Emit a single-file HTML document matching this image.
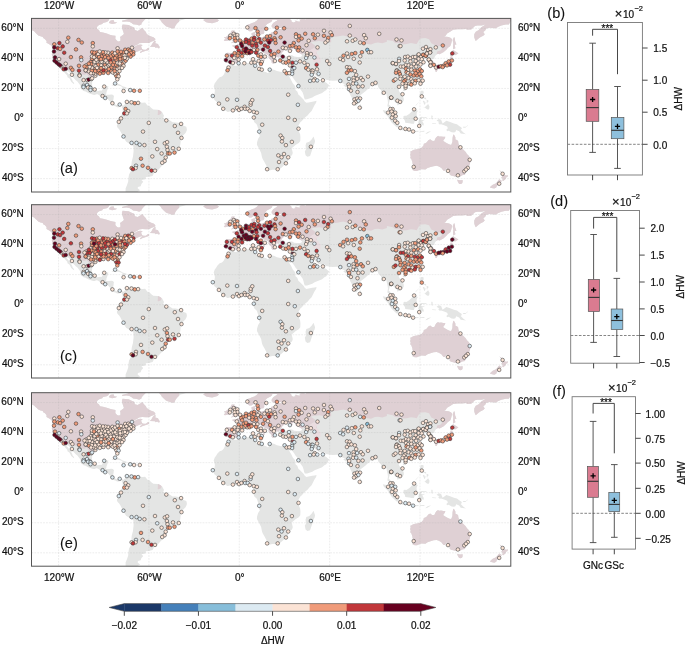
<!DOCTYPE html>
<html><head><meta charset="utf-8"><style>
html,body{margin:0;padding:0;background:#fff;}
svg{display:block;}
text{font-family:'Liberation Sans',Arial,sans-serif;font-size:10px;fill:#111;stroke:#111;stroke-width:0.22px;}
</style></head><body>
<svg width="685" height="645" viewBox="0 0 685 645">
<rect width="685" height="645" fill="#fff"/>
<clipPath id="clipa"><rect x="31.50" y="18.40" width="479.30" height="173.60"/></clipPath><g clip-path="url(#clipa)"><g transform="translate(239.300 118.500) scale(1.5060 1.5030)"><path d="M47.00,25.00L45.20,25.50L44.00,24.50L43.50,22.00L44.30,20.50L44.00,18.00L44.50,16.20L46.50,15.50L48.00,14.00L49.30,12.00L50.30,15.00L50.00,16.50L49.50,17.50L48.50,20.50L47.50,23.50L47.00,25.00ZM3.00,-36.80L5.00,-36.70L6.50,-37.00L8.50,-36.90L9.50,-37.30L10.30,-36.80L10.80,-35.50L10.50,-34.00L11.50,-33.20L13.20,-32.90L15.20,-32.30L15.50,-31.50L17.50,-31.00L19.00,-30.30L20.00,-31.00L20.00,-32.00L21.00,-32.80L23.00,-32.50L25.00,-31.60L28.00,-30.90L30.00,-31.30L31.00,-31.60L32.30,-31.30L34.20,-31.30L34.80,-32.50L35.10,-33.20L35.50,-34.50L35.90,-35.50L36.00,-36.50L35.50,-36.60L34.50,-36.80L33.00,-36.20L32.00,-36.50L30.50,-36.60L29.00,-36.60L27.50,-37.00L26.50,-38.30L26.50,-39.50L26.20,-40.20L27.50,-40.50L29.00,-41.00L29.50,-41.20L31.50,-41.30L33.50,-42.00L35.00,-42.00L36.50,-41.30L38.50,-41.00L40.50,-41.00L41.50,-41.50L41.60,-42.50L40.00,-43.40L38.50,-44.50L37.00,-45.00L38.00,-46.50L39.20,-47.20L37.00,-46.80L35.00,-46.20L35.50,-45.30L34.00,-44.40L33.00,-45.30L32.50,-45.50L33.50,-46.00L31.50,-46.60L30.70,-46.50L30.00,-45.50L29.50,-45.00L28.70,-44.30L28.00,-43.30L27.90,-42.50L28.00,-41.80L29.00,-41.20L27.50,-40.80L26.20,-40.60L25.00,-40.90L23.80,-40.70L22.90,-40.60L23.50,-39.80L22.80,-39.00L24.00,-38.20L23.00,-37.90L23.00,-36.50L22.50,-36.40L21.70,-36.90L21.30,-37.60L21.50,-38.30L20.80,-39.00L20.00,-39.70L19.40,-40.50L19.50,-41.80L18.80,-42.30L17.50,-43.00L16.00,-43.50L15.00,-44.50L14.50,-45.20L13.70,-45.10L13.80,-45.60L12.30,-45.40L12.50,-44.50L13.50,-43.60L14.50,-42.20L16.00,-41.50L17.50,-40.80L18.50,-40.10L17.20,-40.40L16.50,-39.50L17.10,-39.00L16.10,-38.00L15.60,-38.20L16.00,-39.50L15.50,-40.10L14.50,-40.60L13.50,-41.20L12.00,-42.00L10.50,-43.00L10.00,-44.00L8.90,-44.40L7.50,-43.80L6.50,-43.10L5.00,-43.40L4.00,-43.50L3.00,-43.00L3.20,-41.90L2.20,-41.40L0.80,-41.00L0.00,-39.80L-0.30,-39.50L0.20,-38.70L-0.70,-37.60L-2.00,-36.70L-4.40,-36.70L-5.60,-36.00L-6.30,-36.50L-7.40,-37.20L-8.90,-37.00L-8.80,-38.50L-9.50,-38.80L-9.00,-39.80L-8.70,-41.00L-8.90,-42.00L-9.30,-43.00L-8.00,-43.70L-5.80,-43.60L-3.80,-43.50L-1.80,-43.40L-1.40,-44.50L-1.20,-46.00L-2.20,-47.10L-4.40,-47.90L-4.70,-48.50L-3.00,-48.80L-1.60,-48.60L-1.40,-49.70L-0.20,-49.30L1.30,-50.00L1.60,-50.90L2.50,-51.10L3.40,-51.40L4.20,-52.00L4.80,-53.00L6.00,-53.50L7.20,-53.50L8.60,-53.90L8.90,-54.80L8.20,-55.50L8.10,-56.80L10.50,-57.70L10.30,-56.50L10.90,-56.30L10.00,-55.00L10.90,-54.40L12.00,-54.20L13.80,-54.10L14.50,-53.90L16.50,-54.50L18.50,-54.80L19.50,-54.40L21.20,-55.20L21.10,-56.00L21.00,-57.00L22.50,-57.60L24.30,-57.00L23.50,-58.50L24.00,-59.30L25.50,-59.60L28.00,-59.50L30.20,-59.90L29.00,-60.20L26.50,-60.40L23.00,-59.90L21.50,-60.80L21.50,-62.00L22.50,-63.50L24.50,-64.80L25.40,-65.10L24.60,-65.70L22.00,-65.70L21.50,-64.50L20.50,-63.80L18.50,-62.80L17.40,-61.60L17.20,-60.80L18.80,-60.00L18.50,-59.30L16.50,-58.40L16.60,-57.00L16.00,-56.20L14.50,-56.00L12.90,-55.40L12.60,-56.20L11.90,-57.70L11.20,-59.00L10.50,-59.50L9.50,-59.00L8.00,-58.10L6.60,-58.10L5.60,-58.80L5.20,-60.00L5.00,-61.50L5.50,-62.30L7.00,-62.90L8.50,-63.50L10.00,-64.00L11.50,-65.00L12.50,-66.20L13.50,-67.50L15.00,-69.00L18.33,-70.00L32.50,-70.00L35.00,-69.50L41.00,-67.80L41.20,-66.80L40.20,-66.40L38.50,-66.10L36.00,-66.50L34.50,-66.60L33.50,-66.30L34.80,-65.00L34.60,-64.50L36.00,-63.90L37.50,-64.30L37.00,-64.80L36.50,-65.00L37.80,-65.10L39.00,-64.60L40.50,-64.60L40.20,-65.30L39.80,-65.70L41.00,-66.10L42.00,-66.50L44.20,-65.90L44.50,-66.80L45.00,-68.00L55.00,-69.00L60.00,-70.00L180.50,-70.00L180.50,-65.30L179.00,-62.50L177.00,-62.50L174.00,-61.80L172.00,-61.00L170.30,-60.00L166.00,-60.30L164.00,-59.80L163.30,-58.50L162.00,-57.50L163.00,-56.00L162.00,-55.00L160.00,-54.00L158.70,-53.00L157.00,-51.50L156.50,-52.50L156.00,-54.00L156.00,-56.00L157.00,-57.80L159.00,-58.80L160.50,-60.50L162.00,-61.50L163.50,-62.50L161.00,-61.80L158.00,-61.80L156.50,-61.50L154.00,-59.20L151.00,-59.00L150.80,-59.60L148.00,-59.30L145.00,-59.40L142.00,-59.00L140.50,-58.00L138.00,-56.50L137.00,-55.00L136.00,-54.50L139.00,-54.20L140.50,-53.50L141.40,-52.50L141.00,-51.00L140.50,-49.00L140.00,-48.00L138.50,-47.00L137.50,-45.80L135.50,-44.00L133.00,-42.70L131.90,-43.10L130.70,-42.40L129.70,-41.00L129.50,-40.00L128.50,-39.50L127.50,-39.50L128.00,-39.00L128.50,-38.30L129.40,-37.00L129.50,-35.50L129.00,-35.10L127.80,-34.80L126.50,-34.40L126.50,-35.50L126.80,-36.50L126.60,-37.40L126.20,-37.80L125.00,-38.00L125.30,-39.20L124.50,-39.80L122.50,-39.50L121.20,-38.80L121.70,-39.50L122.20,-40.50L121.50,-40.90L120.50,-40.20L119.50,-39.80L118.50,-39.10L117.70,-38.70L118.50,-38.00L119.00,-37.20L120.00,-37.50L121.50,-37.50L122.50,-37.00L121.00,-36.50L120.20,-36.00L119.30,-35.00L120.00,-34.00L120.80,-32.50L121.80,-31.70L121.90,-30.90L121.00,-30.30L122.00,-29.80L121.50,-28.50L120.50,-27.50L119.50,-26.00L118.50,-24.60L117.00,-23.50L115.50,-22.80L114.20,-22.30L113.50,-22.20L112.00,-21.80L110.50,-21.20L110.20,-20.30L109.80,-21.40L108.50,-21.70L107.50,-21.00L106.70,-20.50L105.80,-19.00L106.50,-17.50L107.50,-16.30L108.30,-15.50L109.20,-13.50L109.20,-12.00L108.50,-11.00L107.00,-10.40L106.50,-9.50L105.00,-8.60L104.80,-9.60L104.50,-10.40L103.50,-10.60L102.80,-12.00L101.50,-12.70L100.90,-13.40L100.00,-13.00L99.90,-12.00L99.50,-10.50L99.20,-9.30L100.30,-8.40L100.50,-7.30L101.50,-6.80L102.20,-6.20L103.40,-4.90L103.50,-3.00L104.20,-1.40L103.50,-1.30L102.50,-2.00L101.30,-2.90L100.60,-4.00L100.30,-5.50L100.20,-6.50L99.50,-7.50L98.30,-8.20L98.50,-9.50L98.70,-10.50L98.50,-12.50L98.00,-14.50L97.60,-16.50L96.50,-16.80L95.30,-15.80L94.30,-16.00L94.50,-17.50L94.00,-19.00L93.00,-20.00L92.30,-20.80L91.80,-22.30L90.50,-22.00L89.00,-21.80L87.00,-21.50L86.50,-20.20L85.00,-19.30L84.00,-18.30L82.30,-17.00L80.30,-15.50L80.20,-13.10L79.80,-11.50L79.80,-10.30L78.20,-8.90L77.50,-8.10L76.50,-8.90L76.00,-10.50L75.30,-12.20L74.60,-14.00L73.80,-15.50L73.00,-17.50L72.80,-19.00L72.70,-21.00L72.50,-21.80L72.20,-21.30L70.80,-20.70L69.00,-22.30L70.20,-22.70L68.60,-23.50L67.50,-23.80L66.80,-25.00L65.00,-25.30L62.00,-25.10L60.50,-25.30L58.50,-25.60L57.30,-25.80L56.50,-27.10L55.00,-26.70L53.50,-26.90L51.50,-27.90L50.50,-29.00L49.50,-30.00L48.50,-30.20L48.00,-29.50L48.50,-28.30L49.50,-27.00L50.20,-26.20L51.00,-24.70L51.60,-25.90L51.50,-24.50L53.00,-24.20L54.50,-24.30L56.00,-26.00L56.30,-26.40L56.50,-24.50L57.80,-23.80L59.00,-22.60L59.80,-22.30L58.70,-20.50L57.80,-19.00L56.50,-18.20L55.00,-17.00L52.50,-16.00L50.00,-15.00L48.50,-14.00L45.00,-12.80L43.50,-12.70L43.00,-14.00L42.70,-15.50L42.00,-17.50L40.50,-19.50L39.20,-21.50L38.50,-23.50L37.50,-24.50L36.50,-26.00L35.00,-28.00L35.00,-29.50L34.90,-29.50L34.30,-27.80L33.50,-28.20L32.50,-29.90L33.50,-27.30L34.50,-25.50L35.50,-23.50L36.80,-22.00L37.20,-21.00L37.30,-19.00L38.50,-18.00L39.30,-15.80L40.00,-15.30L41.50,-13.80L42.80,-12.50L43.30,-11.50L44.50,-10.40L46.00,-10.70L48.50,-11.20L50.00,-11.50L51.30,-11.80L51.00,-10.50L50.00,-9.00L49.00,-7.00L48.00,-5.00L46.50,-3.50L45.30,-2.00L44.00,-1.00L42.50,0.50L41.50,1.70L40.50,2.50L39.70,4.00L39.30,4.70L38.80,5.80L39.30,6.80L39.50,8.50L40.40,10.50L40.60,12.50L40.50,15.00L39.50,16.30L37.50,17.50L36.00,18.80L34.70,19.80L35.20,21.50L35.50,23.00L35.00,24.50L33.50,25.30L32.60,25.90L32.90,26.50L32.30,28.50L31.00,29.80L29.50,31.30L28.00,32.70L27.00,33.50L25.60,34.00L24.00,34.10L22.00,34.10L20.50,34.50L19.70,34.80L18.50,34.30L18.40,33.90L18.00,31.50L17.20,30.00L16.50,28.60L15.50,27.00L15.00,25.50L14.50,22.90L13.50,20.80L12.50,19.00L11.70,17.50L11.80,15.80L12.50,13.50L13.70,11.70L13.00,10.50L13.40,8.80L13.00,7.50L12.30,6.10L12.00,5.00L11.50,3.80L10.00,2.50L9.30,0.50L9.30,-0.80L9.60,-2.00L9.80,-3.00L9.50,-4.00L8.50,-4.60L7.50,-4.50L6.20,-4.30L5.50,-5.20L4.50,-6.20L3.40,-6.40L2.50,-6.40L1.20,-6.10L0.00,-5.60L-2.00,-4.80L-3.00,-5.10L-5.00,-5.10L-7.50,-4.40L-8.00,-4.50L-10.00,-6.00L-11.50,-6.90L-13.00,-8.30L-13.50,-9.50L-14.50,-10.50L-15.50,-11.50L-16.70,-12.40L-16.80,-13.50L-17.50,-14.70L-16.50,-16.50L-16.20,-18.50L-16.50,-20.00L-17.00,-21.50L-16.30,-23.50L-15.50,-24.50L-14.50,-26.00L-13.00,-27.50L-11.50,-28.00L-10.50,-29.00L-9.70,-30.50L-9.30,-32.50L-7.60,-33.60L-6.80,-34.00L-6.50,-34.50L-5.90,-35.80L-5.30,-35.90L-3.50,-35.20L-2.00,-35.10L-0.60,-35.80L1.00,-36.50L3.00,-36.80ZM80.50,-5.90L79.90,-6.80L79.80,-8.50L80.20,-9.80L81.00,-8.50L81.80,-7.20L81.30,-6.20L80.50,-5.90ZM-86.30,-66.00L-87.00,-64.90L-88.00,-64.20L-90.50,-63.60L-91.00,-62.80L-93.00,-62.20L-94.00,-61.50L-94.60,-60.50L-94.30,-59.50L-93.20,-58.80L-92.50,-57.50L-90.50,-57.20L-88.00,-56.50L-86.00,-55.80L-84.00,-55.30L-82.20,-55.10L-82.30,-53.00L-81.50,-52.00L-80.50,-51.30L-79.00,-51.50L-78.90,-53.00L-79.20,-54.30L-77.80,-55.30L-76.60,-56.30L-77.00,-57.50L-77.50,-59.00L-78.00,-61.00L-77.50,-62.50L-75.50,-62.30L-73.50,-62.20L-71.50,-61.20L-69.80,-60.50L-69.30,-58.80L-67.50,-58.30L-65.50,-59.50L-64.50,-60.30L-63.00,-58.50L-62.00,-57.50L-61.50,-56.30L-60.00,-55.30L-58.50,-54.50L-57.00,-54.00L-55.80,-53.00L-55.80,-52.00L-57.20,-51.50L-58.50,-51.00L-60.00,-50.20L-62.00,-50.20L-64.50,-50.30L-66.50,-50.10L-67.50,-49.30L-69.00,-48.50L-70.00,-47.80L-71.20,-46.90L-70.50,-47.10L-69.70,-47.60L-68.50,-48.40L-67.00,-49.00L-65.50,-49.20L-64.20,-48.90L-64.50,-48.50L-65.30,-47.80L-64.80,-47.00L-64.50,-46.20L-63.50,-45.80L-62.00,-45.80L-61.50,-46.30L-60.50,-47.00L-59.80,-46.30L-60.00,-45.80L-61.00,-45.30L-62.00,-45.00L-63.50,-44.60L-64.50,-44.20L-65.60,-43.50L-66.10,-44.00L-65.50,-44.60L-64.40,-45.30L-65.00,-45.50L-66.20,-45.20L-67.00,-44.80L-68.00,-44.40L-69.00,-44.10L-70.20,-43.70L-70.60,-43.10L-70.80,-42.60L-70.60,-42.00L-70.00,-42.00L-70.00,-41.60L-70.60,-41.50L-71.00,-41.50L-71.80,-41.30L-72.00,-41.00L-73.00,-40.70L-74.00,-40.60L-74.00,-40.20L-74.30,-39.50L-74.90,-38.90L-75.00,-38.80L-75.10,-38.30L-75.60,-37.50L-76.00,-36.90L-75.80,-36.20L-75.60,-35.20L-76.70,-34.70L-77.80,-34.20L-78.80,-33.80L-79.60,-33.00L-80.50,-32.30L-81.20,-31.50L-81.40,-30.50L-81.00,-29.40L-80.60,-28.30L-80.10,-27.00L-80.10,-26.20L-80.40,-25.30L-81.10,-25.20L-81.70,-25.90L-82.20,-26.70L-82.70,-27.80L-83.00,-29.00L-83.80,-29.80L-84.50,-29.90L-85.30,-29.70L-86.00,-30.30L-87.00,-30.40L-88.00,-30.50L-88.80,-30.40L-89.60,-30.10L-89.40,-29.00L-90.90,-29.10L-92.30,-29.60L-93.80,-29.70L-94.80,-29.30L-95.50,-28.80L-96.80,-28.30L-97.40,-27.50L-97.30,-26.50L-97.40,-25.50L-97.70,-24.00L-97.80,-22.50L-97.50,-21.30L-97.10,-20.40L-96.50,-19.50L-95.90,-18.80L-94.80,-18.50L-94.00,-18.20L-92.50,-18.60L-91.50,-18.50L-90.80,-19.30L-90.50,-20.00L-90.30,-21.10L-88.50,-21.50L-87.50,-21.50L-86.80,-21.30L-87.40,-20.30L-87.50,-19.30L-87.90,-18.30L-88.20,-17.50L-88.30,-16.50L-88.60,-15.70L-88.00,-15.80L-86.50,-15.80L-85.00,-15.90L-84.00,-15.80L-83.20,-15.00L-83.40,-14.20L-83.50,-12.90L-83.80,-11.90L-83.70,-11.00L-83.40,-10.40L-82.60,-9.60L-82.20,-9.20L-81.70,-9.00L-80.90,-8.90L-79.90,-9.40L-79.00,-9.60L-78.00,-9.20L-77.40,-8.70L-76.80,-8.60L-76.00,-9.40L-75.50,-10.40L-74.20,-11.10L-73.30,-11.30L-72.20,-12.30L-71.90,-11.60L-71.60,-10.80L-70.20,-11.90L-69.80,-11.50L-68.30,-10.90L-67.50,-10.50L-66.00,-10.60L-64.20,-10.50L-62.50,-10.60L-62.00,-10.00L-61.00,-8.60L-59.80,-8.30L-58.20,-6.80L-57.10,-6.00L-54.00,-5.80L-52.50,-5.20L-51.20,-4.20L-50.00,-1.80L-50.50,-0.50L-49.50,0.10L-48.50,1.40L-46.50,1.00L-44.30,2.50L-42.50,2.60L-40.50,2.80L-38.50,3.70L-37.00,4.90L-35.20,5.50L-34.80,7.10L-34.90,8.00L-35.70,9.70L-37.50,11.50L-38.50,13.00L-39.00,13.50L-38.90,15.00L-39.20,17.70L-39.70,19.00L-40.30,20.30L-41.00,22.00L-42.00,22.90L-43.20,22.90L-44.50,23.20L-46.30,24.00L-48.00,25.40L-48.50,26.30L-48.60,28.00L-49.60,29.20L-50.70,30.80L-52.10,32.20L-53.40,33.70L-54.90,34.90L-56.00,34.90L-57.00,34.50L-58.50,34.50L-57.30,35.50L-56.70,36.50L-57.60,38.20L-60.00,38.80L-62.00,39.00L-62.30,40.50L-65.00,41.00L-63.80,42.10L-64.30,42.80L-65.00,43.50L-65.50,45.00L-67.30,45.50L-67.50,46.40L-65.90,47.80L-67.80,49.00L-68.30,50.10L-68.46,52.00L-75.00,52.00L-75.50,49.00L-75.50,46.50L-74.50,44.00L-73.80,42.00L-73.60,39.50L-73.20,37.20L-72.00,35.00L-71.60,33.00L-71.60,30.50L-71.40,28.50L-70.60,25.50L-70.40,23.60L-70.20,22.00L-70.20,20.00L-70.40,18.40L-71.40,17.70L-73.50,16.40L-75.20,15.30L-76.20,13.60L-77.10,12.10L-78.20,10.00L-79.00,8.40L-79.80,7.20L-80.90,6.00L-81.30,5.00L-81.20,4.20L-80.30,3.40L-80.10,2.60L-80.90,2.20L-80.90,1.00L-80.40,0.30L-80.00,-0.80L-79.00,-1.50L-78.60,-2.20L-77.50,-3.20L-77.30,-4.00L-77.40,-5.50L-77.50,-6.60L-77.90,-7.20L-78.20,-8.30L-78.80,-8.90L-79.60,-8.90L-80.30,-8.30L-80.00,-7.50L-80.40,-7.30L-81.50,-7.70L-82.30,-8.20L-83.00,-8.30L-83.70,-8.60L-84.70,-9.60L-85.00,-9.80L-85.60,-9.80L-85.80,-10.40L-85.70,-11.10L-86.70,-12.20L-87.30,-12.90L-87.60,-13.00L-88.00,-13.20L-89.00,-13.40L-90.00,-13.80L-91.00,-13.90L-92.20,-14.60L-93.00,-15.50L-94.00,-16.10L-95.00,-16.20L-96.00,-15.70L-97.00,-15.80L-98.50,-16.30L-99.90,-16.80L-101.00,-17.30L-102.00,-17.90L-103.50,-18.30L-104.30,-19.10L-105.00,-19.40L-105.60,-20.40L-105.30,-21.00L-105.60,-22.20L-106.40,-23.20L-107.50,-24.70L-108.60,-25.50L-109.50,-26.50L-111.00,-27.90L-112.20,-29.20L-112.80,-30.80L-113.50,-31.30L-114.80,-31.80L-114.50,-30.80L-113.50,-29.80L-112.80,-28.60L-112.00,-27.50L-111.00,-25.90L-110.60,-24.60L-109.90,-24.00L-109.60,-23.00L-110.20,-23.20L-111.60,-24.50L-112.20,-25.60L-112.80,-26.70L-114.10,-27.50L-114.20,-28.50L-115.20,-29.60L-116.00,-30.50L-116.60,-31.60L-117.10,-32.50L-117.30,-33.10L-118.40,-33.90L-119.50,-34.40L-120.60,-34.60L-121.30,-35.70L-121.90,-36.60L-122.50,-37.50L-123.00,-38.00L-123.80,-39.70L-124.20,-41.00L-124.50,-42.80L-124.00,-44.60L-124.00,-46.20L-124.40,-47.50L-124.70,-48.40L-125.50,-48.90L-126.50,-49.60L-128.30,-50.60L-127.80,-50.90L-128.20,-51.80L-129.00,-52.80L-130.20,-53.60L-130.50,-54.30L-132.00,-54.70L-133.50,-55.30L-134.50,-56.30L-135.50,-57.20L-136.20,-58.00L-137.00,-58.40L-138.50,-59.10L-140.00,-59.70L-140.00,-70.00L-84.33,-70.00L-81.50,-69.00L-82.00,-67.00L-85.50,-67.50L-86.00,-66.60L-86.30,-66.00ZM-78.30,-18.20L-78.30,-18.40L-76.30,-18.20L-76.80,-17.90L-78.30,-18.20ZM-65.70,-18.00L-67.20,-18.00L-67.20,-18.50L-65.60,-18.40L-65.70,-18.00ZM-72.50,-18.20L-74.40,-18.30L-74.40,-18.50L-72.70,-19.90L-71.00,-19.90L-69.50,-19.30L-68.40,-18.60L-69.00,-18.30L-71.00,-18.00L-72.50,-18.20ZM-74.20,-20.20L-75.50,-19.90L-77.70,-19.90L-77.50,-20.70L-78.50,-21.50L-80.50,-22.00L-82.00,-22.30L-83.50,-22.00L-84.90,-21.90L-84.00,-22.60L-82.50,-23.10L-80.50,-23.10L-79.00,-22.50L-77.50,-21.50L-75.70,-21.00L-74.20,-20.20ZM-53.50,-48.50L-52.80,-47.50L-53.10,-46.70L-54.00,-46.80L-54.50,-47.40L-55.50,-46.90L-56.00,-47.60L-59.40,-47.70L-58.50,-48.50L-57.50,-50.30L-56.50,-51.60L-55.50,-51.50L-55.80,-50.00L-54.00,-49.50L-53.50,-48.50ZM-9.90,-53.50L-10.00,-54.20L-8.60,-54.30L-8.40,-54.80L-7.50,-55.30L-6.20,-55.20L-5.50,-54.60L-6.20,-54.00L-6.10,-53.30L-6.00,-52.20L-6.50,-52.10L-8.00,-51.80L-9.50,-51.50L-10.30,-51.90L-9.80,-52.50L-9.00,-53.20L-9.90,-53.50ZM-3.00,-53.40L-3.00,-54.00L-3.50,-54.90L-5.00,-54.80L-5.00,-55.70L-5.60,-56.30L-5.70,-57.50L-5.00,-58.60L-3.00,-58.60L-3.50,-57.70L-1.80,-57.60L-2.00,-57.00L-2.60,-56.00L-1.60,-55.60L-1.00,-54.50L0.00,-53.60L0.30,-53.00L1.70,-52.50L1.40,-51.20L-1.00,-50.80L-3.00,-50.70L-4.20,-50.40L-5.70,-50.10L-4.50,-51.00L-3.20,-51.40L-5.20,-51.70L-4.10,-52.50L-4.50,-53.30L-3.00,-53.40ZM-86.50,-63.50L-86.50,-64.00L-85.50,-65.20L-83.50,-65.50L-83.00,-64.20L-81.00,-63.80L-82.50,-63.20L-84.50,-62.80L-86.50,-63.50ZM-18.00,-63.40L-20.50,-63.70L-22.00,-64.00L-24.00,-65.50L-22.50,-66.40L-18.00,-66.20L-15.00,-66.30L-13.50,-65.30L-14.50,-64.40L-18.00,-63.40ZM-66.50,-61.90L-68.00,-62.30L-70.50,-62.70L-71.50,-63.50L-73.00,-64.30L-75.00,-64.60L-77.50,-64.30L-78.00,-65.00L-74.00,-66.00L-73.00,-66.80L-74.00,-70.00L-62.00,-70.00L-61.90,-66.60L-62.50,-66.00L-63.50,-65.00L-64.80,-63.50L-65.00,-62.60L-66.50,-61.90ZM-39.00,-65.30L-40.50,-64.00L-41.50,-63.00L-42.50,-61.50L-43.00,-60.20L-43.90,-59.80L-45.00,-60.00L-46.50,-60.50L-48.50,-61.20L-50.00,-62.50L-51.50,-64.00L-52.00,-65.00L-53.00,-66.00L-53.50,-66.80L-55.00,-70.00L-27.14,-70.00L-30.00,-68.00L-35.00,-66.50L-37.50,-65.70L-39.00,-65.30ZM116.50,9.00L116.10,8.30L119.00,8.20L119.00,8.80L116.50,9.00ZM115.50,8.80L114.60,8.50L115.00,8.20L115.70,8.40L115.50,8.80ZM119.90,8.80L119.80,8.40L123.00,8.20L122.80,8.80L119.90,8.80ZM112.00,8.30L110.00,8.00L108.00,7.80L106.50,7.40L105.30,6.80L106.50,6.00L108.50,6.50L110.50,6.90L112.50,6.90L114.50,7.80L114.50,8.60L112.00,8.30ZM123.00,-0.90L124.50,-1.00L125.20,-1.50L124.00,-0.40L121.50,-0.50L120.50,0.50L121.50,1.00L123.30,0.90L121.50,1.90L122.50,3.50L122.30,4.80L121.00,4.00L120.50,5.50L119.50,5.50L119.40,3.50L118.80,2.80L119.40,0.50L120.00,-0.50L121.00,-1.10L123.00,-0.90ZM106.00,3.00L105.80,5.80L104.50,5.90L102.50,4.00L101.00,2.50L100.00,1.00L99.00,-1.00L97.50,-2.50L96.00,-4.00L95.30,-5.60L97.50,-5.20L98.50,-4.00L100.00,-2.50L101.50,-1.70L103.50,-0.00L104.50,1.50L106.00,3.00ZM117.50,-6.00L118.50,-5.00L118.00,-4.20L117.70,-3.00L118.00,-1.00L117.00,-0.00L116.50,1.50L116.00,3.50L114.60,3.50L113.00,3.20L111.50,3.00L110.20,2.90L110.00,1.50L109.00,-0.00L109.00,-1.50L109.70,-1.90L111.00,-1.80L113.00,-3.20L114.50,-4.60L115.50,-5.30L116.50,-6.80L117.50,-6.00ZM125.40,-5.80L124.10,-6.50L123.20,-7.40L122.00,-7.00L123.50,-7.80L124.20,-8.40L125.40,-9.60L126.30,-8.00L126.10,-6.50L125.40,-5.80ZM119.30,-11.00L119.70,-11.30L117.20,-8.40L117.00,-8.80L119.30,-11.00ZM122.40,-10.60L122.00,-10.80L121.90,-11.80L122.90,-11.60L123.10,-11.00L122.83,-10.85L123.20,-10.90L123.40,-9.30L123.00,-9.10L122.50,-9.80L122.50,-10.66L122.40,-10.60ZM123.40,-9.80L123.80,-11.20L124.05,-11.00L123.60,-9.70L123.40,-9.80ZM124.50,-11.40L124.30,-12.50L125.50,-12.20L125.60,-11.20L125.00,-11.00L124.90,-10.10L124.40,-10.30L124.50,-11.40ZM124.10,-12.60L123.30,-13.00L122.00,-13.60L120.90,-13.70L120.60,-14.50L120.00,-15.00L119.80,-16.30L120.40,-17.50L120.60,-18.50L122.20,-18.50L122.50,-17.00L121.80,-16.00L121.60,-14.50L122.50,-14.00L124.00,-13.80L124.10,-12.60ZM110.00,-20.10L111.00,-19.60L110.50,-18.60L109.50,-18.20L108.60,-18.60L108.60,-19.20L110.00,-20.10ZM120.10,-23.00L120.70,-24.60L121.50,-25.30L122.00,-25.00L121.40,-22.70L120.70,-22.00L120.10,-23.00ZM169.30,46.60L166.50,46.00L166.80,45.30L168.30,44.00L170.50,43.00L171.50,41.80L172.10,40.90L172.70,40.50L174.30,41.40L174.00,42.00L173.00,43.00L172.70,43.80L171.20,44.50L170.60,45.90L169.30,46.60ZM145.20,42.20L144.60,40.70L146.50,41.10L148.30,40.90L148.30,42.20L147.90,43.20L146.90,43.60L146.00,43.50L145.20,42.20ZM178.50,37.70L178.00,39.00L177.00,39.30L176.80,40.30L175.30,41.60L174.60,41.30L175.00,40.00L173.80,39.30L174.60,38.80L174.70,37.50L174.30,36.50L172.70,34.40L174.00,35.20L174.80,36.80L175.50,37.00L176.00,37.60L177.50,37.90L178.50,37.70ZM122.50,16.80L123.50,16.50L124.50,15.80L125.50,14.50L126.80,13.80L128.00,14.80L129.50,14.90L130.20,13.30L130.80,12.40L132.00,11.50L132.60,12.00L134.00,11.90L135.50,12.20L136.80,12.20L136.50,13.30L135.50,14.50L135.50,15.00L137.00,16.00L138.50,16.80L140.00,17.50L140.80,17.40L141.50,15.50L141.60,13.00L142.00,11.00L142.50,10.70L143.50,12.50L143.50,14.00L144.50,14.30L145.30,15.00L145.50,16.50L146.20,18.50L147.50,19.50L149.00,21.00L150.50,22.50L151.00,23.50L152.50,25.00L153.10,26.50L153.60,28.50L153.00,30.50L152.50,32.00L151.30,33.80L150.80,34.80L150.00,36.50L149.90,37.50L148.00,37.80L146.50,38.80L145.00,38.30L144.50,38.20L143.50,38.80L142.00,38.30L140.50,38.00L139.50,37.00L139.80,36.00L138.50,35.50L138.50,34.90L137.80,35.70L138.00,34.00L137.80,33.00L136.50,34.80L135.60,34.80L135.20,34.30L134.20,32.90L132.50,32.00L131.00,31.50L129.00,31.70L127.00,32.30L125.00,32.90L123.60,33.90L121.00,33.80L119.50,34.30L118.00,35.00L116.50,35.00L115.00,34.30L115.00,33.50L115.70,33.20L115.70,31.90L115.00,30.00L114.90,29.00L114.20,27.00L113.50,26.30L113.80,25.00L113.40,24.30L113.80,23.00L113.50,22.00L114.10,21.80L115.50,21.00L116.80,20.60L118.80,20.30L121.00,19.50L122.30,18.00L122.50,16.80ZM127.30,8.30L126.50,9.00L124.50,10.20L123.50,10.30L125.00,9.00L127.30,8.30ZM142.50,3.30L144.50,3.80L146.00,5.00L147.50,6.00L147.80,6.80L147.00,7.50L148.00,8.50L149.00,9.50L150.50,10.50L149.50,10.30L147.00,10.00L146.00,8.50L144.00,7.70L143.50,9.00L142.50,9.30L141.00,9.10L139.00,8.10L138.00,8.40L137.50,7.50L138.50,6.50L138.00,5.30L136.00,4.50L134.00,3.90L133.00,4.00L132.00,2.80L133.00,2.30L132.00,2.00L131.00,1.30L132.50,0.40L134.00,0.90L135.00,3.30L137.50,1.50L140.00,2.40L142.50,3.30ZM150.50,5.50L152.00,4.20L151.50,5.00L150.00,6.20L148.50,6.00L148.50,5.50L150.50,5.50ZM128.20,3.50L128.00,3.00L130.80,3.30L130.50,3.70L128.20,3.50ZM127.50,-1.80L128.00,-2.20L128.60,-1.00L128.00,-0.50L128.70,0.60L127.60,0.30L127.50,-1.80ZM129.70,-32.80L129.80,-33.50L130.80,-33.90L131.70,-33.30L131.50,-32.00L131.00,-31.00L130.20,-31.20L130.10,-32.20L129.70,-32.80ZM132.50,-33.00L132.90,-33.90L134.00,-34.30L134.70,-34.00L134.20,-33.40L133.30,-33.30L132.80,-32.80L132.50,-33.00ZM136.80,-37.00L137.30,-37.50L137.00,-36.80L138.50,-37.50L139.50,-38.30L140.00,-39.50L140.00,-40.50L140.50,-41.20L141.40,-41.40L141.50,-40.50L142.00,-39.50L141.50,-38.30L141.00,-37.50L140.90,-36.50L140.80,-35.70L140.00,-35.00L139.70,-35.30L139.20,-35.20L138.80,-34.70L138.20,-34.60L137.00,-34.60L136.80,-34.30L136.00,-33.50L135.20,-33.80L135.30,-34.60L134.00,-34.60L132.50,-34.30L131.50,-34.00L130.90,-34.00L131.50,-34.60L132.50,-35.30L133.50,-35.50L135.00,-35.70L136.00,-35.90L136.80,-37.00ZM145.50,-43.30L143.30,-42.00L142.00,-42.50L141.20,-41.80L140.00,-41.50L140.00,-42.30L140.40,-43.20L141.50,-43.50L141.60,-45.30L142.00,-45.50L144.50,-44.00L145.50,-43.30ZM143.30,-51.50L144.20,-49.20L143.00,-49.00L143.50,-46.80L142.00,-46.00L141.90,-48.00L142.10,-50.00L141.70,-51.90L142.20,-53.60L142.70,-54.30L143.20,-53.00L143.30,-51.50Z" fill="#e4e5e4"/><path d="M-54.10,-3.80L-54.00,-5.75L-52.47,-5.18L-51.85,-4.70L-51.60,-4.20L-52.00,-3.00L-53.50,-2.30L-54.20,-2.30L-54.10,-3.80ZM34.80,-32.50L35.10,-33.20L35.60,-33.00L35.50,-31.50L34.90,-29.50L34.20,-31.30L34.80,-32.50ZM51.30,-44.50L51.53,-44.60L51.67,-42.73L51.00,-43.20L51.30,-44.50ZM-55.50,-46.90L-56.00,-47.60L-59.40,-47.70L-58.50,-48.50L-57.50,-50.30L-56.50,-51.60L-55.50,-51.50L-55.80,-50.00L-54.00,-49.50L-53.50,-48.50L-52.80,-47.50L-53.10,-46.70L-54.00,-46.80L-54.50,-47.40L-55.50,-46.90ZM-94.00,-61.50L-94.60,-60.50L-94.30,-59.50L-93.20,-58.80L-92.50,-57.50L-90.50,-57.20L-88.00,-56.50L-86.00,-55.80L-84.00,-55.30L-82.20,-55.10L-82.30,-53.00L-81.50,-52.00L-80.50,-51.30L-79.00,-51.50L-78.90,-53.00L-79.20,-54.30L-77.80,-55.30L-76.60,-56.30L-77.00,-57.50L-77.50,-59.00L-78.00,-61.00L-77.50,-62.50L-75.50,-62.30L-73.50,-62.20L-71.50,-61.20L-69.80,-60.50L-69.30,-58.80L-67.50,-58.30L-65.50,-59.50L-64.50,-60.30L-63.00,-58.50L-62.00,-57.50L-61.50,-56.30L-60.00,-55.30L-58.50,-54.50L-57.00,-54.00L-55.80,-53.00L-55.80,-52.00L-57.20,-51.50L-58.50,-51.00L-60.00,-50.20L-62.00,-50.20L-64.50,-50.30L-66.50,-50.10L-67.50,-49.30L-69.00,-48.50L-70.00,-47.80L-71.20,-46.90L-70.50,-47.10L-69.70,-47.60L-68.50,-48.40L-67.00,-49.00L-65.50,-49.20L-64.20,-48.90L-64.50,-48.50L-65.30,-47.80L-64.80,-47.00L-64.50,-46.20L-63.50,-45.80L-62.00,-45.80L-61.50,-46.30L-60.50,-47.00L-59.80,-46.30L-60.00,-45.80L-61.00,-45.30L-62.00,-45.00L-63.50,-44.60L-64.50,-44.20L-65.60,-43.50L-66.10,-44.00L-65.50,-44.60L-64.40,-45.30L-65.00,-45.50L-66.20,-45.20L-67.00,-44.80L-68.00,-44.40L-69.00,-44.10L-70.20,-43.70L-70.60,-43.10L-70.80,-42.60L-70.60,-42.00L-70.00,-42.00L-70.00,-41.60L-70.60,-41.50L-71.00,-41.50L-71.80,-41.30L-72.00,-41.00L-73.00,-40.70L-74.00,-40.60L-74.00,-40.20L-74.30,-39.50L-74.90,-38.90L-75.00,-38.80L-75.10,-38.30L-75.60,-37.50L-76.00,-36.90L-75.80,-36.20L-75.60,-35.20L-76.70,-34.70L-77.80,-34.20L-78.80,-33.80L-79.60,-33.00L-80.50,-32.30L-81.20,-31.50L-81.40,-30.50L-81.00,-29.40L-80.60,-28.30L-80.10,-27.00L-80.10,-26.20L-80.40,-25.30L-81.10,-25.20L-81.70,-25.90L-82.20,-26.70L-82.70,-27.80L-83.00,-29.00L-83.80,-29.80L-84.50,-29.90L-85.30,-29.70L-86.00,-30.30L-87.00,-30.40L-88.00,-30.50L-88.80,-30.40L-89.60,-30.10L-89.40,-29.00L-90.90,-29.10L-92.30,-29.60L-93.80,-29.70L-94.80,-29.30L-95.50,-28.80L-96.80,-28.30L-97.40,-27.50L-97.30,-26.50L-97.35,-26.00L-99.50,-27.50L-101.40,-29.80L-103.00,-29.00L-104.50,-29.60L-106.50,-31.80L-108.20,-31.80L-108.20,-31.30L-111.00,-31.30L-114.70,-32.70L-117.10,-32.50L-117.30,-33.10L-118.40,-33.90L-119.22,-34.27L-121.77,-36.40L-121.90,-36.60L-122.50,-37.50L-123.00,-38.00L-123.80,-39.70L-124.20,-41.00L-124.50,-42.80L-124.00,-44.60L-124.00,-46.20L-124.40,-47.50L-124.70,-48.40L-125.50,-48.90L-126.50,-49.60L-128.30,-50.60L-127.80,-50.90L-128.20,-51.80L-129.00,-52.80L-130.20,-53.60L-130.50,-54.30L-132.00,-54.70L-133.50,-55.30L-134.50,-56.30L-135.50,-57.20L-136.20,-58.00L-137.00,-58.40L-138.50,-59.10L-140.00,-59.70L-140.00,-70.00L-84.33,-70.00L-81.50,-69.00L-82.00,-67.00L-85.50,-67.50L-86.00,-66.60L-86.30,-66.00L-87.00,-64.90L-88.00,-64.20L-90.50,-63.60L-91.00,-62.80L-93.00,-62.20L-94.00,-61.50ZM-5.50,-54.60L-6.20,-54.00L-6.10,-53.30L-6.00,-52.20L-6.50,-52.10L-8.00,-51.80L-9.50,-51.50L-10.30,-51.90L-9.80,-52.50L-9.00,-53.20L-9.90,-53.50L-10.00,-54.20L-8.60,-54.30L-8.40,-54.80L-7.50,-55.30L-6.20,-55.20L-5.50,-54.60ZM-5.60,-56.30L-5.70,-57.50L-5.00,-58.60L-3.00,-58.60L-3.50,-57.70L-1.80,-57.60L-2.00,-57.00L-2.60,-56.00L-1.60,-55.60L-1.00,-54.50L0.00,-53.60L0.30,-53.00L1.70,-52.50L1.40,-51.20L-1.00,-50.80L-3.00,-50.70L-4.20,-50.40L-5.70,-50.10L-4.50,-51.00L-3.20,-51.40L-5.20,-51.70L-4.10,-52.50L-4.50,-53.30L-3.00,-53.40L-3.00,-54.00L-3.50,-54.90L-5.00,-54.80L-5.00,-55.70L-5.60,-56.30ZM35.00,-46.20L35.50,-45.30L34.00,-44.40L33.00,-45.30L32.50,-45.50L33.50,-46.00L31.50,-46.60L30.70,-46.50L30.00,-45.50L29.50,-45.00L28.70,-44.30L28.00,-43.30L27.90,-42.50L27.97,-41.99L26.60,-41.70L26.40,-41.00L26.24,-40.61L26.20,-40.60L25.00,-40.90L23.80,-40.70L22.90,-40.60L23.50,-39.80L22.80,-39.00L24.00,-38.20L23.00,-37.90L23.00,-36.50L22.50,-36.40L21.70,-36.90L21.30,-37.60L21.50,-38.30L20.80,-39.00L20.00,-39.70L19.40,-40.50L19.50,-41.80L18.80,-42.30L17.50,-43.00L16.00,-43.50L15.00,-44.50L14.50,-45.20L13.70,-45.10L13.80,-45.60L12.30,-45.40L12.50,-44.50L13.50,-43.60L14.50,-42.20L16.00,-41.50L17.50,-40.80L18.50,-40.10L17.20,-40.40L16.50,-39.50L17.10,-39.00L16.10,-38.00L15.60,-38.20L16.00,-39.50L15.50,-40.10L14.50,-40.60L13.50,-41.20L12.00,-42.00L10.50,-43.00L10.00,-44.00L8.90,-44.40L7.50,-43.80L6.50,-43.10L5.00,-43.40L4.00,-43.50L3.00,-43.00L3.20,-41.90L2.20,-41.40L0.80,-41.00L0.00,-39.80L-0.30,-39.50L0.20,-38.70L-0.70,-37.60L-1.73,-36.88L-2.50,-36.70L-4.40,-36.70L-5.58,-36.01L-5.61,-36.01L-6.30,-36.50L-7.40,-37.20L-8.90,-37.00L-8.80,-38.50L-9.50,-38.80L-9.00,-39.80L-8.70,-41.00L-8.90,-42.00L-9.30,-43.00L-8.00,-43.70L-5.80,-43.60L-3.80,-43.50L-1.80,-43.40L-1.40,-44.50L-1.20,-46.00L-2.20,-47.10L-4.40,-47.90L-4.70,-48.50L-3.00,-48.80L-1.60,-48.60L-1.40,-49.70L-0.20,-49.30L1.30,-50.00L1.60,-50.90L2.50,-51.10L3.40,-51.40L4.20,-52.00L4.80,-53.00L6.00,-53.50L7.20,-53.50L8.60,-53.90L8.90,-54.80L8.20,-55.50L8.10,-56.80L10.50,-57.70L10.30,-56.50L10.90,-56.30L10.00,-55.00L10.90,-54.40L12.00,-54.20L13.80,-54.10L14.50,-53.90L16.50,-54.50L18.50,-54.80L19.50,-54.40L21.20,-55.20L21.10,-56.00L21.00,-57.00L22.50,-57.60L24.30,-57.00L23.50,-58.50L24.00,-59.30L25.50,-59.60L28.00,-59.50L30.20,-59.90L29.00,-60.20L26.50,-60.40L23.00,-59.90L21.50,-60.80L21.50,-62.00L22.50,-63.50L24.50,-64.80L25.40,-65.10L24.60,-65.70L22.00,-65.70L21.50,-64.50L20.50,-63.80L18.50,-62.80L17.40,-61.60L17.20,-60.80L18.80,-60.00L18.50,-59.30L16.50,-58.40L16.60,-57.00L16.00,-56.20L14.50,-56.00L12.90,-55.40L12.60,-56.20L11.90,-57.70L11.20,-59.00L10.50,-59.50L9.50,-59.00L8.00,-58.10L6.60,-58.10L5.60,-58.80L5.20,-60.00L5.00,-61.50L5.50,-62.30L7.00,-62.90L8.50,-63.50L10.00,-64.00L11.50,-65.00L12.50,-66.20L13.50,-67.50L15.00,-69.00L18.33,-70.00L32.50,-70.00L35.00,-69.50L41.00,-67.80L41.20,-66.80L40.20,-66.40L38.50,-66.10L36.00,-66.50L34.50,-66.60L33.50,-66.30L34.80,-65.00L34.60,-64.50L36.00,-63.90L37.50,-64.30L37.00,-64.80L36.50,-65.00L37.80,-65.10L39.00,-64.60L40.50,-64.60L40.20,-65.30L39.80,-65.70L41.00,-66.10L42.00,-66.50L44.20,-65.90L44.50,-66.80L45.00,-68.00L55.00,-69.00L60.00,-70.00L180.50,-70.00L180.50,-65.30L179.00,-62.50L177.00,-62.50L174.00,-61.80L172.00,-61.00L170.30,-60.00L166.00,-60.30L164.00,-59.80L163.30,-58.50L162.00,-57.50L163.00,-56.00L162.00,-55.00L160.00,-54.00L158.70,-53.00L157.00,-51.50L156.50,-52.50L156.00,-54.00L156.00,-56.00L157.00,-57.80L159.00,-58.80L160.50,-60.50L162.00,-61.50L163.50,-62.50L161.00,-61.80L158.00,-61.80L156.50,-61.50L154.00,-59.20L151.00,-59.00L150.80,-59.60L148.00,-59.30L145.00,-59.40L142.00,-59.00L140.50,-58.00L138.00,-56.50L137.00,-55.00L136.00,-54.50L139.00,-54.20L140.50,-53.50L141.40,-52.50L141.00,-51.00L140.50,-49.00L140.00,-48.00L138.50,-47.00L137.50,-45.80L135.50,-44.00L133.00,-42.70L131.90,-43.10L130.70,-42.40L130.60,-42.30L131.00,-42.90L131.50,-44.80L133.00,-45.00L134.00,-45.50L135.00,-47.50L134.50,-48.20L133.00,-48.20L131.00,-47.70L130.00,-48.80L127.50,-50.00L126.00,-52.80L123.50,-53.50L120.50,-53.30L119.50,-52.50L117.80,-49.50L116.50,-49.80L114.00,-50.20L111.00,-49.50L108.50,-49.30L107.00,-50.00L103.50,-50.30L102.00,-51.50L98.00,-52.30L98.00,-51.00L95.00,-50.00L92.00,-50.50L90.00,-50.30L87.50,-49.20L85.00,-49.50L83.00,-51.00L80.00,-51.00L77.00,-53.50L76.00,-54.20L73.50,-54.00L69.00,-55.30L65.00,-54.50L60.00,-54.00L61.00,-52.50L61.00,-50.80L56.00,-51.00L53.00,-51.50L48.80,-51.00L47.50,-50.50L50.50,-48.50L50.00,-47.50L50.39,-46.85L49.00,-46.50L47.50,-45.50L46.80,-44.50L47.50,-43.00L48.60,-41.80L48.00,-41.80L46.50,-41.80L44.80,-42.80L42.50,-43.50L41.60,-42.50L40.00,-43.40L38.50,-44.50L37.00,-45.00L38.00,-46.50L39.20,-47.20L37.00,-46.80L35.00,-46.20ZM-82.50,-63.20L-84.50,-62.80L-86.50,-63.50L-86.50,-64.00L-85.50,-65.20L-83.50,-65.50L-83.00,-64.20L-81.00,-63.80L-82.50,-63.20ZM-18.00,-66.20L-15.00,-66.30L-13.50,-65.30L-14.50,-64.40L-18.00,-63.40L-20.50,-63.70L-22.00,-64.00L-24.00,-65.50L-22.50,-66.40L-18.00,-66.20ZM-77.50,-64.30L-78.00,-65.00L-74.00,-66.00L-73.00,-66.80L-74.00,-70.00L-62.00,-70.00L-61.90,-66.60L-62.50,-66.00L-63.50,-65.00L-64.80,-63.50L-65.00,-62.60L-66.50,-61.90L-68.00,-62.30L-70.50,-62.70L-71.50,-63.50L-73.00,-64.30L-75.00,-64.60L-77.50,-64.30ZM-46.50,-60.50L-48.50,-61.20L-50.00,-62.50L-51.50,-64.00L-52.00,-65.00L-53.00,-66.00L-53.50,-66.80L-55.00,-70.00L-40.00,-70.00L-40.00,-64.43L-40.50,-64.00L-41.50,-63.00L-42.50,-61.50L-43.00,-60.20L-43.90,-59.80L-45.00,-60.00L-46.50,-60.50ZM-30.00,-70.00L-27.14,-70.00L-30.00,-68.00L-30.00,-70.00ZM170.60,45.90L169.30,46.60L166.50,46.00L166.80,45.30L168.30,44.00L170.50,43.00L171.50,41.80L172.10,40.90L172.70,40.50L174.30,41.40L174.00,42.00L173.00,43.00L172.70,43.80L171.20,44.50L170.60,45.90ZM146.00,43.50L145.20,42.20L144.60,40.70L146.50,41.10L148.30,40.90L148.30,42.20L147.90,43.20L146.90,43.60L146.00,43.50ZM177.50,37.90L178.50,37.70L178.00,39.00L177.00,39.30L176.80,40.30L175.30,41.60L174.60,41.30L175.00,40.00L173.80,39.30L174.60,38.80L174.70,37.50L174.30,36.50L172.70,34.40L174.00,35.20L174.80,36.80L175.50,37.00L176.00,37.60L177.50,37.90ZM122.30,18.00L122.50,16.80L123.50,16.50L124.50,15.80L125.50,14.50L126.80,13.80L128.00,14.80L129.50,14.90L130.20,13.30L130.80,12.40L132.00,11.50L132.60,12.00L134.00,11.90L135.50,12.20L136.80,12.20L136.50,13.30L135.50,14.50L135.50,15.00L137.00,16.00L138.50,16.80L140.00,17.50L140.80,17.40L141.50,15.50L141.60,13.00L142.00,11.00L142.50,10.70L143.50,12.50L143.50,14.00L144.50,14.30L145.30,15.00L145.50,16.50L146.20,18.50L147.50,19.50L149.00,21.00L150.50,22.50L151.00,23.50L152.50,25.00L153.10,26.50L153.60,28.50L153.00,30.50L152.50,32.00L151.30,33.80L150.80,34.80L150.00,36.50L149.90,37.50L148.00,37.80L146.50,38.80L145.00,38.30L144.50,38.20L143.50,38.80L142.00,38.30L140.50,38.00L139.50,37.00L139.80,36.00L138.50,35.50L138.50,34.90L137.80,35.70L138.00,34.00L137.80,33.00L136.50,34.80L135.60,34.80L135.20,34.30L134.20,32.90L132.50,32.00L131.00,31.50L129.00,31.70L127.00,32.30L125.00,32.90L123.60,33.90L121.00,33.80L119.50,34.30L118.00,35.00L116.50,35.00L115.00,34.30L115.00,33.50L115.70,33.20L115.70,31.90L115.00,30.00L114.90,29.00L114.20,27.00L113.50,26.30L113.80,25.00L113.40,24.30L113.80,23.00L113.50,22.00L114.10,21.80L115.50,21.00L116.80,20.60L118.80,20.30L121.00,19.50L122.30,18.00ZM130.10,-32.20L129.70,-32.80L129.80,-33.50L130.80,-33.90L131.70,-33.30L131.50,-32.00L131.00,-31.00L130.20,-31.20L130.10,-32.20ZM133.30,-33.30L132.80,-32.80L132.50,-33.00L132.90,-33.90L134.00,-34.30L134.70,-34.00L134.20,-33.40L133.30,-33.30ZM126.50,-35.50L126.80,-36.50L126.60,-37.40L126.20,-37.80L127.00,-38.30L128.29,-38.60L128.50,-38.30L129.40,-37.00L129.50,-35.50L129.00,-35.10L127.80,-34.80L126.50,-34.40L126.50,-35.50ZM136.80,-37.00L137.30,-37.50L137.00,-36.80L138.50,-37.50L139.50,-38.30L140.00,-39.50L140.00,-40.00L140.00,-40.50L140.50,-41.20L141.40,-41.40L141.47,-40.74L141.47,-40.74L141.50,-40.50L142.00,-39.50L141.50,-38.30L141.00,-37.50L140.90,-36.50L140.80,-35.70L140.00,-35.00L139.70,-35.30L139.20,-35.20L138.80,-34.70L138.20,-34.60L137.00,-34.60L136.80,-34.30L136.00,-33.50L135.20,-33.80L135.30,-34.60L134.00,-34.60L132.50,-34.30L131.50,-34.00L130.90,-34.00L131.50,-34.60L132.50,-35.30L133.50,-35.50L135.00,-35.70L136.00,-35.90L136.80,-37.00ZM144.50,-44.00L145.50,-43.30L143.30,-42.00L142.00,-42.50L141.20,-41.80L140.00,-41.50L140.00,-42.30L140.40,-43.20L141.50,-43.50L141.60,-45.30L142.00,-45.50L144.50,-44.00ZM142.10,-50.00L141.70,-51.90L142.20,-53.60L142.70,-54.30L143.20,-53.00L143.30,-51.50L144.20,-49.20L143.00,-49.00L143.50,-46.80L142.00,-46.00L141.90,-48.00L142.10,-50.00Z" fill="#dfd0d4"/><path d="M46.80,-44.50L47.50,-45.50L49.00,-46.50L51.00,-47.00L53.00,-46.80L53.20,-45.30L51.30,-44.50L51.00,-43.20L52.70,-42.00L53.00,-41.00L54.00,-40.00L53.80,-38.00L53.90,-37.00L51.50,-36.80L50.00,-37.40L49.00,-38.20L49.30,-39.50L49.50,-40.50L48.50,-41.80L47.50,-43.00L46.80,-44.50Z" fill="#eadcdf"/></g><path d="M58.58 18.40V192.00M148.94 18.40V192.00M239.30 18.40V192.00M329.66 18.40V192.00M420.02 18.40V192.00M31.50 178.62H510.80M31.50 148.56H510.80M31.50 118.50H510.80M31.50 88.44H510.80M31.50 58.38H510.80M31.50 28.32H510.80" stroke="#b0b0b0" stroke-opacity="0.38" stroke-width="0.6" stroke-dasharray="1.8 1.1" fill="none"/><g stroke="#333" stroke-width="0.55"><circle cx="68.3" cy="37.7" r="1.8" fill="#f09b7a"/><circle cx="67.3" cy="41.8" r="1.8" fill="#fbe3d5"/><circle cx="78.5" cy="39.9" r="1.8" fill="#f09b7a"/><circle cx="81.8" cy="42.5" r="1.8" fill="#f09b7a"/><circle cx="92.8" cy="43.1" r="1.8" fill="#f09b7a"/><circle cx="92.8" cy="46.4" r="1.8" fill="#fbe3d5"/><circle cx="54.3" cy="44.3" r="1.8" fill="#f09b7a"/><circle cx="59.4" cy="43.1" r="1.8" fill="#c1373a"/><circle cx="62.7" cy="46.4" r="1.8" fill="#c1373a"/><circle cx="57.8" cy="48.2" r="1.8" fill="#c1373a"/><circle cx="60.1" cy="48.9" r="1.8" fill="#f09b7a"/><circle cx="54.3" cy="47.4" r="1.8" fill="#67001f"/><circle cx="54.0" cy="51.5" r="1.8" fill="#67001f"/><circle cx="64.2" cy="52.7" r="1.8" fill="#c1373a"/><circle cx="76.0" cy="49.4" r="1.8" fill="#f09b7a"/><circle cx="70.9" cy="57.1" r="1.8" fill="#f09b7a"/><circle cx="81.1" cy="57.4" r="1.8" fill="#f09b7a"/><circle cx="81.3" cy="60.1" r="1.8" fill="#dceaf2"/><circle cx="55.0" cy="57.4" r="1.8" fill="#67001f"/><circle cx="59.1" cy="59.1" r="1.8" fill="#fbe3d5"/><circle cx="54.5" cy="60.7" r="1.8" fill="#67001f"/><circle cx="56.5" cy="62.5" r="1.8" fill="#67001f"/><circle cx="58.6" cy="64.2" r="1.8" fill="#67001f"/><circle cx="65.7" cy="63.7" r="1.8" fill="#fbe3d5"/><circle cx="61.1" cy="66.3" r="1.8" fill="#fbe3d5"/><circle cx="60.1" cy="65.3" r="1.8" fill="#67001f"/><circle cx="63.7" cy="69.3" r="1.8" fill="#c1373a"/><circle cx="65.7" cy="68.8" r="1.8" fill="#67001f"/><circle cx="70.9" cy="67.8" r="1.8" fill="#f09b7a"/><circle cx="72.4" cy="69.9" r="1.8" fill="#f09b7a"/><circle cx="79.0" cy="65.8" r="1.8" fill="#f09b7a"/><circle cx="79.0" cy="70.7" r="1.8" fill="#c1373a"/><circle cx="71.9" cy="74.8" r="1.8" fill="#fbe3d5"/><circle cx="79.5" cy="75.0" r="1.8" fill="#fbe3d5"/><circle cx="86.2" cy="65.3" r="1.8" fill="#fbe3d5"/><circle cx="85.7" cy="70.4" r="1.8" fill="#fbe3d5"/><circle cx="83.6" cy="80.1" r="1.8" fill="#fbe3d5"/><circle cx="87.2" cy="80.1" r="1.8" fill="#fbe3d5"/><circle cx="88.7" cy="79.6" r="1.8" fill="#67001f"/><circle cx="91.3" cy="79.0" r="1.8" fill="#fbe3d5"/><circle cx="83.6" cy="85.7" r="1.8" fill="#dceaf2"/><circle cx="87.2" cy="85.7" r="1.8" fill="#dceaf2"/><circle cx="89.8" cy="87.2" r="1.8" fill="#dceaf2"/><circle cx="79.6" cy="75.7" r="1.8" fill="#fbe3d5"/><circle cx="92.1" cy="78.3" r="1.8" fill="#fbe3d5"/><circle cx="95.4" cy="75.7" r="1.8" fill="#fbe3d5"/><circle cx="83.5" cy="87.1" r="1.8" fill="#dceaf2"/><circle cx="87.1" cy="84.9" r="1.8" fill="#dceaf2"/><circle cx="88.1" cy="87.5" r="1.8" fill="#fbe3d5"/><circle cx="90.5" cy="88.1" r="1.8" fill="#dceaf2"/><circle cx="90.5" cy="90.1" r="1.8" fill="#dceaf2"/><circle cx="94.7" cy="89.5" r="1.8" fill="#fbe3d5"/><circle cx="104.2" cy="86.6" r="1.8" fill="#fbe3d5"/><circle cx="115.1" cy="83.5" r="1.8" fill="#dceaf2"/><circle cx="123.6" cy="91.0" r="1.8" fill="#fbe3d5"/><circle cx="130.2" cy="90.1" r="1.8" fill="#dceaf2"/><circle cx="134.1" cy="90.8" r="1.8" fill="#f09b7a"/><circle cx="139.8" cy="90.8" r="1.8" fill="#f09b7a"/><circle cx="102.6" cy="96.0" r="1.8" fill="#fbe3d5"/><circle cx="105.2" cy="98.0" r="1.8" fill="#dceaf2"/><circle cx="112.4" cy="103.2" r="1.8" fill="#fbe3d5"/><circle cx="119.7" cy="104.6" r="1.8" fill="#dceaf2"/><circle cx="126.9" cy="101.9" r="1.8" fill="#fbe3d5"/><circle cx="131.5" cy="102.3" r="1.8" fill="#fbe3d5"/><circle cx="134.8" cy="103.2" r="1.8" fill="#f09b7a"/><circle cx="138.1" cy="102.9" r="1.8" fill="#fbe3d5"/><circle cx="125.6" cy="108.9" r="1.8" fill="#f09b7a"/><circle cx="128.2" cy="111.1" r="1.8" fill="#fbe3d5"/><circle cx="124.3" cy="113.4" r="1.8" fill="#c1373a"/><circle cx="126.9" cy="113.4" r="1.8" fill="#fbe3d5"/><circle cx="121.0" cy="118.4" r="1.8" fill="#fbe3d5"/><circle cx="118.8" cy="121.9" r="1.8" fill="#fbe3d5"/><circle cx="148.8" cy="122.9" r="1.8" fill="#fbe3d5"/><circle cx="166.3" cy="120.4" r="1.8" fill="#fbe3d5"/><circle cx="174.8" cy="126.0" r="1.8" fill="#fbe3d5"/><circle cx="181.1" cy="123.9" r="1.8" fill="#fbe3d5"/><circle cx="143.0" cy="131.6" r="1.8" fill="#fbe3d5"/><circle cx="178.0" cy="132.8" r="1.8" fill="#fbe3d5"/><circle cx="181.5" cy="137.9" r="1.8" fill="#fbe3d5"/><circle cx="123.5" cy="136.5" r="1.8" fill="#dceaf2"/><circle cx="131.6" cy="142.9" r="1.8" fill="#dceaf2"/><circle cx="136.5" cy="142.9" r="1.8" fill="#dceaf2"/><circle cx="139.7" cy="144.7" r="1.8" fill="#dceaf2"/><circle cx="144.4" cy="145.1" r="1.8" fill="#fbe3d5"/><circle cx="155.0" cy="141.8" r="1.8" fill="#fbe3d5"/><circle cx="164.8" cy="143.3" r="1.8" fill="#fbe3d5"/><circle cx="167.1" cy="142.1" r="1.8" fill="#fbe3d5"/><circle cx="166.9" cy="146.8" r="1.8" fill="#fbe3d5"/><circle cx="157.2" cy="149.1" r="1.8" fill="#fbe3d5"/><circle cx="167.5" cy="150.0" r="1.8" fill="#fbe3d5"/><circle cx="173.0" cy="148.2" r="1.8" fill="#fbe3d5"/><circle cx="178.8" cy="148.8" r="1.8" fill="#fbe3d5"/><circle cx="161.6" cy="153.5" r="1.8" fill="#fbe3d5"/><circle cx="168.1" cy="153.5" r="1.8" fill="#f09b7a"/><circle cx="169.8" cy="153.5" r="1.8" fill="#f09b7a"/><circle cx="174.5" cy="152.6" r="1.8" fill="#f09b7a"/><circle cx="152.3" cy="156.4" r="1.8" fill="#fbe3d5"/><circle cx="165.7" cy="157.5" r="1.8" fill="#fbe3d5"/><circle cx="164.6" cy="161.1" r="1.8" fill="#fbe3d5"/><circle cx="162.2" cy="162.8" r="1.8" fill="#fbe3d5"/><circle cx="141.0" cy="158.7" r="1.8" fill="#f09b7a"/><circle cx="142.6" cy="165.7" r="1.8" fill="#f09b7a"/><circle cx="136.0" cy="165.7" r="1.8" fill="#dceaf2"/><circle cx="135.6" cy="168.1" r="1.8" fill="#fbe3d5"/><circle cx="131.6" cy="168.1" r="1.8" fill="#f09b7a"/><circle cx="133.0" cy="169.2" r="1.8" fill="#c1373a"/><circle cx="148.0" cy="167.8" r="1.8" fill="#f09b7a"/><circle cx="151.5" cy="170.6" r="1.8" fill="#c1373a"/><circle cx="155.0" cy="170.7" r="1.8" fill="#fbe3d5"/><circle cx="117.6" cy="48.3" r="1.8" fill="#fbe3d5"/><circle cx="125.2" cy="49.7" r="1.8" fill="#f09b7a"/><circle cx="128.3" cy="49.5" r="1.8" fill="#f09b7a"/><circle cx="132.0" cy="47.7" r="1.8" fill="#fbe3d5"/><circle cx="247.3" cy="27.4" r="1.8" fill="#fbe3d5"/><circle cx="255.5" cy="28.1" r="1.8" fill="#f09b7a"/><circle cx="266.3" cy="28.8" r="1.8" fill="#f09b7a"/><circle cx="276.9" cy="27.7" r="1.8" fill="#f09b7a"/><circle cx="284.1" cy="28.3" r="1.8" fill="#f09b7a"/><circle cx="257.6" cy="31.6" r="1.8" fill="#f09b7a"/><circle cx="258.1" cy="34.7" r="1.8" fill="#f09b7a"/><circle cx="275.6" cy="32.7" r="1.8" fill="#f09b7a"/><circle cx="230.3" cy="35.6" r="1.8" fill="#fbe3d5"/><circle cx="229.8" cy="38.2" r="1.8" fill="#f09b7a"/><circle cx="233.8" cy="33.8" r="1.8" fill="#fbe3d5"/><circle cx="235.1" cy="35.6" r="1.8" fill="#fbe3d5"/><circle cx="237.3" cy="35.1" r="1.8" fill="#fbe3d5"/><circle cx="237.3" cy="37.8" r="1.8" fill="#fbe3d5"/><circle cx="234.6" cy="38.2" r="1.8" fill="#f09b7a"/><circle cx="235.5" cy="40.8" r="1.8" fill="#f09b7a"/><circle cx="240.1" cy="40.6" r="1.8" fill="#f09b7a"/><circle cx="243.0" cy="42.6" r="1.8" fill="#f09b7a"/><circle cx="241.2" cy="43.9" r="1.8" fill="#67001f"/><circle cx="242.1" cy="46.1" r="1.8" fill="#67001f"/><circle cx="246.0" cy="39.5" r="1.8" fill="#c1373a"/><circle cx="246.0" cy="42.0" r="1.8" fill="#c1373a"/><circle cx="249.1" cy="40.8" r="1.8" fill="#c1373a"/><circle cx="249.1" cy="43.5" r="1.8" fill="#c1373a"/><circle cx="251.7" cy="38.6" r="1.8" fill="#f09b7a"/><circle cx="254.3" cy="37.8" r="1.8" fill="#c1373a"/><circle cx="253.9" cy="40.0" r="1.8" fill="#c1373a"/><circle cx="252.6" cy="43.0" r="1.8" fill="#f09b7a"/><circle cx="252.2" cy="45.6" r="1.8" fill="#c1373a"/><circle cx="256.1" cy="43.9" r="1.8" fill="#c1373a"/><circle cx="256.5" cy="46.1" r="1.8" fill="#c1373a"/><circle cx="259.2" cy="39.1" r="1.8" fill="#c1373a"/><circle cx="260.9" cy="42.6" r="1.8" fill="#c1373a"/><circle cx="257.8" cy="40.8" r="1.8" fill="#f09b7a"/><circle cx="264.4" cy="39.5" r="1.8" fill="#f09b7a"/><circle cx="267.0" cy="36.5" r="1.8" fill="#f09b7a"/><circle cx="270.1" cy="36.0" r="1.8" fill="#f09b7a"/><circle cx="267.9" cy="40.4" r="1.8" fill="#c1373a"/><circle cx="271.0" cy="40.0" r="1.8" fill="#c1373a"/><circle cx="269.2" cy="42.6" r="1.8" fill="#67001f"/><circle cx="274.5" cy="38.2" r="1.8" fill="#f09b7a"/><circle cx="275.1" cy="40.0" r="1.8" fill="#f09b7a"/><circle cx="275.6" cy="43.0" r="1.8" fill="#f09b7a"/><circle cx="264.9" cy="45.6" r="1.8" fill="#c1373a"/><circle cx="267.9" cy="47.0" r="1.8" fill="#c1373a"/><circle cx="280.6" cy="37.3" r="1.8" fill="#f09b7a"/><circle cx="284.6" cy="42.6" r="1.8" fill="#67001f"/><circle cx="236.8" cy="47.2" r="1.8" fill="#c1373a"/><circle cx="238.6" cy="50.5" r="1.8" fill="#c1373a"/><circle cx="241.6" cy="52.7" r="1.8" fill="#c1373a"/><circle cx="243.8" cy="49.6" r="1.8" fill="#c1373a"/><circle cx="246.9" cy="50.0" r="1.8" fill="#67001f"/><circle cx="247.8" cy="52.2" r="1.8" fill="#67001f"/><circle cx="250.4" cy="50.9" r="1.8" fill="#67001f"/><circle cx="244.7" cy="52.7" r="1.8" fill="#f09b7a"/><circle cx="247.3" cy="53.1" r="1.8" fill="#f09b7a"/><circle cx="253.9" cy="49.9" r="1.8" fill="#fbe3d5"/><circle cx="257.4" cy="50.0" r="1.8" fill="#f09b7a"/><circle cx="256.1" cy="52.7" r="1.8" fill="#c1373a"/><circle cx="263.1" cy="49.6" r="1.8" fill="#67001f"/><circle cx="270.1" cy="50.9" r="1.8" fill="#c1373a"/><circle cx="278.4" cy="51.6" r="1.8" fill="#f09b7a"/><circle cx="282.8" cy="47.8" r="1.8" fill="#fbe3d5"/><circle cx="234.6" cy="53.1" r="1.8" fill="#f09b7a"/><circle cx="238.1" cy="53.5" r="1.8" fill="#f09b7a"/><circle cx="232.0" cy="55.7" r="1.8" fill="#c1373a"/><circle cx="226.8" cy="55.7" r="1.8" fill="#f09b7a"/><circle cx="225.9" cy="60.1" r="1.8" fill="#67001f"/><circle cx="230.3" cy="62.1" r="1.8" fill="#67001f"/><circle cx="232.9" cy="63.0" r="1.8" fill="#fbe3d5"/><circle cx="234.2" cy="57.9" r="1.8" fill="#fbe3d5"/><circle cx="237.7" cy="55.7" r="1.8" fill="#f09b7a"/><circle cx="238.6" cy="59.7" r="1.8" fill="#fbe3d5"/><circle cx="238.6" cy="63.2" r="1.8" fill="#dceaf2"/><circle cx="242.1" cy="56.2" r="1.8" fill="#f09b7a"/><circle cx="244.3" cy="63.2" r="1.8" fill="#fbe3d5"/><circle cx="251.3" cy="62.7" r="1.8" fill="#fbe3d5"/><circle cx="253.0" cy="59.2" r="1.8" fill="#fbe3d5"/><circle cx="254.8" cy="62.7" r="1.8" fill="#fbe3d5"/><circle cx="255.2" cy="65.8" r="1.8" fill="#dceaf2"/><circle cx="258.3" cy="55.7" r="1.8" fill="#f09b7a"/><circle cx="258.7" cy="61.0" r="1.8" fill="#fbe3d5"/><circle cx="260.9" cy="54.4" r="1.8" fill="#fbe3d5"/><circle cx="260.9" cy="57.0" r="1.8" fill="#f09b7a"/><circle cx="261.8" cy="61.9" r="1.8" fill="#fbe3d5"/><circle cx="260.9" cy="64.0" r="1.8" fill="#f09b7a"/><circle cx="264.9" cy="56.6" r="1.8" fill="#fbe3d5"/><circle cx="259.2" cy="68.9" r="1.8" fill="#fbe3d5"/><circle cx="261.8" cy="69.7" r="1.8" fill="#fbe3d5"/><circle cx="269.7" cy="69.7" r="1.8" fill="#dceaf2"/><circle cx="271.4" cy="54.8" r="1.8" fill="#f09b7a"/><circle cx="274.5" cy="54.0" r="1.8" fill="#f09b7a"/><circle cx="273.9" cy="57.0" r="1.8" fill="#fbe3d5"/><circle cx="274.9" cy="61.0" r="1.8" fill="#fbe3d5"/><circle cx="280.2" cy="60.5" r="1.8" fill="#f09b7a"/><circle cx="282.8" cy="56.6" r="1.8" fill="#67001f"/><circle cx="283.2" cy="62.3" r="1.8" fill="#fbe3d5"/><circle cx="228.5" cy="67.5" r="1.8" fill="#fbe3d5"/><circle cx="227.6" cy="70.2" r="1.8" fill="#f09b7a"/><circle cx="296.0" cy="34.3" r="1.8" fill="#f09b7a"/><circle cx="296.0" cy="36.9" r="1.8" fill="#fbe3d5"/><circle cx="299.1" cy="36.0" r="1.8" fill="#f09b7a"/><circle cx="301.7" cy="38.6" r="1.8" fill="#f09b7a"/><circle cx="298.6" cy="40.4" r="1.8" fill="#f09b7a"/><circle cx="305.2" cy="33.8" r="1.8" fill="#f09b7a"/><circle cx="313.1" cy="34.3" r="1.8" fill="#f09b7a"/><circle cx="317.9" cy="34.7" r="1.8" fill="#fbe3d5"/><circle cx="314.8" cy="38.2" r="1.8" fill="#f09b7a"/><circle cx="308.7" cy="40.8" r="1.8" fill="#fbe3d5"/><circle cx="324.0" cy="30.8" r="1.8" fill="#fbe3d5"/><circle cx="323.9" cy="35.8" r="1.8" fill="#f09b7a"/><circle cx="330.6" cy="32.5" r="1.8" fill="#fbe3d5"/><circle cx="331.9" cy="35.1" r="1.8" fill="#f09b7a"/><circle cx="328.2" cy="37.9" r="1.8" fill="#f09b7a"/><circle cx="327.5" cy="40.8" r="1.8" fill="#fbe3d5"/><circle cx="325.4" cy="42.6" r="1.8" fill="#fbe3d5"/><circle cx="293.8" cy="43.0" r="1.8" fill="#f09b7a"/><circle cx="289.9" cy="46.1" r="1.8" fill="#f09b7a"/><circle cx="292.5" cy="45.6" r="1.8" fill="#f09b7a"/><circle cx="296.0" cy="47.4" r="1.8" fill="#f09b7a"/><circle cx="299.1" cy="47.4" r="1.8" fill="#f09b7a"/><circle cx="298.2" cy="50.5" r="1.8" fill="#f09b7a"/><circle cx="302.6" cy="50.5" r="1.8" fill="#fbe3d5"/><circle cx="306.5" cy="45.2" r="1.8" fill="#fbe3d5"/><circle cx="317.5" cy="47.4" r="1.8" fill="#fbe3d5"/><circle cx="285.9" cy="48.3" r="1.8" fill="#fbe3d5"/><circle cx="289.9" cy="50.9" r="1.8" fill="#fbe3d5"/><circle cx="307.0" cy="53.1" r="1.8" fill="#fbe3d5"/><circle cx="307.0" cy="55.7" r="1.8" fill="#fbe3d5"/><circle cx="310.9" cy="54.0" r="1.8" fill="#fbe3d5"/><circle cx="306.1" cy="57.9" r="1.8" fill="#dceaf2"/><circle cx="314.4" cy="57.5" r="1.8" fill="#dceaf2"/><circle cx="289.0" cy="57.9" r="1.8" fill="#fbe3d5"/><circle cx="285.9" cy="62.7" r="1.8" fill="#f09b7a"/><circle cx="288.6" cy="61.4" r="1.8" fill="#f09b7a"/><circle cx="292.5" cy="62.7" r="1.8" fill="#c1373a"/><circle cx="296.0" cy="62.7" r="1.8" fill="#dceaf2"/><circle cx="300.0" cy="61.4" r="1.8" fill="#fbe3d5"/><circle cx="289.9" cy="65.4" r="1.8" fill="#fbe3d5"/><circle cx="293.0" cy="67.5" r="1.8" fill="#67001f"/><circle cx="292.5" cy="69.3" r="1.8" fill="#dceaf2"/><circle cx="294.3" cy="68.0" r="1.8" fill="#dceaf2"/><circle cx="304.3" cy="62.7" r="1.8" fill="#fbe3d5"/><circle cx="307.8" cy="64.9" r="1.8" fill="#fbe3d5"/><circle cx="306.1" cy="68.0" r="1.8" fill="#f09b7a"/><circle cx="308.3" cy="69.7" r="1.8" fill="#fbe3d5"/><circle cx="311.8" cy="70.6" r="1.8" fill="#fbe3d5"/><circle cx="316.6" cy="64.7" r="1.8" fill="#c1373a"/><circle cx="317.0" cy="69.3" r="1.8" fill="#fbe3d5"/><circle cx="327.1" cy="61.0" r="1.8" fill="#fbe3d5"/><circle cx="329.3" cy="63.9" r="1.8" fill="#fbe3d5"/><circle cx="340.2" cy="58.8" r="1.8" fill="#fbe3d5"/><circle cx="284.6" cy="71.1" r="1.8" fill="#fbe3d5"/><circle cx="349.8" cy="25.9" r="1.8" fill="#fbe3d5"/><circle cx="349.8" cy="35.6" r="1.8" fill="#fbe3d5"/><circle cx="347.0" cy="41.3" r="1.8" fill="#fbe3d5"/><circle cx="352.7" cy="40.8" r="1.8" fill="#fbe3d5"/><circle cx="355.3" cy="39.5" r="1.8" fill="#fbe3d5"/><circle cx="364.1" cy="35.1" r="1.8" fill="#fbe3d5"/><circle cx="365.8" cy="38.2" r="1.8" fill="#fbe3d5"/><circle cx="360.1" cy="42.6" r="1.8" fill="#fbe3d5"/><circle cx="363.8" cy="43.2" r="1.8" fill="#f09b7a"/><circle cx="379.2" cy="33.8" r="1.8" fill="#fbe3d5"/><circle cx="396.5" cy="39.5" r="1.8" fill="#fbe3d5"/><circle cx="399.6" cy="46.1" r="1.8" fill="#fbe3d5"/><circle cx="367.3" cy="49.9" r="1.8" fill="#87beda"/><circle cx="368.9" cy="52.2" r="1.8" fill="#fbe3d5"/><circle cx="371.1" cy="52.2" r="1.8" fill="#fbe3d5"/><circle cx="361.9" cy="52.2" r="1.8" fill="#f09b7a"/><circle cx="355.3" cy="53.1" r="1.8" fill="#f09b7a"/><circle cx="351.8" cy="54.0" r="1.8" fill="#f09b7a"/><circle cx="347.0" cy="53.5" r="1.8" fill="#fbe3d5"/><circle cx="343.5" cy="55.7" r="1.8" fill="#f09b7a"/><circle cx="348.1" cy="57.0" r="1.8" fill="#fbe3d5"/><circle cx="343.1" cy="60.1" r="1.8" fill="#fbe3d5"/><circle cx="353.8" cy="58.8" r="1.8" fill="#fbe3d5"/><circle cx="360.3" cy="56.2" r="1.8" fill="#fbe3d5"/><circle cx="359.7" cy="62.5" r="1.8" fill="#fbe3d5"/><circle cx="392.6" cy="63.2" r="1.8" fill="#fbe3d5"/><circle cx="395.9" cy="64.0" r="1.8" fill="#fbe3d5"/><circle cx="399.1" cy="58.8" r="1.8" fill="#dceaf2"/><circle cx="347.0" cy="67.1" r="1.8" fill="#fbe3d5"/><circle cx="349.6" cy="67.5" r="1.8" fill="#fbe3d5"/><circle cx="348.8" cy="70.6" r="1.8" fill="#f09b7a"/><circle cx="351.4" cy="70.2" r="1.8" fill="#f09b7a"/><circle cx="354.9" cy="71.1" r="1.8" fill="#fbe3d5"/><circle cx="396.9" cy="70.2" r="1.8" fill="#fbe3d5"/><circle cx="401.5" cy="40.4" r="1.8" fill="#fbe3d5"/><circle cx="400.5" cy="46.1" r="1.8" fill="#fbe3d5"/><circle cx="423.0" cy="48.7" r="1.8" fill="#fbe3d5"/><circle cx="426.0" cy="47.0" r="1.8" fill="#fbe3d5"/><circle cx="428.2" cy="50.0" r="1.8" fill="#fbe3d5"/><circle cx="430.4" cy="49.2" r="1.8" fill="#fbe3d5"/><circle cx="430.2" cy="52.2" r="1.8" fill="#fbe3d5"/><circle cx="426.9" cy="53.1" r="1.8" fill="#fbe3d5"/><circle cx="435.8" cy="47.4" r="1.8" fill="#fbe3d5"/><circle cx="442.8" cy="45.5" r="1.8" fill="#f09b7a"/><circle cx="452.3" cy="53.4" r="1.8" fill="#c1373a"/><circle cx="418.6" cy="54.8" r="1.8" fill="#fbe3d5"/><circle cx="423.4" cy="54.8" r="1.8" fill="#f09b7a"/><circle cx="426.0" cy="55.7" r="1.8" fill="#f09b7a"/><circle cx="428.8" cy="59.7" r="1.8" fill="#fbe3d5"/><circle cx="430.6" cy="61.9" r="1.8" fill="#fbe3d5"/><circle cx="430.4" cy="65.4" r="1.8" fill="#fbe3d5"/><circle cx="433.9" cy="64.9" r="1.8" fill="#f09b7a"/><circle cx="436.1" cy="67.5" r="1.8" fill="#fbe3d5"/><circle cx="438.7" cy="66.7" r="1.8" fill="#67001f"/><circle cx="440.9" cy="66.2" r="1.8" fill="#f09b7a"/><circle cx="443.5" cy="65.8" r="1.8" fill="#f09b7a"/><circle cx="445.7" cy="63.2" r="1.8" fill="#f09b7a"/><circle cx="448.8" cy="61.4" r="1.8" fill="#f09b7a"/><circle cx="451.9" cy="60.5" r="1.8" fill="#f09b7a"/><circle cx="450.1" cy="64.7" r="1.8" fill="#c1373a"/><circle cx="447.0" cy="65.4" r="1.8" fill="#f09b7a"/><circle cx="442.7" cy="67.1" r="1.8" fill="#f09b7a"/><circle cx="399.0" cy="61.0" r="1.8" fill="#fbe3d5"/><circle cx="392.9" cy="63.1" r="1.8" fill="#fbe3d5"/><circle cx="396.0" cy="64.0" r="1.8" fill="#fbe3d5"/><circle cx="405.1" cy="57.0" r="1.8" fill="#fbe3d5"/><circle cx="407.8" cy="56.6" r="1.8" fill="#fbe3d5"/><circle cx="410.4" cy="58.3" r="1.8" fill="#fbe3d5"/><circle cx="413.0" cy="57.0" r="1.8" fill="#fbe3d5"/><circle cx="415.2" cy="57.0" r="1.8" fill="#fbe3d5"/><circle cx="418.7" cy="54.4" r="1.8" fill="#fbe3d5"/><circle cx="420.9" cy="57.0" r="1.8" fill="#fbe3d5"/><circle cx="423.1" cy="54.8" r="1.8" fill="#f09b7a"/><circle cx="425.7" cy="55.7" r="1.8" fill="#f09b7a"/><circle cx="427.0" cy="53.5" r="1.8" fill="#fbe3d5"/><circle cx="430.1" cy="52.6" r="1.8" fill="#fbe3d5"/><circle cx="404.7" cy="60.5" r="1.8" fill="#fbe3d5"/><circle cx="410.4" cy="61.4" r="1.8" fill="#fbe3d5"/><circle cx="415.7" cy="61.0" r="1.8" fill="#fbe3d5"/><circle cx="418.7" cy="58.8" r="1.8" fill="#fbe3d5"/><circle cx="421.8" cy="59.2" r="1.8" fill="#fbe3d5"/><circle cx="423.5" cy="62.3" r="1.8" fill="#fbe3d5"/><circle cx="428.8" cy="59.6" r="1.8" fill="#fbe3d5"/><circle cx="430.5" cy="62.3" r="1.8" fill="#fbe3d5"/><circle cx="400.8" cy="66.6" r="1.8" fill="#fbe3d5"/><circle cx="403.4" cy="66.6" r="1.8" fill="#fbe3d5"/><circle cx="406.0" cy="64.9" r="1.8" fill="#fbe3d5"/><circle cx="408.6" cy="65.3" r="1.8" fill="#fbe3d5"/><circle cx="411.3" cy="66.6" r="1.8" fill="#fbe3d5"/><circle cx="413.9" cy="64.0" r="1.8" fill="#fbe3d5"/><circle cx="416.1" cy="66.6" r="1.8" fill="#fbe3d5"/><circle cx="418.3" cy="63.1" r="1.8" fill="#fbe3d5"/><circle cx="420.5" cy="64.5" r="1.8" fill="#fbe3d5"/><circle cx="430.5" cy="65.8" r="1.8" fill="#fbe3d5"/><circle cx="406.0" cy="68.8" r="1.8" fill="#f09b7a"/><circle cx="408.2" cy="70.1" r="1.8" fill="#fbe3d5"/><circle cx="411.3" cy="69.7" r="1.8" fill="#fbe3d5"/><circle cx="414.8" cy="70.6" r="1.8" fill="#f09b7a"/><circle cx="417.8" cy="71.0" r="1.8" fill="#f09b7a"/><circle cx="420.0" cy="69.3" r="1.8" fill="#f09b7a"/><circle cx="421.8" cy="71.0" r="1.8" fill="#f09b7a"/><circle cx="396.4" cy="71.0" r="1.8" fill="#fbe3d5"/><circle cx="399.0" cy="71.9" r="1.8" fill="#f09b7a"/><circle cx="396.0" cy="72.8" r="1.8" fill="#f09b7a"/><circle cx="399.9" cy="74.1" r="1.8" fill="#f09b7a"/><circle cx="406.5" cy="72.3" r="1.8" fill="#f09b7a"/><circle cx="408.2" cy="73.2" r="1.8" fill="#fbe3d5"/><circle cx="410.4" cy="74.5" r="1.8" fill="#f09b7a"/><circle cx="413.9" cy="75.4" r="1.8" fill="#f09b7a"/><circle cx="417.0" cy="75.4" r="1.8" fill="#f09b7a"/><circle cx="419.6" cy="74.1" r="1.8" fill="#f09b7a"/><circle cx="421.3" cy="76.3" r="1.8" fill="#f09b7a"/><circle cx="415.7" cy="73.2" r="1.8" fill="#f09b7a"/><circle cx="400.8" cy="76.7" r="1.8" fill="#fbe3d5"/><circle cx="400.3" cy="78.9" r="1.8" fill="#fbe3d5"/><circle cx="393.8" cy="80.7" r="1.8" fill="#f09b7a"/><circle cx="395.5" cy="79.3" r="1.8" fill="#fbe3d5"/><circle cx="404.7" cy="76.7" r="1.8" fill="#fbe3d5"/><circle cx="408.6" cy="78.0" r="1.8" fill="#fbe3d5"/><circle cx="405.1" cy="80.2" r="1.8" fill="#f09b7a"/><circle cx="403.8" cy="81.5" r="1.8" fill="#f09b7a"/><circle cx="411.3" cy="79.3" r="1.8" fill="#fbe3d5"/><circle cx="412.6" cy="81.5" r="1.8" fill="#fbe3d5"/><circle cx="415.7" cy="80.7" r="1.8" fill="#f09b7a"/><circle cx="418.7" cy="80.2" r="1.8" fill="#fbe3d5"/><circle cx="422.7" cy="80.7" r="1.8" fill="#fbe3d5"/><circle cx="402.5" cy="83.7" r="1.8" fill="#fbe3d5"/><circle cx="406.0" cy="83.7" r="1.8" fill="#fbe3d5"/><circle cx="409.5" cy="83.7" r="1.8" fill="#fbe3d5"/><circle cx="411.3" cy="84.6" r="1.8" fill="#f09b7a"/><circle cx="414.8" cy="83.3" r="1.8" fill="#fbe3d5"/><circle cx="420.5" cy="83.7" r="1.8" fill="#fbe3d5"/><circle cx="399.0" cy="86.8" r="1.8" fill="#fbe3d5"/><circle cx="405.6" cy="87.7" r="1.8" fill="#fbe3d5"/><circle cx="405.6" cy="85.9" r="1.8" fill="#fbe3d5"/><circle cx="402.5" cy="94.2" r="1.8" fill="#fbe3d5"/><circle cx="421.8" cy="96.4" r="1.8" fill="#fbe3d5"/><circle cx="391.1" cy="97.7" r="1.8" fill="#fbe3d5"/><circle cx="292.1" cy="71.8" r="1.8" fill="#dceaf2"/><circle cx="292.1" cy="73.8" r="1.8" fill="#dceaf2"/><circle cx="286.6" cy="73.3" r="1.8" fill="#f09b7a"/><circle cx="289.2" cy="73.1" r="1.8" fill="#fbe3d5"/><circle cx="312.7" cy="70.7" r="1.8" fill="#fbe3d5"/><circle cx="312.2" cy="72.8" r="1.8" fill="#fbe3d5"/><circle cx="311.7" cy="74.8" r="1.8" fill="#dceaf2"/><circle cx="318.6" cy="73.8" r="1.8" fill="#dceaf2"/><circle cx="314.7" cy="78.9" r="1.8" fill="#fbe3d5"/><circle cx="310.1" cy="80.9" r="1.8" fill="#dceaf2"/><circle cx="313.7" cy="80.4" r="1.8" fill="#fbe3d5"/><circle cx="317.3" cy="80.4" r="1.8" fill="#dceaf2"/><circle cx="322.9" cy="80.2" r="1.8" fill="#fbe3d5"/><circle cx="298.4" cy="86.1" r="1.8" fill="#dceaf2"/><circle cx="288.2" cy="94.7" r="1.8" fill="#fbe3d5"/><circle cx="297.9" cy="104.8" r="1.8" fill="#dceaf2"/><circle cx="340.3" cy="80.9" r="1.8" fill="#dceaf2"/><circle cx="346.9" cy="72.8" r="1.8" fill="#f09b7a"/><circle cx="349.0" cy="78.9" r="1.8" fill="#dceaf2"/><circle cx="348.5" cy="84.5" r="1.8" fill="#fbe3d5"/><circle cx="349.0" cy="89.1" r="1.8" fill="#dceaf2"/><circle cx="356.2" cy="74.9" r="1.8" fill="#fbe3d5"/><circle cx="353.6" cy="78.0" r="1.8" fill="#fbe3d5"/><circle cx="357.1" cy="78.8" r="1.8" fill="#fbe3d5"/><circle cx="361.0" cy="78.0" r="1.8" fill="#fbe3d5"/><circle cx="362.8" cy="80.1" r="1.8" fill="#fbe3d5"/><circle cx="353.6" cy="80.6" r="1.8" fill="#fbe3d5"/><circle cx="368.0" cy="76.6" r="1.8" fill="#fbe3d5"/><circle cx="353.1" cy="83.6" r="1.8" fill="#fbe3d5"/><circle cx="356.2" cy="83.5" r="1.8" fill="#dceaf2"/><circle cx="349.2" cy="86.7" r="1.8" fill="#fbe3d5"/><circle cx="358.4" cy="86.7" r="1.8" fill="#fbe3d5"/><circle cx="362.6" cy="86.3" r="1.8" fill="#fbe3d5"/><circle cx="350.9" cy="90.7" r="1.8" fill="#fbe3d5"/><circle cx="357.5" cy="92.0" r="1.8" fill="#fbe3d5"/><circle cx="372.4" cy="84.1" r="1.8" fill="#fbe3d5"/><circle cx="375.5" cy="82.8" r="1.8" fill="#fbe3d5"/><circle cx="383.8" cy="92.8" r="1.8" fill="#fbe3d5"/><circle cx="354.5" cy="99.4" r="1.8" fill="#fbe3d5"/><circle cx="357.1" cy="98.5" r="1.8" fill="#fbe3d5"/><circle cx="360.1" cy="98.5" r="1.8" fill="#fbe3d5"/><circle cx="355.8" cy="102.0" r="1.8" fill="#fbe3d5"/><circle cx="358.4" cy="100.7" r="1.8" fill="#dceaf2"/><circle cx="354.0" cy="103.4" r="1.8" fill="#fbe3d5"/><circle cx="359.7" cy="107.7" r="1.8" fill="#fbe3d5"/><circle cx="397.4" cy="100.7" r="1.8" fill="#fbe3d5"/><circle cx="392.6" cy="109.1" r="1.8" fill="#fbe3d5"/><circle cx="390.4" cy="109.1" r="1.8" fill="#fbe3d5"/><circle cx="400.1" cy="101.9" r="1.8" fill="#fbe3d5"/><circle cx="414.1" cy="109.3" r="1.8" fill="#fbe3d5"/><circle cx="415.7" cy="118.7" r="1.8" fill="#fbe3d5"/><circle cx="419.2" cy="125.9" r="1.8" fill="#fbe3d5"/><circle cx="388.1" cy="112.6" r="1.8" fill="#fbe3d5"/><circle cx="391.6" cy="111.6" r="1.8" fill="#fbe3d5"/><circle cx="395.2" cy="112.6" r="1.8" fill="#fbe3d5"/><circle cx="392.7" cy="114.6" r="1.8" fill="#fbe3d5"/><circle cx="395.7" cy="116.2" r="1.8" fill="#fbe3d5"/><circle cx="391.9" cy="117.7" r="1.8" fill="#fbe3d5"/><circle cx="395.2" cy="120.8" r="1.8" fill="#fbe3d5"/><circle cx="397.3" cy="122.8" r="1.8" fill="#fbe3d5"/><circle cx="400.3" cy="127.9" r="1.8" fill="#fbe3d5"/><circle cx="405.4" cy="128.9" r="1.8" fill="#fbe3d5"/><circle cx="409.0" cy="129.5" r="1.8" fill="#fbe3d5"/><circle cx="413.1" cy="131.5" r="1.8" fill="#fbe3d5"/><circle cx="227.3" cy="99.4" r="1.8" fill="#fbe3d5"/><circle cx="237.0" cy="99.8" r="1.8" fill="#dceaf2"/><circle cx="218.9" cy="103.7" r="1.8" fill="#fbe3d5"/><circle cx="223.2" cy="108.8" r="1.8" fill="#fbe3d5"/><circle cx="232.9" cy="110.4" r="1.8" fill="#fbe3d5"/><circle cx="237.0" cy="107.8" r="1.8" fill="#fbe3d5"/><circle cx="239.0" cy="109.9" r="1.8" fill="#fbe3d5"/><circle cx="241.4" cy="108.8" r="1.8" fill="#fbe3d5"/><circle cx="244.6" cy="106.8" r="1.8" fill="#fbe3d5"/><circle cx="245.1" cy="108.8" r="1.8" fill="#fbe3d5"/><circle cx="247.7" cy="108.8" r="1.8" fill="#fbe3d5"/><circle cx="249.7" cy="110.9" r="1.8" fill="#fbe3d5"/><circle cx="250.6" cy="104.7" r="1.8" fill="#fbe3d5"/><circle cx="250.8" cy="102.5" r="1.8" fill="#fbe3d5"/><circle cx="252.3" cy="100.1" r="1.8" fill="#fbe3d5"/><circle cx="253.8" cy="111.9" r="1.8" fill="#fbe3d5"/><circle cx="256.9" cy="112.7" r="1.8" fill="#fbe3d5"/><circle cx="253.8" cy="117.5" r="1.8" fill="#fbe3d5"/><circle cx="262.2" cy="124.7" r="1.8" fill="#fbe3d5"/><circle cx="288.2" cy="117.8" r="1.8" fill="#fbe3d5"/><circle cx="294.8" cy="120.0" r="1.8" fill="#fbe3d5"/><circle cx="298.5" cy="128.7" r="1.8" fill="#fbe3d5"/><circle cx="259.2" cy="131.6" r="1.8" fill="#dceaf2"/><circle cx="280.6" cy="135.6" r="1.8" fill="#fbe3d5"/><circle cx="282.3" cy="138.0" r="1.8" fill="#fbe3d5"/><circle cx="281.9" cy="141.5" r="1.8" fill="#fbe3d5"/><circle cx="285.9" cy="145.1" r="1.8" fill="#fbe3d5"/><circle cx="291.9" cy="141.9" r="1.8" fill="#fbe3d5"/><circle cx="310.9" cy="146.8" r="1.8" fill="#fbe3d5"/><circle cx="278.3" cy="155.4" r="1.8" fill="#fbe3d5"/><circle cx="284.0" cy="154.0" r="1.8" fill="#fbe3d5"/><circle cx="281.6" cy="157.3" r="1.8" fill="#fbe3d5"/><circle cx="288.2" cy="157.3" r="1.8" fill="#fbe3d5"/><circle cx="279.0" cy="162.0" r="1.8" fill="#fbe3d5"/><circle cx="285.9" cy="163.3" r="1.8" fill="#fbe3d5"/><circle cx="267.1" cy="169.2" r="1.8" fill="#fbe3d5"/><circle cx="277.7" cy="169.2" r="1.8" fill="#fbe3d5"/><circle cx="460.4" cy="147.3" r="1.8" fill="#fbe3d5"/><circle cx="469.7" cy="159.8" r="1.8" fill="#fbe3d5"/><circle cx="413.7" cy="166.9" r="1.8" fill="#fbe3d5"/><circle cx="448.0" cy="170.9" r="1.8" fill="#fbe3d5"/><circle cx="457.9" cy="175.3" r="1.8" fill="#fbe3d5"/><circle cx="464.3" cy="171.3" r="1.8" fill="#fbe3d5"/><circle cx="467.8" cy="167.9" r="1.8" fill="#fbe3d5"/><circle cx="466.0" cy="169.6" r="1.8" fill="#fbe3d5"/><circle cx="502.6" cy="173.8" r="1.8" fill="#fbe3d5"/><circle cx="499.2" cy="183.7" r="1.8" fill="#fbe3d5"/><circle cx="212.8" cy="96.0" r="1.8" fill="#dceaf2"/><circle cx="245.5" cy="51.5" r="1.8" fill="#67001f"/><circle cx="248.5" cy="51.0" r="1.8" fill="#c1373a"/><circle cx="249.5" cy="53.0" r="1.8" fill="#67001f"/><circle cx="251.5" cy="52.0" r="1.8" fill="#c1373a"/><circle cx="246.0" cy="48.5" r="1.8" fill="#67001f"/><circle cx="391.1" cy="97.9" r="1.8" fill="#fbe3d5"/><circle cx="391.3" cy="97.6" r="1.8" fill="#fbe3d5"/><circle cx="104.8" cy="62.6" r="1.8" fill="#fbe3d5"/><circle cx="111.2" cy="70.9" r="1.8" fill="#f09b7a"/><circle cx="117.7" cy="73.8" r="1.8" fill="#f09b7a"/><circle cx="107.8" cy="66.3" r="1.8" fill="#fbe3d5"/><circle cx="117.6" cy="57.6" r="1.8" fill="#f09b7a"/><circle cx="117.1" cy="71.5" r="1.8" fill="#fbe3d5"/><circle cx="111.3" cy="67.4" r="1.8" fill="#f09b7a"/><circle cx="104.2" cy="54.8" r="1.8" fill="#f09b7a"/><circle cx="99.7" cy="63.1" r="1.8" fill="#fbe3d5"/><circle cx="96.2" cy="55.6" r="1.8" fill="#f09b7a"/><circle cx="101.6" cy="61.7" r="1.8" fill="#fbe3d5"/><circle cx="119.5" cy="53.9" r="1.8" fill="#f09b7a"/><circle cx="110.3" cy="54.2" r="1.8" fill="#fbe3d5"/><circle cx="126.6" cy="55.1" r="1.8" fill="#fbe3d5"/><circle cx="95.5" cy="73.6" r="1.8" fill="#fbe3d5"/><circle cx="93.7" cy="54.8" r="1.8" fill="#f09b7a"/><circle cx="105.7" cy="70.3" r="1.8" fill="#f09b7a"/><circle cx="133.3" cy="52.1" r="1.8" fill="#f09b7a"/><circle cx="101.1" cy="53.5" r="1.8" fill="#f09b7a"/><circle cx="85.7" cy="70.3" r="1.8" fill="#fbe3d5"/><circle cx="103.4" cy="58.6" r="1.8" fill="#f09b7a"/><circle cx="98.5" cy="59.3" r="1.8" fill="#f09b7a"/><circle cx="94.0" cy="59.7" r="1.8" fill="#f09b7a"/><circle cx="101.6" cy="56.5" r="1.8" fill="#f09b7a"/><circle cx="97.6" cy="72.1" r="1.8" fill="#f09b7a"/><circle cx="112.7" cy="58.4" r="1.8" fill="#f09b7a"/><circle cx="107.2" cy="55.2" r="1.8" fill="#f09b7a"/><circle cx="99.3" cy="66.8" r="1.8" fill="#fbe3d5"/><circle cx="103.4" cy="72.8" r="1.8" fill="#f09b7a"/><circle cx="96.8" cy="52.4" r="1.8" fill="#f09b7a"/><circle cx="115.0" cy="68.7" r="1.8" fill="#f09b7a"/><circle cx="101.0" cy="70.7" r="1.8" fill="#f09b7a"/><circle cx="120.2" cy="61.3" r="1.8" fill="#fbe3d5"/><circle cx="108.0" cy="52.7" r="1.8" fill="#fbe3d5"/><circle cx="116.4" cy="60.0" r="1.8" fill="#f09b7a"/><circle cx="116.3" cy="75.9" r="1.8" fill="#f09b7a"/><circle cx="104.8" cy="65.1" r="1.8" fill="#f09b7a"/><circle cx="105.8" cy="67.4" r="1.8" fill="#fbe3d5"/><circle cx="107.2" cy="62.3" r="1.8" fill="#fbe3d5"/><circle cx="90.7" cy="62.1" r="1.8" fill="#f09b7a"/><circle cx="110.2" cy="60.2" r="1.8" fill="#c1373a"/><circle cx="123.3" cy="52.6" r="1.8" fill="#f09b7a"/><circle cx="130.6" cy="56.6" r="1.8" fill="#f09b7a"/><circle cx="126.4" cy="52.0" r="1.8" fill="#fbe3d5"/><circle cx="129.9" cy="50.7" r="1.8" fill="#f09b7a"/><circle cx="123.8" cy="62.5" r="1.8" fill="#fbe3d5"/><circle cx="93.2" cy="73.0" r="1.8" fill="#fbe3d5"/><circle cx="117.5" cy="66.7" r="1.8" fill="#f09b7a"/><circle cx="122.1" cy="55.7" r="1.8" fill="#f09b7a"/><circle cx="115.6" cy="64.7" r="1.8" fill="#f09b7a"/><circle cx="108.2" cy="73.0" r="1.8" fill="#f09b7a"/><circle cx="122.8" cy="58.4" r="1.8" fill="#f09b7a"/><circle cx="95.0" cy="68.8" r="1.8" fill="#f09b7a"/><circle cx="120.6" cy="65.8" r="1.8" fill="#fbe3d5"/><circle cx="93.6" cy="64.3" r="1.8" fill="#fbe3d5"/><circle cx="89.7" cy="69.3" r="1.8" fill="#fbe3d5"/><circle cx="101.0" cy="65.3" r="1.8" fill="#fbe3d5"/><circle cx="117.4" cy="62.9" r="1.8" fill="#fbe3d5"/><circle cx="112.3" cy="52.6" r="1.8" fill="#f09b7a"/><circle cx="133.3" cy="54.4" r="1.8" fill="#f09b7a"/><circle cx="125.7" cy="60.7" r="1.8" fill="#f09b7a"/><circle cx="113.2" cy="54.9" r="1.8" fill="#f09b7a"/><circle cx="97.2" cy="61.9" r="1.8" fill="#fbe3d5"/><circle cx="91.2" cy="64.3" r="1.8" fill="#f09b7a"/><circle cx="109.6" cy="64.4" r="1.8" fill="#fbe3d5"/><circle cx="118.6" cy="76.4" r="1.8" fill="#fbe3d5"/><circle cx="98.1" cy="64.7" r="1.8" fill="#f09b7a"/><circle cx="86.8" cy="66.9" r="1.8" fill="#f09b7a"/><circle cx="113.9" cy="62.4" r="1.8" fill="#f09b7a"/><circle cx="117.5" cy="69.0" r="1.8" fill="#fbe3d5"/><circle cx="105.7" cy="60.5" r="1.8" fill="#fbe3d5"/><circle cx="127.0" cy="58.6" r="1.8" fill="#fbe3d5"/><circle cx="119.6" cy="68.1" r="1.8" fill="#fbe3d5"/><circle cx="92.1" cy="67.9" r="1.8" fill="#fbe3d5"/><circle cx="114.8" cy="73.5" r="1.8" fill="#fbe3d5"/><circle cx="108.8" cy="69.0" r="1.8" fill="#f09b7a"/><circle cx="105.4" cy="52.4" r="1.8" fill="#fbe3d5"/><circle cx="98.2" cy="54.2" r="1.8" fill="#fbe3d5"/><circle cx="103.3" cy="67.8" r="1.8" fill="#fbe3d5"/><circle cx="89.0" cy="71.5" r="1.8" fill="#fbe3d5"/><circle cx="116.3" cy="55.8" r="1.8" fill="#f09b7a"/><circle cx="110.7" cy="56.4" r="1.8" fill="#f09b7a"/><circle cx="105.1" cy="57.1" r="1.8" fill="#f09b7a"/><circle cx="108.4" cy="57.9" r="1.8" fill="#f09b7a"/><circle cx="92.0" cy="58.8" r="1.8" fill="#f09b7a"/><circle cx="94.6" cy="61.9" r="1.8" fill="#fbe3d5"/><circle cx="89.7" cy="66.7" r="1.8" fill="#fbe3d5"/><circle cx="110.8" cy="62.6" r="1.8" fill="#f09b7a"/><circle cx="98.7" cy="70.2" r="1.8" fill="#f09b7a"/><circle cx="131.0" cy="52.8" r="1.8" fill="#f09b7a"/><circle cx="99.8" cy="73.7" r="1.8" fill="#f09b7a"/><circle cx="117.3" cy="79.3" r="1.8" fill="#fbe3d5"/><circle cx="92.1" cy="52.0" r="1.8" fill="#f09b7a"/><circle cx="103.0" cy="52.2" r="1.8" fill="#f09b7a"/><circle cx="124.5" cy="55.5" r="1.8" fill="#fbe3d5"/><circle cx="91.8" cy="70.8" r="1.8" fill="#f09b7a"/><circle cx="103.4" cy="70.3" r="1.8" fill="#c1373a"/><circle cx="112.9" cy="64.9" r="1.8" fill="#f09b7a"/><circle cx="115.0" cy="53.3" r="1.8" fill="#fbe3d5"/><circle cx="95.6" cy="66.1" r="1.8" fill="#fbe3d5"/><circle cx="117.6" cy="51.6" r="1.8" fill="#f09b7a"/><circle cx="119.9" cy="56.7" r="1.8" fill="#f09b7a"/><circle cx="129.0" cy="54.4" r="1.8" fill="#f09b7a"/><circle cx="121.0" cy="51.8" r="1.8" fill="#f09b7a"/><circle cx="99.1" cy="57.1" r="1.8" fill="#f09b7a"/><circle cx="96.3" cy="59.8" r="1.8" fill="#fbe3d5"/><circle cx="94.3" cy="52.6" r="1.8" fill="#f09b7a"/><circle cx="84.5" cy="66.4" r="1.8" fill="#f09b7a"/><circle cx="88.8" cy="63.7" r="1.8" fill="#f09b7a"/><circle cx="112.7" cy="72.4" r="1.8" fill="#fbe3d5"/><circle cx="119.5" cy="71.0" r="1.8" fill="#fbe3d5"/><circle cx="101.0" cy="68.2" r="1.8" fill="#f09b7a"/><circle cx="122.1" cy="64.0" r="1.8" fill="#f09b7a"/><circle cx="97.0" cy="67.9" r="1.8" fill="#fbe3d5"/><circle cx="115.1" cy="58.1" r="1.8" fill="#f09b7a"/><circle cx="123.5" cy="65.9" r="1.8" fill="#fbe3d5"/><circle cx="100.9" cy="59.2" r="1.8" fill="#f09b7a"/><circle cx="99.7" cy="51.5" r="1.8" fill="#fbe3d5"/><circle cx="91.9" cy="56.5" r="1.8" fill="#fbe3d5"/><circle cx="120.2" cy="59.1" r="1.8" fill="#f09b7a"/><circle cx="124.9" cy="57.8" r="1.8" fill="#fbe3d5"/><circle cx="122.0" cy="67.9" r="1.8" fill="#fbe3d5"/><circle cx="119.7" cy="63.5" r="1.8" fill="#fbe3d5"/><circle cx="94.0" cy="57.3" r="1.8" fill="#fbe3d5"/><circle cx="91.0" cy="73.3" r="1.8" fill="#fbe3d5"/><circle cx="114.6" cy="71.1" r="1.8" fill="#f09b7a"/><circle cx="95.2" cy="71.1" r="1.8" fill="#f09b7a"/></g></g><rect x="31.50" y="18.40" width="479.30" height="173.60" fill="none" stroke="#555" stroke-width="1"/><text x="23.7" y="181.12" text-anchor="end">40°S</text><text x="518" y="181.12">40°S</text><text x="23.7" y="151.06" text-anchor="end">20°S</text><text x="518" y="151.06">20°S</text><text x="23.7" y="121.00" text-anchor="end">0°</text><text x="518" y="121.00">0°</text><text x="23.7" y="90.94" text-anchor="end">20°N</text><text x="518" y="90.94">20°N</text><text x="23.7" y="60.88" text-anchor="end">40°N</text><text x="518" y="60.88">40°N</text><text x="23.7" y="30.82" text-anchor="end">60°N</text><text x="518" y="30.82">60°N</text><text x="60.0" y="173.20" style="font-size:14.6px;stroke-width:0.08px">(a)</text><clipPath id="clipc"><rect x="31.50" y="204.70" width="479.30" height="173.30"/></clipPath><g clip-path="url(#clipc)"><g transform="translate(239.300 304.700) scale(1.5060 1.5030)"><path d="M47.00,25.00L45.20,25.50L44.00,24.50L43.50,22.00L44.30,20.50L44.00,18.00L44.50,16.20L46.50,15.50L48.00,14.00L49.30,12.00L50.30,15.00L50.00,16.50L49.50,17.50L48.50,20.50L47.50,23.50L47.00,25.00ZM3.00,-36.80L5.00,-36.70L6.50,-37.00L8.50,-36.90L9.50,-37.30L10.30,-36.80L10.80,-35.50L10.50,-34.00L11.50,-33.20L13.20,-32.90L15.20,-32.30L15.50,-31.50L17.50,-31.00L19.00,-30.30L20.00,-31.00L20.00,-32.00L21.00,-32.80L23.00,-32.50L25.00,-31.60L28.00,-30.90L30.00,-31.30L31.00,-31.60L32.30,-31.30L34.20,-31.30L34.80,-32.50L35.10,-33.20L35.50,-34.50L35.90,-35.50L36.00,-36.50L35.50,-36.60L34.50,-36.80L33.00,-36.20L32.00,-36.50L30.50,-36.60L29.00,-36.60L27.50,-37.00L26.50,-38.30L26.50,-39.50L26.20,-40.20L27.50,-40.50L29.00,-41.00L29.50,-41.20L31.50,-41.30L33.50,-42.00L35.00,-42.00L36.50,-41.30L38.50,-41.00L40.50,-41.00L41.50,-41.50L41.60,-42.50L40.00,-43.40L38.50,-44.50L37.00,-45.00L38.00,-46.50L39.20,-47.20L37.00,-46.80L35.00,-46.20L35.50,-45.30L34.00,-44.40L33.00,-45.30L32.50,-45.50L33.50,-46.00L31.50,-46.60L30.70,-46.50L30.00,-45.50L29.50,-45.00L28.70,-44.30L28.00,-43.30L27.90,-42.50L28.00,-41.80L29.00,-41.20L27.50,-40.80L26.20,-40.60L25.00,-40.90L23.80,-40.70L22.90,-40.60L23.50,-39.80L22.80,-39.00L24.00,-38.20L23.00,-37.90L23.00,-36.50L22.50,-36.40L21.70,-36.90L21.30,-37.60L21.50,-38.30L20.80,-39.00L20.00,-39.70L19.40,-40.50L19.50,-41.80L18.80,-42.30L17.50,-43.00L16.00,-43.50L15.00,-44.50L14.50,-45.20L13.70,-45.10L13.80,-45.60L12.30,-45.40L12.50,-44.50L13.50,-43.60L14.50,-42.20L16.00,-41.50L17.50,-40.80L18.50,-40.10L17.20,-40.40L16.50,-39.50L17.10,-39.00L16.10,-38.00L15.60,-38.20L16.00,-39.50L15.50,-40.10L14.50,-40.60L13.50,-41.20L12.00,-42.00L10.50,-43.00L10.00,-44.00L8.90,-44.40L7.50,-43.80L6.50,-43.10L5.00,-43.40L4.00,-43.50L3.00,-43.00L3.20,-41.90L2.20,-41.40L0.80,-41.00L0.00,-39.80L-0.30,-39.50L0.20,-38.70L-0.70,-37.60L-2.00,-36.70L-4.40,-36.70L-5.60,-36.00L-6.30,-36.50L-7.40,-37.20L-8.90,-37.00L-8.80,-38.50L-9.50,-38.80L-9.00,-39.80L-8.70,-41.00L-8.90,-42.00L-9.30,-43.00L-8.00,-43.70L-5.80,-43.60L-3.80,-43.50L-1.80,-43.40L-1.40,-44.50L-1.20,-46.00L-2.20,-47.10L-4.40,-47.90L-4.70,-48.50L-3.00,-48.80L-1.60,-48.60L-1.40,-49.70L-0.20,-49.30L1.30,-50.00L1.60,-50.90L2.50,-51.10L3.40,-51.40L4.20,-52.00L4.80,-53.00L6.00,-53.50L7.20,-53.50L8.60,-53.90L8.90,-54.80L8.20,-55.50L8.10,-56.80L10.50,-57.70L10.30,-56.50L10.90,-56.30L10.00,-55.00L10.90,-54.40L12.00,-54.20L13.80,-54.10L14.50,-53.90L16.50,-54.50L18.50,-54.80L19.50,-54.40L21.20,-55.20L21.10,-56.00L21.00,-57.00L22.50,-57.60L24.30,-57.00L23.50,-58.50L24.00,-59.30L25.50,-59.60L28.00,-59.50L30.20,-59.90L29.00,-60.20L26.50,-60.40L23.00,-59.90L21.50,-60.80L21.50,-62.00L22.50,-63.50L24.50,-64.80L25.40,-65.10L24.60,-65.70L22.00,-65.70L21.50,-64.50L20.50,-63.80L18.50,-62.80L17.40,-61.60L17.20,-60.80L18.80,-60.00L18.50,-59.30L16.50,-58.40L16.60,-57.00L16.00,-56.20L14.50,-56.00L12.90,-55.40L12.60,-56.20L11.90,-57.70L11.20,-59.00L10.50,-59.50L9.50,-59.00L8.00,-58.10L6.60,-58.10L5.60,-58.80L5.20,-60.00L5.00,-61.50L5.50,-62.30L7.00,-62.90L8.50,-63.50L10.00,-64.00L11.50,-65.00L12.50,-66.20L13.50,-67.50L15.00,-69.00L18.33,-70.00L32.50,-70.00L35.00,-69.50L41.00,-67.80L41.20,-66.80L40.20,-66.40L38.50,-66.10L36.00,-66.50L34.50,-66.60L33.50,-66.30L34.80,-65.00L34.60,-64.50L36.00,-63.90L37.50,-64.30L37.00,-64.80L36.50,-65.00L37.80,-65.10L39.00,-64.60L40.50,-64.60L40.20,-65.30L39.80,-65.70L41.00,-66.10L42.00,-66.50L44.20,-65.90L44.50,-66.80L45.00,-68.00L55.00,-69.00L60.00,-70.00L180.50,-70.00L180.50,-65.30L179.00,-62.50L177.00,-62.50L174.00,-61.80L172.00,-61.00L170.30,-60.00L166.00,-60.30L164.00,-59.80L163.30,-58.50L162.00,-57.50L163.00,-56.00L162.00,-55.00L160.00,-54.00L158.70,-53.00L157.00,-51.50L156.50,-52.50L156.00,-54.00L156.00,-56.00L157.00,-57.80L159.00,-58.80L160.50,-60.50L162.00,-61.50L163.50,-62.50L161.00,-61.80L158.00,-61.80L156.50,-61.50L154.00,-59.20L151.00,-59.00L150.80,-59.60L148.00,-59.30L145.00,-59.40L142.00,-59.00L140.50,-58.00L138.00,-56.50L137.00,-55.00L136.00,-54.50L139.00,-54.20L140.50,-53.50L141.40,-52.50L141.00,-51.00L140.50,-49.00L140.00,-48.00L138.50,-47.00L137.50,-45.80L135.50,-44.00L133.00,-42.70L131.90,-43.10L130.70,-42.40L129.70,-41.00L129.50,-40.00L128.50,-39.50L127.50,-39.50L128.00,-39.00L128.50,-38.30L129.40,-37.00L129.50,-35.50L129.00,-35.10L127.80,-34.80L126.50,-34.40L126.50,-35.50L126.80,-36.50L126.60,-37.40L126.20,-37.80L125.00,-38.00L125.30,-39.20L124.50,-39.80L122.50,-39.50L121.20,-38.80L121.70,-39.50L122.20,-40.50L121.50,-40.90L120.50,-40.20L119.50,-39.80L118.50,-39.10L117.70,-38.70L118.50,-38.00L119.00,-37.20L120.00,-37.50L121.50,-37.50L122.50,-37.00L121.00,-36.50L120.20,-36.00L119.30,-35.00L120.00,-34.00L120.80,-32.50L121.80,-31.70L121.90,-30.90L121.00,-30.30L122.00,-29.80L121.50,-28.50L120.50,-27.50L119.50,-26.00L118.50,-24.60L117.00,-23.50L115.50,-22.80L114.20,-22.30L113.50,-22.20L112.00,-21.80L110.50,-21.20L110.20,-20.30L109.80,-21.40L108.50,-21.70L107.50,-21.00L106.70,-20.50L105.80,-19.00L106.50,-17.50L107.50,-16.30L108.30,-15.50L109.20,-13.50L109.20,-12.00L108.50,-11.00L107.00,-10.40L106.50,-9.50L105.00,-8.60L104.80,-9.60L104.50,-10.40L103.50,-10.60L102.80,-12.00L101.50,-12.70L100.90,-13.40L100.00,-13.00L99.90,-12.00L99.50,-10.50L99.20,-9.30L100.30,-8.40L100.50,-7.30L101.50,-6.80L102.20,-6.20L103.40,-4.90L103.50,-3.00L104.20,-1.40L103.50,-1.30L102.50,-2.00L101.30,-2.90L100.60,-4.00L100.30,-5.50L100.20,-6.50L99.50,-7.50L98.30,-8.20L98.50,-9.50L98.70,-10.50L98.50,-12.50L98.00,-14.50L97.60,-16.50L96.50,-16.80L95.30,-15.80L94.30,-16.00L94.50,-17.50L94.00,-19.00L93.00,-20.00L92.30,-20.80L91.80,-22.30L90.50,-22.00L89.00,-21.80L87.00,-21.50L86.50,-20.20L85.00,-19.30L84.00,-18.30L82.30,-17.00L80.30,-15.50L80.20,-13.10L79.80,-11.50L79.80,-10.30L78.20,-8.90L77.50,-8.10L76.50,-8.90L76.00,-10.50L75.30,-12.20L74.60,-14.00L73.80,-15.50L73.00,-17.50L72.80,-19.00L72.70,-21.00L72.50,-21.80L72.20,-21.30L70.80,-20.70L69.00,-22.30L70.20,-22.70L68.60,-23.50L67.50,-23.80L66.80,-25.00L65.00,-25.30L62.00,-25.10L60.50,-25.30L58.50,-25.60L57.30,-25.80L56.50,-27.10L55.00,-26.70L53.50,-26.90L51.50,-27.90L50.50,-29.00L49.50,-30.00L48.50,-30.20L48.00,-29.50L48.50,-28.30L49.50,-27.00L50.20,-26.20L51.00,-24.70L51.60,-25.90L51.50,-24.50L53.00,-24.20L54.50,-24.30L56.00,-26.00L56.30,-26.40L56.50,-24.50L57.80,-23.80L59.00,-22.60L59.80,-22.30L58.70,-20.50L57.80,-19.00L56.50,-18.20L55.00,-17.00L52.50,-16.00L50.00,-15.00L48.50,-14.00L45.00,-12.80L43.50,-12.70L43.00,-14.00L42.70,-15.50L42.00,-17.50L40.50,-19.50L39.20,-21.50L38.50,-23.50L37.50,-24.50L36.50,-26.00L35.00,-28.00L35.00,-29.50L34.90,-29.50L34.30,-27.80L33.50,-28.20L32.50,-29.90L33.50,-27.30L34.50,-25.50L35.50,-23.50L36.80,-22.00L37.20,-21.00L37.30,-19.00L38.50,-18.00L39.30,-15.80L40.00,-15.30L41.50,-13.80L42.80,-12.50L43.30,-11.50L44.50,-10.40L46.00,-10.70L48.50,-11.20L50.00,-11.50L51.30,-11.80L51.00,-10.50L50.00,-9.00L49.00,-7.00L48.00,-5.00L46.50,-3.50L45.30,-2.00L44.00,-1.00L42.50,0.50L41.50,1.70L40.50,2.50L39.70,4.00L39.30,4.70L38.80,5.80L39.30,6.80L39.50,8.50L40.40,10.50L40.60,12.50L40.50,15.00L39.50,16.30L37.50,17.50L36.00,18.80L34.70,19.80L35.20,21.50L35.50,23.00L35.00,24.50L33.50,25.30L32.60,25.90L32.90,26.50L32.30,28.50L31.00,29.80L29.50,31.30L28.00,32.70L27.00,33.50L25.60,34.00L24.00,34.10L22.00,34.10L20.50,34.50L19.70,34.80L18.50,34.30L18.40,33.90L18.00,31.50L17.20,30.00L16.50,28.60L15.50,27.00L15.00,25.50L14.50,22.90L13.50,20.80L12.50,19.00L11.70,17.50L11.80,15.80L12.50,13.50L13.70,11.70L13.00,10.50L13.40,8.80L13.00,7.50L12.30,6.10L12.00,5.00L11.50,3.80L10.00,2.50L9.30,0.50L9.30,-0.80L9.60,-2.00L9.80,-3.00L9.50,-4.00L8.50,-4.60L7.50,-4.50L6.20,-4.30L5.50,-5.20L4.50,-6.20L3.40,-6.40L2.50,-6.40L1.20,-6.10L0.00,-5.60L-2.00,-4.80L-3.00,-5.10L-5.00,-5.10L-7.50,-4.40L-8.00,-4.50L-10.00,-6.00L-11.50,-6.90L-13.00,-8.30L-13.50,-9.50L-14.50,-10.50L-15.50,-11.50L-16.70,-12.40L-16.80,-13.50L-17.50,-14.70L-16.50,-16.50L-16.20,-18.50L-16.50,-20.00L-17.00,-21.50L-16.30,-23.50L-15.50,-24.50L-14.50,-26.00L-13.00,-27.50L-11.50,-28.00L-10.50,-29.00L-9.70,-30.50L-9.30,-32.50L-7.60,-33.60L-6.80,-34.00L-6.50,-34.50L-5.90,-35.80L-5.30,-35.90L-3.50,-35.20L-2.00,-35.10L-0.60,-35.80L1.00,-36.50L3.00,-36.80ZM80.50,-5.90L79.90,-6.80L79.80,-8.50L80.20,-9.80L81.00,-8.50L81.80,-7.20L81.30,-6.20L80.50,-5.90ZM-86.30,-66.00L-87.00,-64.90L-88.00,-64.20L-90.50,-63.60L-91.00,-62.80L-93.00,-62.20L-94.00,-61.50L-94.60,-60.50L-94.30,-59.50L-93.20,-58.80L-92.50,-57.50L-90.50,-57.20L-88.00,-56.50L-86.00,-55.80L-84.00,-55.30L-82.20,-55.10L-82.30,-53.00L-81.50,-52.00L-80.50,-51.30L-79.00,-51.50L-78.90,-53.00L-79.20,-54.30L-77.80,-55.30L-76.60,-56.30L-77.00,-57.50L-77.50,-59.00L-78.00,-61.00L-77.50,-62.50L-75.50,-62.30L-73.50,-62.20L-71.50,-61.20L-69.80,-60.50L-69.30,-58.80L-67.50,-58.30L-65.50,-59.50L-64.50,-60.30L-63.00,-58.50L-62.00,-57.50L-61.50,-56.30L-60.00,-55.30L-58.50,-54.50L-57.00,-54.00L-55.80,-53.00L-55.80,-52.00L-57.20,-51.50L-58.50,-51.00L-60.00,-50.20L-62.00,-50.20L-64.50,-50.30L-66.50,-50.10L-67.50,-49.30L-69.00,-48.50L-70.00,-47.80L-71.20,-46.90L-70.50,-47.10L-69.70,-47.60L-68.50,-48.40L-67.00,-49.00L-65.50,-49.20L-64.20,-48.90L-64.50,-48.50L-65.30,-47.80L-64.80,-47.00L-64.50,-46.20L-63.50,-45.80L-62.00,-45.80L-61.50,-46.30L-60.50,-47.00L-59.80,-46.30L-60.00,-45.80L-61.00,-45.30L-62.00,-45.00L-63.50,-44.60L-64.50,-44.20L-65.60,-43.50L-66.10,-44.00L-65.50,-44.60L-64.40,-45.30L-65.00,-45.50L-66.20,-45.20L-67.00,-44.80L-68.00,-44.40L-69.00,-44.10L-70.20,-43.70L-70.60,-43.10L-70.80,-42.60L-70.60,-42.00L-70.00,-42.00L-70.00,-41.60L-70.60,-41.50L-71.00,-41.50L-71.80,-41.30L-72.00,-41.00L-73.00,-40.70L-74.00,-40.60L-74.00,-40.20L-74.30,-39.50L-74.90,-38.90L-75.00,-38.80L-75.10,-38.30L-75.60,-37.50L-76.00,-36.90L-75.80,-36.20L-75.60,-35.20L-76.70,-34.70L-77.80,-34.20L-78.80,-33.80L-79.60,-33.00L-80.50,-32.30L-81.20,-31.50L-81.40,-30.50L-81.00,-29.40L-80.60,-28.30L-80.10,-27.00L-80.10,-26.20L-80.40,-25.30L-81.10,-25.20L-81.70,-25.90L-82.20,-26.70L-82.70,-27.80L-83.00,-29.00L-83.80,-29.80L-84.50,-29.90L-85.30,-29.70L-86.00,-30.30L-87.00,-30.40L-88.00,-30.50L-88.80,-30.40L-89.60,-30.10L-89.40,-29.00L-90.90,-29.10L-92.30,-29.60L-93.80,-29.70L-94.80,-29.30L-95.50,-28.80L-96.80,-28.30L-97.40,-27.50L-97.30,-26.50L-97.40,-25.50L-97.70,-24.00L-97.80,-22.50L-97.50,-21.30L-97.10,-20.40L-96.50,-19.50L-95.90,-18.80L-94.80,-18.50L-94.00,-18.20L-92.50,-18.60L-91.50,-18.50L-90.80,-19.30L-90.50,-20.00L-90.30,-21.10L-88.50,-21.50L-87.50,-21.50L-86.80,-21.30L-87.40,-20.30L-87.50,-19.30L-87.90,-18.30L-88.20,-17.50L-88.30,-16.50L-88.60,-15.70L-88.00,-15.80L-86.50,-15.80L-85.00,-15.90L-84.00,-15.80L-83.20,-15.00L-83.40,-14.20L-83.50,-12.90L-83.80,-11.90L-83.70,-11.00L-83.40,-10.40L-82.60,-9.60L-82.20,-9.20L-81.70,-9.00L-80.90,-8.90L-79.90,-9.40L-79.00,-9.60L-78.00,-9.20L-77.40,-8.70L-76.80,-8.60L-76.00,-9.40L-75.50,-10.40L-74.20,-11.10L-73.30,-11.30L-72.20,-12.30L-71.90,-11.60L-71.60,-10.80L-70.20,-11.90L-69.80,-11.50L-68.30,-10.90L-67.50,-10.50L-66.00,-10.60L-64.20,-10.50L-62.50,-10.60L-62.00,-10.00L-61.00,-8.60L-59.80,-8.30L-58.20,-6.80L-57.10,-6.00L-54.00,-5.80L-52.50,-5.20L-51.20,-4.20L-50.00,-1.80L-50.50,-0.50L-49.50,0.10L-48.50,1.40L-46.50,1.00L-44.30,2.50L-42.50,2.60L-40.50,2.80L-38.50,3.70L-37.00,4.90L-35.20,5.50L-34.80,7.10L-34.90,8.00L-35.70,9.70L-37.50,11.50L-38.50,13.00L-39.00,13.50L-38.90,15.00L-39.20,17.70L-39.70,19.00L-40.30,20.30L-41.00,22.00L-42.00,22.90L-43.20,22.90L-44.50,23.20L-46.30,24.00L-48.00,25.40L-48.50,26.30L-48.60,28.00L-49.60,29.20L-50.70,30.80L-52.10,32.20L-53.40,33.70L-54.90,34.90L-56.00,34.90L-57.00,34.50L-58.50,34.50L-57.30,35.50L-56.70,36.50L-57.60,38.20L-60.00,38.80L-62.00,39.00L-62.30,40.50L-65.00,41.00L-63.80,42.10L-64.30,42.80L-65.00,43.50L-65.50,45.00L-67.30,45.50L-67.50,46.40L-65.90,47.80L-67.80,49.00L-68.30,50.10L-68.46,52.00L-75.00,52.00L-75.50,49.00L-75.50,46.50L-74.50,44.00L-73.80,42.00L-73.60,39.50L-73.20,37.20L-72.00,35.00L-71.60,33.00L-71.60,30.50L-71.40,28.50L-70.60,25.50L-70.40,23.60L-70.20,22.00L-70.20,20.00L-70.40,18.40L-71.40,17.70L-73.50,16.40L-75.20,15.30L-76.20,13.60L-77.10,12.10L-78.20,10.00L-79.00,8.40L-79.80,7.20L-80.90,6.00L-81.30,5.00L-81.20,4.20L-80.30,3.40L-80.10,2.60L-80.90,2.20L-80.90,1.00L-80.40,0.30L-80.00,-0.80L-79.00,-1.50L-78.60,-2.20L-77.50,-3.20L-77.30,-4.00L-77.40,-5.50L-77.50,-6.60L-77.90,-7.20L-78.20,-8.30L-78.80,-8.90L-79.60,-8.90L-80.30,-8.30L-80.00,-7.50L-80.40,-7.30L-81.50,-7.70L-82.30,-8.20L-83.00,-8.30L-83.70,-8.60L-84.70,-9.60L-85.00,-9.80L-85.60,-9.80L-85.80,-10.40L-85.70,-11.10L-86.70,-12.20L-87.30,-12.90L-87.60,-13.00L-88.00,-13.20L-89.00,-13.40L-90.00,-13.80L-91.00,-13.90L-92.20,-14.60L-93.00,-15.50L-94.00,-16.10L-95.00,-16.20L-96.00,-15.70L-97.00,-15.80L-98.50,-16.30L-99.90,-16.80L-101.00,-17.30L-102.00,-17.90L-103.50,-18.30L-104.30,-19.10L-105.00,-19.40L-105.60,-20.40L-105.30,-21.00L-105.60,-22.20L-106.40,-23.20L-107.50,-24.70L-108.60,-25.50L-109.50,-26.50L-111.00,-27.90L-112.20,-29.20L-112.80,-30.80L-113.50,-31.30L-114.80,-31.80L-114.50,-30.80L-113.50,-29.80L-112.80,-28.60L-112.00,-27.50L-111.00,-25.90L-110.60,-24.60L-109.90,-24.00L-109.60,-23.00L-110.20,-23.20L-111.60,-24.50L-112.20,-25.60L-112.80,-26.70L-114.10,-27.50L-114.20,-28.50L-115.20,-29.60L-116.00,-30.50L-116.60,-31.60L-117.10,-32.50L-117.30,-33.10L-118.40,-33.90L-119.50,-34.40L-120.60,-34.60L-121.30,-35.70L-121.90,-36.60L-122.50,-37.50L-123.00,-38.00L-123.80,-39.70L-124.20,-41.00L-124.50,-42.80L-124.00,-44.60L-124.00,-46.20L-124.40,-47.50L-124.70,-48.40L-125.50,-48.90L-126.50,-49.60L-128.30,-50.60L-127.80,-50.90L-128.20,-51.80L-129.00,-52.80L-130.20,-53.60L-130.50,-54.30L-132.00,-54.70L-133.50,-55.30L-134.50,-56.30L-135.50,-57.20L-136.20,-58.00L-137.00,-58.40L-138.50,-59.10L-140.00,-59.70L-140.00,-70.00L-84.33,-70.00L-81.50,-69.00L-82.00,-67.00L-85.50,-67.50L-86.00,-66.60L-86.30,-66.00ZM-78.30,-18.20L-78.30,-18.40L-76.30,-18.20L-76.80,-17.90L-78.30,-18.20ZM-65.70,-18.00L-67.20,-18.00L-67.20,-18.50L-65.60,-18.40L-65.70,-18.00ZM-72.50,-18.20L-74.40,-18.30L-74.40,-18.50L-72.70,-19.90L-71.00,-19.90L-69.50,-19.30L-68.40,-18.60L-69.00,-18.30L-71.00,-18.00L-72.50,-18.20ZM-74.20,-20.20L-75.50,-19.90L-77.70,-19.90L-77.50,-20.70L-78.50,-21.50L-80.50,-22.00L-82.00,-22.30L-83.50,-22.00L-84.90,-21.90L-84.00,-22.60L-82.50,-23.10L-80.50,-23.10L-79.00,-22.50L-77.50,-21.50L-75.70,-21.00L-74.20,-20.20ZM-53.50,-48.50L-52.80,-47.50L-53.10,-46.70L-54.00,-46.80L-54.50,-47.40L-55.50,-46.90L-56.00,-47.60L-59.40,-47.70L-58.50,-48.50L-57.50,-50.30L-56.50,-51.60L-55.50,-51.50L-55.80,-50.00L-54.00,-49.50L-53.50,-48.50ZM-9.90,-53.50L-10.00,-54.20L-8.60,-54.30L-8.40,-54.80L-7.50,-55.30L-6.20,-55.20L-5.50,-54.60L-6.20,-54.00L-6.10,-53.30L-6.00,-52.20L-6.50,-52.10L-8.00,-51.80L-9.50,-51.50L-10.30,-51.90L-9.80,-52.50L-9.00,-53.20L-9.90,-53.50ZM-3.00,-53.40L-3.00,-54.00L-3.50,-54.90L-5.00,-54.80L-5.00,-55.70L-5.60,-56.30L-5.70,-57.50L-5.00,-58.60L-3.00,-58.60L-3.50,-57.70L-1.80,-57.60L-2.00,-57.00L-2.60,-56.00L-1.60,-55.60L-1.00,-54.50L0.00,-53.60L0.30,-53.00L1.70,-52.50L1.40,-51.20L-1.00,-50.80L-3.00,-50.70L-4.20,-50.40L-5.70,-50.10L-4.50,-51.00L-3.20,-51.40L-5.20,-51.70L-4.10,-52.50L-4.50,-53.30L-3.00,-53.40ZM-86.50,-63.50L-86.50,-64.00L-85.50,-65.20L-83.50,-65.50L-83.00,-64.20L-81.00,-63.80L-82.50,-63.20L-84.50,-62.80L-86.50,-63.50ZM-18.00,-63.40L-20.50,-63.70L-22.00,-64.00L-24.00,-65.50L-22.50,-66.40L-18.00,-66.20L-15.00,-66.30L-13.50,-65.30L-14.50,-64.40L-18.00,-63.40ZM-66.50,-61.90L-68.00,-62.30L-70.50,-62.70L-71.50,-63.50L-73.00,-64.30L-75.00,-64.60L-77.50,-64.30L-78.00,-65.00L-74.00,-66.00L-73.00,-66.80L-74.00,-70.00L-62.00,-70.00L-61.90,-66.60L-62.50,-66.00L-63.50,-65.00L-64.80,-63.50L-65.00,-62.60L-66.50,-61.90ZM-39.00,-65.30L-40.50,-64.00L-41.50,-63.00L-42.50,-61.50L-43.00,-60.20L-43.90,-59.80L-45.00,-60.00L-46.50,-60.50L-48.50,-61.20L-50.00,-62.50L-51.50,-64.00L-52.00,-65.00L-53.00,-66.00L-53.50,-66.80L-55.00,-70.00L-27.14,-70.00L-30.00,-68.00L-35.00,-66.50L-37.50,-65.70L-39.00,-65.30ZM116.50,9.00L116.10,8.30L119.00,8.20L119.00,8.80L116.50,9.00ZM115.50,8.80L114.60,8.50L115.00,8.20L115.70,8.40L115.50,8.80ZM119.90,8.80L119.80,8.40L123.00,8.20L122.80,8.80L119.90,8.80ZM112.00,8.30L110.00,8.00L108.00,7.80L106.50,7.40L105.30,6.80L106.50,6.00L108.50,6.50L110.50,6.90L112.50,6.90L114.50,7.80L114.50,8.60L112.00,8.30ZM123.00,-0.90L124.50,-1.00L125.20,-1.50L124.00,-0.40L121.50,-0.50L120.50,0.50L121.50,1.00L123.30,0.90L121.50,1.90L122.50,3.50L122.30,4.80L121.00,4.00L120.50,5.50L119.50,5.50L119.40,3.50L118.80,2.80L119.40,0.50L120.00,-0.50L121.00,-1.10L123.00,-0.90ZM106.00,3.00L105.80,5.80L104.50,5.90L102.50,4.00L101.00,2.50L100.00,1.00L99.00,-1.00L97.50,-2.50L96.00,-4.00L95.30,-5.60L97.50,-5.20L98.50,-4.00L100.00,-2.50L101.50,-1.70L103.50,-0.00L104.50,1.50L106.00,3.00ZM117.50,-6.00L118.50,-5.00L118.00,-4.20L117.70,-3.00L118.00,-1.00L117.00,-0.00L116.50,1.50L116.00,3.50L114.60,3.50L113.00,3.20L111.50,3.00L110.20,2.90L110.00,1.50L109.00,-0.00L109.00,-1.50L109.70,-1.90L111.00,-1.80L113.00,-3.20L114.50,-4.60L115.50,-5.30L116.50,-6.80L117.50,-6.00ZM125.40,-5.80L124.10,-6.50L123.20,-7.40L122.00,-7.00L123.50,-7.80L124.20,-8.40L125.40,-9.60L126.30,-8.00L126.10,-6.50L125.40,-5.80ZM119.30,-11.00L119.70,-11.30L117.20,-8.40L117.00,-8.80L119.30,-11.00ZM122.40,-10.60L122.00,-10.80L121.90,-11.80L122.90,-11.60L123.10,-11.00L122.83,-10.85L123.20,-10.90L123.40,-9.30L123.00,-9.10L122.50,-9.80L122.50,-10.66L122.40,-10.60ZM123.40,-9.80L123.80,-11.20L124.05,-11.00L123.60,-9.70L123.40,-9.80ZM124.50,-11.40L124.30,-12.50L125.50,-12.20L125.60,-11.20L125.00,-11.00L124.90,-10.10L124.40,-10.30L124.50,-11.40ZM124.10,-12.60L123.30,-13.00L122.00,-13.60L120.90,-13.70L120.60,-14.50L120.00,-15.00L119.80,-16.30L120.40,-17.50L120.60,-18.50L122.20,-18.50L122.50,-17.00L121.80,-16.00L121.60,-14.50L122.50,-14.00L124.00,-13.80L124.10,-12.60ZM110.00,-20.10L111.00,-19.60L110.50,-18.60L109.50,-18.20L108.60,-18.60L108.60,-19.20L110.00,-20.10ZM120.10,-23.00L120.70,-24.60L121.50,-25.30L122.00,-25.00L121.40,-22.70L120.70,-22.00L120.10,-23.00ZM169.30,46.60L166.50,46.00L166.80,45.30L168.30,44.00L170.50,43.00L171.50,41.80L172.10,40.90L172.70,40.50L174.30,41.40L174.00,42.00L173.00,43.00L172.70,43.80L171.20,44.50L170.60,45.90L169.30,46.60ZM145.20,42.20L144.60,40.70L146.50,41.10L148.30,40.90L148.30,42.20L147.90,43.20L146.90,43.60L146.00,43.50L145.20,42.20ZM178.50,37.70L178.00,39.00L177.00,39.30L176.80,40.30L175.30,41.60L174.60,41.30L175.00,40.00L173.80,39.30L174.60,38.80L174.70,37.50L174.30,36.50L172.70,34.40L174.00,35.20L174.80,36.80L175.50,37.00L176.00,37.60L177.50,37.90L178.50,37.70ZM122.50,16.80L123.50,16.50L124.50,15.80L125.50,14.50L126.80,13.80L128.00,14.80L129.50,14.90L130.20,13.30L130.80,12.40L132.00,11.50L132.60,12.00L134.00,11.90L135.50,12.20L136.80,12.20L136.50,13.30L135.50,14.50L135.50,15.00L137.00,16.00L138.50,16.80L140.00,17.50L140.80,17.40L141.50,15.50L141.60,13.00L142.00,11.00L142.50,10.70L143.50,12.50L143.50,14.00L144.50,14.30L145.30,15.00L145.50,16.50L146.20,18.50L147.50,19.50L149.00,21.00L150.50,22.50L151.00,23.50L152.50,25.00L153.10,26.50L153.60,28.50L153.00,30.50L152.50,32.00L151.30,33.80L150.80,34.80L150.00,36.50L149.90,37.50L148.00,37.80L146.50,38.80L145.00,38.30L144.50,38.20L143.50,38.80L142.00,38.30L140.50,38.00L139.50,37.00L139.80,36.00L138.50,35.50L138.50,34.90L137.80,35.70L138.00,34.00L137.80,33.00L136.50,34.80L135.60,34.80L135.20,34.30L134.20,32.90L132.50,32.00L131.00,31.50L129.00,31.70L127.00,32.30L125.00,32.90L123.60,33.90L121.00,33.80L119.50,34.30L118.00,35.00L116.50,35.00L115.00,34.30L115.00,33.50L115.70,33.20L115.70,31.90L115.00,30.00L114.90,29.00L114.20,27.00L113.50,26.30L113.80,25.00L113.40,24.30L113.80,23.00L113.50,22.00L114.10,21.80L115.50,21.00L116.80,20.60L118.80,20.30L121.00,19.50L122.30,18.00L122.50,16.80ZM127.30,8.30L126.50,9.00L124.50,10.20L123.50,10.30L125.00,9.00L127.30,8.30ZM142.50,3.30L144.50,3.80L146.00,5.00L147.50,6.00L147.80,6.80L147.00,7.50L148.00,8.50L149.00,9.50L150.50,10.50L149.50,10.30L147.00,10.00L146.00,8.50L144.00,7.70L143.50,9.00L142.50,9.30L141.00,9.10L139.00,8.10L138.00,8.40L137.50,7.50L138.50,6.50L138.00,5.30L136.00,4.50L134.00,3.90L133.00,4.00L132.00,2.80L133.00,2.30L132.00,2.00L131.00,1.30L132.50,0.40L134.00,0.90L135.00,3.30L137.50,1.50L140.00,2.40L142.50,3.30ZM150.50,5.50L152.00,4.20L151.50,5.00L150.00,6.20L148.50,6.00L148.50,5.50L150.50,5.50ZM128.20,3.50L128.00,3.00L130.80,3.30L130.50,3.70L128.20,3.50ZM127.50,-1.80L128.00,-2.20L128.60,-1.00L128.00,-0.50L128.70,0.60L127.60,0.30L127.50,-1.80ZM129.70,-32.80L129.80,-33.50L130.80,-33.90L131.70,-33.30L131.50,-32.00L131.00,-31.00L130.20,-31.20L130.10,-32.20L129.70,-32.80ZM132.50,-33.00L132.90,-33.90L134.00,-34.30L134.70,-34.00L134.20,-33.40L133.30,-33.30L132.80,-32.80L132.50,-33.00ZM136.80,-37.00L137.30,-37.50L137.00,-36.80L138.50,-37.50L139.50,-38.30L140.00,-39.50L140.00,-40.50L140.50,-41.20L141.40,-41.40L141.50,-40.50L142.00,-39.50L141.50,-38.30L141.00,-37.50L140.90,-36.50L140.80,-35.70L140.00,-35.00L139.70,-35.30L139.20,-35.20L138.80,-34.70L138.20,-34.60L137.00,-34.60L136.80,-34.30L136.00,-33.50L135.20,-33.80L135.30,-34.60L134.00,-34.60L132.50,-34.30L131.50,-34.00L130.90,-34.00L131.50,-34.60L132.50,-35.30L133.50,-35.50L135.00,-35.70L136.00,-35.90L136.80,-37.00ZM145.50,-43.30L143.30,-42.00L142.00,-42.50L141.20,-41.80L140.00,-41.50L140.00,-42.30L140.40,-43.20L141.50,-43.50L141.60,-45.30L142.00,-45.50L144.50,-44.00L145.50,-43.30ZM143.30,-51.50L144.20,-49.20L143.00,-49.00L143.50,-46.80L142.00,-46.00L141.90,-48.00L142.10,-50.00L141.70,-51.90L142.20,-53.60L142.70,-54.30L143.20,-53.00L143.30,-51.50Z" fill="#e4e5e4"/><path d="M-54.10,-3.80L-54.00,-5.75L-52.47,-5.18L-51.85,-4.70L-51.60,-4.20L-52.00,-3.00L-53.50,-2.30L-54.20,-2.30L-54.10,-3.80ZM34.80,-32.50L35.10,-33.20L35.60,-33.00L35.50,-31.50L34.90,-29.50L34.20,-31.30L34.80,-32.50ZM51.30,-44.50L51.53,-44.60L51.67,-42.73L51.00,-43.20L51.30,-44.50ZM-55.50,-46.90L-56.00,-47.60L-59.40,-47.70L-58.50,-48.50L-57.50,-50.30L-56.50,-51.60L-55.50,-51.50L-55.80,-50.00L-54.00,-49.50L-53.50,-48.50L-52.80,-47.50L-53.10,-46.70L-54.00,-46.80L-54.50,-47.40L-55.50,-46.90ZM-94.00,-61.50L-94.60,-60.50L-94.30,-59.50L-93.20,-58.80L-92.50,-57.50L-90.50,-57.20L-88.00,-56.50L-86.00,-55.80L-84.00,-55.30L-82.20,-55.10L-82.30,-53.00L-81.50,-52.00L-80.50,-51.30L-79.00,-51.50L-78.90,-53.00L-79.20,-54.30L-77.80,-55.30L-76.60,-56.30L-77.00,-57.50L-77.50,-59.00L-78.00,-61.00L-77.50,-62.50L-75.50,-62.30L-73.50,-62.20L-71.50,-61.20L-69.80,-60.50L-69.30,-58.80L-67.50,-58.30L-65.50,-59.50L-64.50,-60.30L-63.00,-58.50L-62.00,-57.50L-61.50,-56.30L-60.00,-55.30L-58.50,-54.50L-57.00,-54.00L-55.80,-53.00L-55.80,-52.00L-57.20,-51.50L-58.50,-51.00L-60.00,-50.20L-62.00,-50.20L-64.50,-50.30L-66.50,-50.10L-67.50,-49.30L-69.00,-48.50L-70.00,-47.80L-71.20,-46.90L-70.50,-47.10L-69.70,-47.60L-68.50,-48.40L-67.00,-49.00L-65.50,-49.20L-64.20,-48.90L-64.50,-48.50L-65.30,-47.80L-64.80,-47.00L-64.50,-46.20L-63.50,-45.80L-62.00,-45.80L-61.50,-46.30L-60.50,-47.00L-59.80,-46.30L-60.00,-45.80L-61.00,-45.30L-62.00,-45.00L-63.50,-44.60L-64.50,-44.20L-65.60,-43.50L-66.10,-44.00L-65.50,-44.60L-64.40,-45.30L-65.00,-45.50L-66.20,-45.20L-67.00,-44.80L-68.00,-44.40L-69.00,-44.10L-70.20,-43.70L-70.60,-43.10L-70.80,-42.60L-70.60,-42.00L-70.00,-42.00L-70.00,-41.60L-70.60,-41.50L-71.00,-41.50L-71.80,-41.30L-72.00,-41.00L-73.00,-40.70L-74.00,-40.60L-74.00,-40.20L-74.30,-39.50L-74.90,-38.90L-75.00,-38.80L-75.10,-38.30L-75.60,-37.50L-76.00,-36.90L-75.80,-36.20L-75.60,-35.20L-76.70,-34.70L-77.80,-34.20L-78.80,-33.80L-79.60,-33.00L-80.50,-32.30L-81.20,-31.50L-81.40,-30.50L-81.00,-29.40L-80.60,-28.30L-80.10,-27.00L-80.10,-26.20L-80.40,-25.30L-81.10,-25.20L-81.70,-25.90L-82.20,-26.70L-82.70,-27.80L-83.00,-29.00L-83.80,-29.80L-84.50,-29.90L-85.30,-29.70L-86.00,-30.30L-87.00,-30.40L-88.00,-30.50L-88.80,-30.40L-89.60,-30.10L-89.40,-29.00L-90.90,-29.10L-92.30,-29.60L-93.80,-29.70L-94.80,-29.30L-95.50,-28.80L-96.80,-28.30L-97.40,-27.50L-97.30,-26.50L-97.35,-26.00L-99.50,-27.50L-101.40,-29.80L-103.00,-29.00L-104.50,-29.60L-106.50,-31.80L-108.20,-31.80L-108.20,-31.30L-111.00,-31.30L-114.70,-32.70L-117.10,-32.50L-117.30,-33.10L-118.40,-33.90L-119.22,-34.27L-121.77,-36.40L-121.90,-36.60L-122.50,-37.50L-123.00,-38.00L-123.80,-39.70L-124.20,-41.00L-124.50,-42.80L-124.00,-44.60L-124.00,-46.20L-124.40,-47.50L-124.70,-48.40L-125.50,-48.90L-126.50,-49.60L-128.30,-50.60L-127.80,-50.90L-128.20,-51.80L-129.00,-52.80L-130.20,-53.60L-130.50,-54.30L-132.00,-54.70L-133.50,-55.30L-134.50,-56.30L-135.50,-57.20L-136.20,-58.00L-137.00,-58.40L-138.50,-59.10L-140.00,-59.70L-140.00,-70.00L-84.33,-70.00L-81.50,-69.00L-82.00,-67.00L-85.50,-67.50L-86.00,-66.60L-86.30,-66.00L-87.00,-64.90L-88.00,-64.20L-90.50,-63.60L-91.00,-62.80L-93.00,-62.20L-94.00,-61.50ZM-5.50,-54.60L-6.20,-54.00L-6.10,-53.30L-6.00,-52.20L-6.50,-52.10L-8.00,-51.80L-9.50,-51.50L-10.30,-51.90L-9.80,-52.50L-9.00,-53.20L-9.90,-53.50L-10.00,-54.20L-8.60,-54.30L-8.40,-54.80L-7.50,-55.30L-6.20,-55.20L-5.50,-54.60ZM-5.60,-56.30L-5.70,-57.50L-5.00,-58.60L-3.00,-58.60L-3.50,-57.70L-1.80,-57.60L-2.00,-57.00L-2.60,-56.00L-1.60,-55.60L-1.00,-54.50L0.00,-53.60L0.30,-53.00L1.70,-52.50L1.40,-51.20L-1.00,-50.80L-3.00,-50.70L-4.20,-50.40L-5.70,-50.10L-4.50,-51.00L-3.20,-51.40L-5.20,-51.70L-4.10,-52.50L-4.50,-53.30L-3.00,-53.40L-3.00,-54.00L-3.50,-54.90L-5.00,-54.80L-5.00,-55.70L-5.60,-56.30ZM35.00,-46.20L35.50,-45.30L34.00,-44.40L33.00,-45.30L32.50,-45.50L33.50,-46.00L31.50,-46.60L30.70,-46.50L30.00,-45.50L29.50,-45.00L28.70,-44.30L28.00,-43.30L27.90,-42.50L27.97,-41.99L26.60,-41.70L26.40,-41.00L26.24,-40.61L26.20,-40.60L25.00,-40.90L23.80,-40.70L22.90,-40.60L23.50,-39.80L22.80,-39.00L24.00,-38.20L23.00,-37.90L23.00,-36.50L22.50,-36.40L21.70,-36.90L21.30,-37.60L21.50,-38.30L20.80,-39.00L20.00,-39.70L19.40,-40.50L19.50,-41.80L18.80,-42.30L17.50,-43.00L16.00,-43.50L15.00,-44.50L14.50,-45.20L13.70,-45.10L13.80,-45.60L12.30,-45.40L12.50,-44.50L13.50,-43.60L14.50,-42.20L16.00,-41.50L17.50,-40.80L18.50,-40.10L17.20,-40.40L16.50,-39.50L17.10,-39.00L16.10,-38.00L15.60,-38.20L16.00,-39.50L15.50,-40.10L14.50,-40.60L13.50,-41.20L12.00,-42.00L10.50,-43.00L10.00,-44.00L8.90,-44.40L7.50,-43.80L6.50,-43.10L5.00,-43.40L4.00,-43.50L3.00,-43.00L3.20,-41.90L2.20,-41.40L0.80,-41.00L0.00,-39.80L-0.30,-39.50L0.20,-38.70L-0.70,-37.60L-1.73,-36.88L-2.50,-36.70L-4.40,-36.70L-5.58,-36.01L-5.61,-36.01L-6.30,-36.50L-7.40,-37.20L-8.90,-37.00L-8.80,-38.50L-9.50,-38.80L-9.00,-39.80L-8.70,-41.00L-8.90,-42.00L-9.30,-43.00L-8.00,-43.70L-5.80,-43.60L-3.80,-43.50L-1.80,-43.40L-1.40,-44.50L-1.20,-46.00L-2.20,-47.10L-4.40,-47.90L-4.70,-48.50L-3.00,-48.80L-1.60,-48.60L-1.40,-49.70L-0.20,-49.30L1.30,-50.00L1.60,-50.90L2.50,-51.10L3.40,-51.40L4.20,-52.00L4.80,-53.00L6.00,-53.50L7.20,-53.50L8.60,-53.90L8.90,-54.80L8.20,-55.50L8.10,-56.80L10.50,-57.70L10.30,-56.50L10.90,-56.30L10.00,-55.00L10.90,-54.40L12.00,-54.20L13.80,-54.10L14.50,-53.90L16.50,-54.50L18.50,-54.80L19.50,-54.40L21.20,-55.20L21.10,-56.00L21.00,-57.00L22.50,-57.60L24.30,-57.00L23.50,-58.50L24.00,-59.30L25.50,-59.60L28.00,-59.50L30.20,-59.90L29.00,-60.20L26.50,-60.40L23.00,-59.90L21.50,-60.80L21.50,-62.00L22.50,-63.50L24.50,-64.80L25.40,-65.10L24.60,-65.70L22.00,-65.70L21.50,-64.50L20.50,-63.80L18.50,-62.80L17.40,-61.60L17.20,-60.80L18.80,-60.00L18.50,-59.30L16.50,-58.40L16.60,-57.00L16.00,-56.20L14.50,-56.00L12.90,-55.40L12.60,-56.20L11.90,-57.70L11.20,-59.00L10.50,-59.50L9.50,-59.00L8.00,-58.10L6.60,-58.10L5.60,-58.80L5.20,-60.00L5.00,-61.50L5.50,-62.30L7.00,-62.90L8.50,-63.50L10.00,-64.00L11.50,-65.00L12.50,-66.20L13.50,-67.50L15.00,-69.00L18.33,-70.00L32.50,-70.00L35.00,-69.50L41.00,-67.80L41.20,-66.80L40.20,-66.40L38.50,-66.10L36.00,-66.50L34.50,-66.60L33.50,-66.30L34.80,-65.00L34.60,-64.50L36.00,-63.90L37.50,-64.30L37.00,-64.80L36.50,-65.00L37.80,-65.10L39.00,-64.60L40.50,-64.60L40.20,-65.30L39.80,-65.70L41.00,-66.10L42.00,-66.50L44.20,-65.90L44.50,-66.80L45.00,-68.00L55.00,-69.00L60.00,-70.00L180.50,-70.00L180.50,-65.30L179.00,-62.50L177.00,-62.50L174.00,-61.80L172.00,-61.00L170.30,-60.00L166.00,-60.30L164.00,-59.80L163.30,-58.50L162.00,-57.50L163.00,-56.00L162.00,-55.00L160.00,-54.00L158.70,-53.00L157.00,-51.50L156.50,-52.50L156.00,-54.00L156.00,-56.00L157.00,-57.80L159.00,-58.80L160.50,-60.50L162.00,-61.50L163.50,-62.50L161.00,-61.80L158.00,-61.80L156.50,-61.50L154.00,-59.20L151.00,-59.00L150.80,-59.60L148.00,-59.30L145.00,-59.40L142.00,-59.00L140.50,-58.00L138.00,-56.50L137.00,-55.00L136.00,-54.50L139.00,-54.20L140.50,-53.50L141.40,-52.50L141.00,-51.00L140.50,-49.00L140.00,-48.00L138.50,-47.00L137.50,-45.80L135.50,-44.00L133.00,-42.70L131.90,-43.10L130.70,-42.40L130.60,-42.30L131.00,-42.90L131.50,-44.80L133.00,-45.00L134.00,-45.50L135.00,-47.50L134.50,-48.20L133.00,-48.20L131.00,-47.70L130.00,-48.80L127.50,-50.00L126.00,-52.80L123.50,-53.50L120.50,-53.30L119.50,-52.50L117.80,-49.50L116.50,-49.80L114.00,-50.20L111.00,-49.50L108.50,-49.30L107.00,-50.00L103.50,-50.30L102.00,-51.50L98.00,-52.30L98.00,-51.00L95.00,-50.00L92.00,-50.50L90.00,-50.30L87.50,-49.20L85.00,-49.50L83.00,-51.00L80.00,-51.00L77.00,-53.50L76.00,-54.20L73.50,-54.00L69.00,-55.30L65.00,-54.50L60.00,-54.00L61.00,-52.50L61.00,-50.80L56.00,-51.00L53.00,-51.50L48.80,-51.00L47.50,-50.50L50.50,-48.50L50.00,-47.50L50.39,-46.85L49.00,-46.50L47.50,-45.50L46.80,-44.50L47.50,-43.00L48.60,-41.80L48.00,-41.80L46.50,-41.80L44.80,-42.80L42.50,-43.50L41.60,-42.50L40.00,-43.40L38.50,-44.50L37.00,-45.00L38.00,-46.50L39.20,-47.20L37.00,-46.80L35.00,-46.20ZM-82.50,-63.20L-84.50,-62.80L-86.50,-63.50L-86.50,-64.00L-85.50,-65.20L-83.50,-65.50L-83.00,-64.20L-81.00,-63.80L-82.50,-63.20ZM-18.00,-66.20L-15.00,-66.30L-13.50,-65.30L-14.50,-64.40L-18.00,-63.40L-20.50,-63.70L-22.00,-64.00L-24.00,-65.50L-22.50,-66.40L-18.00,-66.20ZM-77.50,-64.30L-78.00,-65.00L-74.00,-66.00L-73.00,-66.80L-74.00,-70.00L-62.00,-70.00L-61.90,-66.60L-62.50,-66.00L-63.50,-65.00L-64.80,-63.50L-65.00,-62.60L-66.50,-61.90L-68.00,-62.30L-70.50,-62.70L-71.50,-63.50L-73.00,-64.30L-75.00,-64.60L-77.50,-64.30ZM-46.50,-60.50L-48.50,-61.20L-50.00,-62.50L-51.50,-64.00L-52.00,-65.00L-53.00,-66.00L-53.50,-66.80L-55.00,-70.00L-40.00,-70.00L-40.00,-64.43L-40.50,-64.00L-41.50,-63.00L-42.50,-61.50L-43.00,-60.20L-43.90,-59.80L-45.00,-60.00L-46.50,-60.50ZM-30.00,-70.00L-27.14,-70.00L-30.00,-68.00L-30.00,-70.00ZM170.60,45.90L169.30,46.60L166.50,46.00L166.80,45.30L168.30,44.00L170.50,43.00L171.50,41.80L172.10,40.90L172.70,40.50L174.30,41.40L174.00,42.00L173.00,43.00L172.70,43.80L171.20,44.50L170.60,45.90ZM146.00,43.50L145.20,42.20L144.60,40.70L146.50,41.10L148.30,40.90L148.30,42.20L147.90,43.20L146.90,43.60L146.00,43.50ZM177.50,37.90L178.50,37.70L178.00,39.00L177.00,39.30L176.80,40.30L175.30,41.60L174.60,41.30L175.00,40.00L173.80,39.30L174.60,38.80L174.70,37.50L174.30,36.50L172.70,34.40L174.00,35.20L174.80,36.80L175.50,37.00L176.00,37.60L177.50,37.90ZM122.30,18.00L122.50,16.80L123.50,16.50L124.50,15.80L125.50,14.50L126.80,13.80L128.00,14.80L129.50,14.90L130.20,13.30L130.80,12.40L132.00,11.50L132.60,12.00L134.00,11.90L135.50,12.20L136.80,12.20L136.50,13.30L135.50,14.50L135.50,15.00L137.00,16.00L138.50,16.80L140.00,17.50L140.80,17.40L141.50,15.50L141.60,13.00L142.00,11.00L142.50,10.70L143.50,12.50L143.50,14.00L144.50,14.30L145.30,15.00L145.50,16.50L146.20,18.50L147.50,19.50L149.00,21.00L150.50,22.50L151.00,23.50L152.50,25.00L153.10,26.50L153.60,28.50L153.00,30.50L152.50,32.00L151.30,33.80L150.80,34.80L150.00,36.50L149.90,37.50L148.00,37.80L146.50,38.80L145.00,38.30L144.50,38.20L143.50,38.80L142.00,38.30L140.50,38.00L139.50,37.00L139.80,36.00L138.50,35.50L138.50,34.90L137.80,35.70L138.00,34.00L137.80,33.00L136.50,34.80L135.60,34.80L135.20,34.30L134.20,32.90L132.50,32.00L131.00,31.50L129.00,31.70L127.00,32.30L125.00,32.90L123.60,33.90L121.00,33.80L119.50,34.30L118.00,35.00L116.50,35.00L115.00,34.30L115.00,33.50L115.70,33.20L115.70,31.90L115.00,30.00L114.90,29.00L114.20,27.00L113.50,26.30L113.80,25.00L113.40,24.30L113.80,23.00L113.50,22.00L114.10,21.80L115.50,21.00L116.80,20.60L118.80,20.30L121.00,19.50L122.30,18.00ZM130.10,-32.20L129.70,-32.80L129.80,-33.50L130.80,-33.90L131.70,-33.30L131.50,-32.00L131.00,-31.00L130.20,-31.20L130.10,-32.20ZM133.30,-33.30L132.80,-32.80L132.50,-33.00L132.90,-33.90L134.00,-34.30L134.70,-34.00L134.20,-33.40L133.30,-33.30ZM126.50,-35.50L126.80,-36.50L126.60,-37.40L126.20,-37.80L127.00,-38.30L128.29,-38.60L128.50,-38.30L129.40,-37.00L129.50,-35.50L129.00,-35.10L127.80,-34.80L126.50,-34.40L126.50,-35.50ZM136.80,-37.00L137.30,-37.50L137.00,-36.80L138.50,-37.50L139.50,-38.30L140.00,-39.50L140.00,-40.00L140.00,-40.50L140.50,-41.20L141.40,-41.40L141.47,-40.74L141.47,-40.74L141.50,-40.50L142.00,-39.50L141.50,-38.30L141.00,-37.50L140.90,-36.50L140.80,-35.70L140.00,-35.00L139.70,-35.30L139.20,-35.20L138.80,-34.70L138.20,-34.60L137.00,-34.60L136.80,-34.30L136.00,-33.50L135.20,-33.80L135.30,-34.60L134.00,-34.60L132.50,-34.30L131.50,-34.00L130.90,-34.00L131.50,-34.60L132.50,-35.30L133.50,-35.50L135.00,-35.70L136.00,-35.90L136.80,-37.00ZM144.50,-44.00L145.50,-43.30L143.30,-42.00L142.00,-42.50L141.20,-41.80L140.00,-41.50L140.00,-42.30L140.40,-43.20L141.50,-43.50L141.60,-45.30L142.00,-45.50L144.50,-44.00ZM142.10,-50.00L141.70,-51.90L142.20,-53.60L142.70,-54.30L143.20,-53.00L143.30,-51.50L144.20,-49.20L143.00,-49.00L143.50,-46.80L142.00,-46.00L141.90,-48.00L142.10,-50.00Z" fill="#dfd0d4"/><path d="M46.80,-44.50L47.50,-45.50L49.00,-46.50L51.00,-47.00L53.00,-46.80L53.20,-45.30L51.30,-44.50L51.00,-43.20L52.70,-42.00L53.00,-41.00L54.00,-40.00L53.80,-38.00L53.90,-37.00L51.50,-36.80L50.00,-37.40L49.00,-38.20L49.30,-39.50L49.50,-40.50L48.50,-41.80L47.50,-43.00L46.80,-44.50Z" fill="#eadcdf"/></g><path d="M58.58 204.70V378.00M148.94 204.70V378.00M239.30 204.70V378.00M329.66 204.70V378.00M420.02 204.70V378.00M31.50 364.82H510.80M31.50 334.76H510.80M31.50 304.70H510.80M31.50 274.64H510.80M31.50 244.58H510.80M31.50 214.52H510.80" stroke="#b0b0b0" stroke-opacity="0.38" stroke-width="0.6" stroke-dasharray="1.8 1.1" fill="none"/><g stroke="#333" stroke-width="0.55"><circle cx="68.3" cy="223.9" r="1.8" fill="#f09b7a"/><circle cx="67.3" cy="228.0" r="1.8" fill="#f09b7a"/><circle cx="78.5" cy="226.1" r="1.8" fill="#f09b7a"/><circle cx="81.8" cy="228.7" r="1.8" fill="#f09b7a"/><circle cx="92.8" cy="229.3" r="1.8" fill="#f09b7a"/><circle cx="92.8" cy="232.6" r="1.8" fill="#fbe3d5"/><circle cx="54.3" cy="230.5" r="1.8" fill="#f09b7a"/><circle cx="59.4" cy="229.3" r="1.8" fill="#c1373a"/><circle cx="62.7" cy="232.6" r="1.8" fill="#c1373a"/><circle cx="57.8" cy="234.4" r="1.8" fill="#c1373a"/><circle cx="60.1" cy="235.1" r="1.8" fill="#c1373a"/><circle cx="54.3" cy="233.6" r="1.8" fill="#67001f"/><circle cx="54.0" cy="237.7" r="1.8" fill="#67001f"/><circle cx="64.2" cy="238.9" r="1.8" fill="#c1373a"/><circle cx="76.0" cy="235.6" r="1.8" fill="#f09b7a"/><circle cx="70.9" cy="243.3" r="1.8" fill="#c1373a"/><circle cx="81.1" cy="243.6" r="1.8" fill="#f09b7a"/><circle cx="81.3" cy="246.3" r="1.8" fill="#fbe3d5"/><circle cx="55.0" cy="243.6" r="1.8" fill="#67001f"/><circle cx="59.1" cy="245.3" r="1.8" fill="#f09b7a"/><circle cx="54.5" cy="246.9" r="1.8" fill="#67001f"/><circle cx="56.5" cy="248.7" r="1.8" fill="#67001f"/><circle cx="58.6" cy="250.4" r="1.8" fill="#67001f"/><circle cx="65.7" cy="249.9" r="1.8" fill="#fbe3d5"/><circle cx="61.1" cy="252.5" r="1.8" fill="#fbe3d5"/><circle cx="60.1" cy="251.5" r="1.8" fill="#67001f"/><circle cx="63.7" cy="255.5" r="1.8" fill="#c1373a"/><circle cx="65.7" cy="255.0" r="1.8" fill="#67001f"/><circle cx="70.9" cy="254.0" r="1.8" fill="#f09b7a"/><circle cx="72.4" cy="256.1" r="1.8" fill="#f09b7a"/><circle cx="79.0" cy="252.0" r="1.8" fill="#c1373a"/><circle cx="79.0" cy="256.9" r="1.8" fill="#c1373a"/><circle cx="71.9" cy="261.0" r="1.8" fill="#fbe3d5"/><circle cx="79.5" cy="261.2" r="1.8" fill="#fbe3d5"/><circle cx="86.2" cy="251.5" r="1.8" fill="#fbe3d5"/><circle cx="85.7" cy="256.6" r="1.8" fill="#fbe3d5"/><circle cx="83.6" cy="266.3" r="1.8" fill="#fbe3d5"/><circle cx="87.2" cy="266.3" r="1.8" fill="#fbe3d5"/><circle cx="88.7" cy="265.8" r="1.8" fill="#67001f"/><circle cx="91.3" cy="265.2" r="1.8" fill="#fbe3d5"/><circle cx="83.6" cy="271.9" r="1.8" fill="#fbe3d5"/><circle cx="87.2" cy="271.9" r="1.8" fill="#dceaf2"/><circle cx="89.8" cy="273.4" r="1.8" fill="#dceaf2"/><circle cx="79.6" cy="261.9" r="1.8" fill="#fbe3d5"/><circle cx="92.1" cy="264.5" r="1.8" fill="#fbe3d5"/><circle cx="95.4" cy="261.9" r="1.8" fill="#fbe3d5"/><circle cx="83.5" cy="273.3" r="1.8" fill="#dceaf2"/><circle cx="87.1" cy="271.1" r="1.8" fill="#dceaf2"/><circle cx="88.1" cy="273.7" r="1.8" fill="#fbe3d5"/><circle cx="90.5" cy="274.3" r="1.8" fill="#dceaf2"/><circle cx="90.5" cy="276.3" r="1.8" fill="#dceaf2"/><circle cx="94.7" cy="275.7" r="1.8" fill="#fbe3d5"/><circle cx="104.2" cy="272.8" r="1.8" fill="#fbe3d5"/><circle cx="115.1" cy="269.7" r="1.8" fill="#dceaf2"/><circle cx="123.6" cy="277.2" r="1.8" fill="#fbe3d5"/><circle cx="130.2" cy="276.3" r="1.8" fill="#dceaf2"/><circle cx="134.1" cy="277.0" r="1.8" fill="#f09b7a"/><circle cx="139.8" cy="277.0" r="1.8" fill="#f09b7a"/><circle cx="102.6" cy="282.2" r="1.8" fill="#fbe3d5"/><circle cx="105.2" cy="284.2" r="1.8" fill="#dceaf2"/><circle cx="112.4" cy="289.4" r="1.8" fill="#fbe3d5"/><circle cx="119.7" cy="290.8" r="1.8" fill="#dceaf2"/><circle cx="126.9" cy="288.1" r="1.8" fill="#fbe3d5"/><circle cx="131.5" cy="288.5" r="1.8" fill="#fbe3d5"/><circle cx="134.8" cy="289.4" r="1.8" fill="#f09b7a"/><circle cx="138.1" cy="289.1" r="1.8" fill="#fbe3d5"/><circle cx="125.6" cy="295.1" r="1.8" fill="#f09b7a"/><circle cx="128.2" cy="297.3" r="1.8" fill="#fbe3d5"/><circle cx="124.3" cy="299.6" r="1.8" fill="#c1373a"/><circle cx="126.9" cy="299.6" r="1.8" fill="#fbe3d5"/><circle cx="121.0" cy="304.6" r="1.8" fill="#fbe3d5"/><circle cx="118.8" cy="308.1" r="1.8" fill="#fbe3d5"/><circle cx="148.8" cy="309.1" r="1.8" fill="#fbe3d5"/><circle cx="166.3" cy="306.6" r="1.8" fill="#fbe3d5"/><circle cx="174.8" cy="312.2" r="1.8" fill="#fbe3d5"/><circle cx="181.1" cy="310.1" r="1.8" fill="#fbe3d5"/><circle cx="143.0" cy="317.8" r="1.8" fill="#fbe3d5"/><circle cx="178.0" cy="319.0" r="1.8" fill="#fbe3d5"/><circle cx="181.5" cy="324.1" r="1.8" fill="#fbe3d5"/><circle cx="123.5" cy="322.7" r="1.8" fill="#dceaf2"/><circle cx="131.6" cy="329.1" r="1.8" fill="#fbe3d5"/><circle cx="136.5" cy="329.1" r="1.8" fill="#dceaf2"/><circle cx="139.7" cy="330.9" r="1.8" fill="#dceaf2"/><circle cx="144.4" cy="331.3" r="1.8" fill="#fbe3d5"/><circle cx="155.0" cy="328.0" r="1.8" fill="#fbe3d5"/><circle cx="164.8" cy="329.5" r="1.8" fill="#fbe3d5"/><circle cx="167.1" cy="328.3" r="1.8" fill="#fbe3d5"/><circle cx="166.9" cy="333.0" r="1.8" fill="#f09b7a"/><circle cx="157.2" cy="335.3" r="1.8" fill="#fbe3d5"/><circle cx="167.5" cy="336.2" r="1.8" fill="#fbe3d5"/><circle cx="173.0" cy="334.4" r="1.8" fill="#fbe3d5"/><circle cx="178.8" cy="335.0" r="1.8" fill="#fbe3d5"/><circle cx="161.6" cy="339.7" r="1.8" fill="#fbe3d5"/><circle cx="168.1" cy="339.7" r="1.8" fill="#c1373a"/><circle cx="169.8" cy="339.7" r="1.8" fill="#f09b7a"/><circle cx="174.5" cy="338.8" r="1.8" fill="#c1373a"/><circle cx="152.3" cy="342.6" r="1.8" fill="#fbe3d5"/><circle cx="165.7" cy="343.7" r="1.8" fill="#f09b7a"/><circle cx="164.6" cy="347.3" r="1.8" fill="#fbe3d5"/><circle cx="162.2" cy="349.0" r="1.8" fill="#fbe3d5"/><circle cx="141.0" cy="344.9" r="1.8" fill="#fbe3d5"/><circle cx="142.6" cy="351.9" r="1.8" fill="#f09b7a"/><circle cx="136.0" cy="351.9" r="1.8" fill="#fbe3d5"/><circle cx="135.6" cy="354.3" r="1.8" fill="#fbe3d5"/><circle cx="131.6" cy="354.3" r="1.8" fill="#f09b7a"/><circle cx="133.0" cy="355.4" r="1.8" fill="#67001f"/><circle cx="148.0" cy="354.0" r="1.8" fill="#f09b7a"/><circle cx="151.5" cy="356.8" r="1.8" fill="#67001f"/><circle cx="155.0" cy="356.9" r="1.8" fill="#fbe3d5"/><circle cx="117.6" cy="234.5" r="1.8" fill="#fbe3d5"/><circle cx="125.2" cy="235.9" r="1.8" fill="#f09b7a"/><circle cx="128.3" cy="235.7" r="1.8" fill="#c1373a"/><circle cx="132.0" cy="233.9" r="1.8" fill="#fbe3d5"/><circle cx="247.3" cy="213.6" r="1.8" fill="#f09b7a"/><circle cx="255.5" cy="214.3" r="1.8" fill="#c1373a"/><circle cx="266.3" cy="215.0" r="1.8" fill="#f09b7a"/><circle cx="276.9" cy="213.9" r="1.8" fill="#c1373a"/><circle cx="284.1" cy="214.5" r="1.8" fill="#c1373a"/><circle cx="257.6" cy="217.8" r="1.8" fill="#f09b7a"/><circle cx="258.1" cy="220.9" r="1.8" fill="#f09b7a"/><circle cx="275.6" cy="218.9" r="1.8" fill="#f09b7a"/><circle cx="230.3" cy="221.8" r="1.8" fill="#fbe3d5"/><circle cx="229.8" cy="224.4" r="1.8" fill="#f09b7a"/><circle cx="233.8" cy="220.0" r="1.8" fill="#fbe3d5"/><circle cx="235.1" cy="221.8" r="1.8" fill="#fbe3d5"/><circle cx="237.3" cy="221.3" r="1.8" fill="#f09b7a"/><circle cx="237.3" cy="224.0" r="1.8" fill="#fbe3d5"/><circle cx="234.6" cy="224.4" r="1.8" fill="#f09b7a"/><circle cx="235.5" cy="227.0" r="1.8" fill="#f09b7a"/><circle cx="240.1" cy="226.8" r="1.8" fill="#f09b7a"/><circle cx="243.0" cy="228.8" r="1.8" fill="#f09b7a"/><circle cx="241.2" cy="230.1" r="1.8" fill="#67001f"/><circle cx="242.1" cy="232.3" r="1.8" fill="#67001f"/><circle cx="246.0" cy="225.7" r="1.8" fill="#67001f"/><circle cx="246.0" cy="228.2" r="1.8" fill="#67001f"/><circle cx="249.1" cy="227.0" r="1.8" fill="#c1373a"/><circle cx="249.1" cy="229.7" r="1.8" fill="#c1373a"/><circle cx="251.7" cy="224.8" r="1.8" fill="#c1373a"/><circle cx="254.3" cy="224.0" r="1.8" fill="#c1373a"/><circle cx="253.9" cy="226.2" r="1.8" fill="#c1373a"/><circle cx="252.6" cy="229.2" r="1.8" fill="#f09b7a"/><circle cx="252.2" cy="231.8" r="1.8" fill="#67001f"/><circle cx="256.1" cy="230.1" r="1.8" fill="#67001f"/><circle cx="256.5" cy="232.3" r="1.8" fill="#c1373a"/><circle cx="259.2" cy="225.3" r="1.8" fill="#c1373a"/><circle cx="260.9" cy="228.8" r="1.8" fill="#67001f"/><circle cx="257.8" cy="227.0" r="1.8" fill="#c1373a"/><circle cx="264.4" cy="225.7" r="1.8" fill="#c1373a"/><circle cx="267.0" cy="222.7" r="1.8" fill="#f09b7a"/><circle cx="270.1" cy="222.2" r="1.8" fill="#c1373a"/><circle cx="267.9" cy="226.6" r="1.8" fill="#67001f"/><circle cx="271.0" cy="226.2" r="1.8" fill="#67001f"/><circle cx="269.2" cy="228.8" r="1.8" fill="#67001f"/><circle cx="274.5" cy="224.4" r="1.8" fill="#c1373a"/><circle cx="275.1" cy="226.2" r="1.8" fill="#f09b7a"/><circle cx="275.6" cy="229.2" r="1.8" fill="#f09b7a"/><circle cx="264.9" cy="231.8" r="1.8" fill="#67001f"/><circle cx="267.9" cy="233.2" r="1.8" fill="#c1373a"/><circle cx="280.6" cy="223.5" r="1.8" fill="#f09b7a"/><circle cx="284.6" cy="228.8" r="1.8" fill="#67001f"/><circle cx="236.8" cy="233.4" r="1.8" fill="#c1373a"/><circle cx="238.6" cy="236.7" r="1.8" fill="#67001f"/><circle cx="241.6" cy="238.9" r="1.8" fill="#67001f"/><circle cx="243.8" cy="235.8" r="1.8" fill="#67001f"/><circle cx="246.9" cy="236.2" r="1.8" fill="#67001f"/><circle cx="247.8" cy="238.4" r="1.8" fill="#67001f"/><circle cx="250.4" cy="237.1" r="1.8" fill="#67001f"/><circle cx="244.7" cy="238.9" r="1.8" fill="#f09b7a"/><circle cx="247.3" cy="239.3" r="1.8" fill="#67001f"/><circle cx="253.9" cy="236.1" r="1.8" fill="#f09b7a"/><circle cx="257.4" cy="236.2" r="1.8" fill="#c1373a"/><circle cx="256.1" cy="238.9" r="1.8" fill="#67001f"/><circle cx="263.1" cy="235.8" r="1.8" fill="#67001f"/><circle cx="270.1" cy="237.1" r="1.8" fill="#c1373a"/><circle cx="278.4" cy="237.8" r="1.8" fill="#c1373a"/><circle cx="282.8" cy="234.0" r="1.8" fill="#f09b7a"/><circle cx="234.6" cy="239.3" r="1.8" fill="#f09b7a"/><circle cx="238.1" cy="239.7" r="1.8" fill="#f09b7a"/><circle cx="232.0" cy="241.9" r="1.8" fill="#c1373a"/><circle cx="226.8" cy="241.9" r="1.8" fill="#c1373a"/><circle cx="225.9" cy="246.3" r="1.8" fill="#67001f"/><circle cx="230.3" cy="248.3" r="1.8" fill="#67001f"/><circle cx="232.9" cy="249.2" r="1.8" fill="#fbe3d5"/><circle cx="234.2" cy="244.1" r="1.8" fill="#f09b7a"/><circle cx="237.7" cy="241.9" r="1.8" fill="#f09b7a"/><circle cx="238.6" cy="245.9" r="1.8" fill="#fbe3d5"/><circle cx="238.6" cy="249.4" r="1.8" fill="#fbe3d5"/><circle cx="242.1" cy="242.4" r="1.8" fill="#c1373a"/><circle cx="244.3" cy="249.4" r="1.8" fill="#fbe3d5"/><circle cx="251.3" cy="248.9" r="1.8" fill="#fbe3d5"/><circle cx="253.0" cy="245.4" r="1.8" fill="#fbe3d5"/><circle cx="254.8" cy="248.9" r="1.8" fill="#fbe3d5"/><circle cx="255.2" cy="252.0" r="1.8" fill="#dceaf2"/><circle cx="258.3" cy="241.9" r="1.8" fill="#c1373a"/><circle cx="258.7" cy="247.2" r="1.8" fill="#fbe3d5"/><circle cx="260.9" cy="240.6" r="1.8" fill="#f09b7a"/><circle cx="260.9" cy="243.2" r="1.8" fill="#67001f"/><circle cx="261.8" cy="248.1" r="1.8" fill="#c1373a"/><circle cx="260.9" cy="250.2" r="1.8" fill="#f09b7a"/><circle cx="264.9" cy="242.8" r="1.8" fill="#fbe3d5"/><circle cx="259.2" cy="255.1" r="1.8" fill="#fbe3d5"/><circle cx="261.8" cy="255.9" r="1.8" fill="#fbe3d5"/><circle cx="269.7" cy="255.9" r="1.8" fill="#fbe3d5"/><circle cx="271.4" cy="241.0" r="1.8" fill="#c1373a"/><circle cx="274.5" cy="240.2" r="1.8" fill="#c1373a"/><circle cx="273.9" cy="243.2" r="1.8" fill="#fbe3d5"/><circle cx="274.9" cy="247.2" r="1.8" fill="#fbe3d5"/><circle cx="280.2" cy="246.7" r="1.8" fill="#c1373a"/><circle cx="282.8" cy="242.8" r="1.8" fill="#67001f"/><circle cx="283.2" cy="248.5" r="1.8" fill="#fbe3d5"/><circle cx="228.5" cy="253.7" r="1.8" fill="#fbe3d5"/><circle cx="227.6" cy="256.4" r="1.8" fill="#f09b7a"/><circle cx="296.0" cy="220.5" r="1.8" fill="#f09b7a"/><circle cx="296.0" cy="223.1" r="1.8" fill="#fbe3d5"/><circle cx="299.1" cy="222.2" r="1.8" fill="#c1373a"/><circle cx="301.7" cy="224.8" r="1.8" fill="#f09b7a"/><circle cx="298.6" cy="226.6" r="1.8" fill="#f09b7a"/><circle cx="305.2" cy="220.0" r="1.8" fill="#c1373a"/><circle cx="313.1" cy="220.5" r="1.8" fill="#f09b7a"/><circle cx="317.9" cy="220.9" r="1.8" fill="#fbe3d5"/><circle cx="314.8" cy="224.4" r="1.8" fill="#f09b7a"/><circle cx="308.7" cy="227.0" r="1.8" fill="#fbe3d5"/><circle cx="324.0" cy="217.0" r="1.8" fill="#fbe3d5"/><circle cx="323.9" cy="222.0" r="1.8" fill="#c1373a"/><circle cx="330.6" cy="218.7" r="1.8" fill="#fbe3d5"/><circle cx="331.9" cy="221.3" r="1.8" fill="#f09b7a"/><circle cx="328.2" cy="224.1" r="1.8" fill="#c1373a"/><circle cx="327.5" cy="227.0" r="1.8" fill="#f09b7a"/><circle cx="325.4" cy="228.8" r="1.8" fill="#fbe3d5"/><circle cx="293.8" cy="229.2" r="1.8" fill="#f09b7a"/><circle cx="289.9" cy="232.3" r="1.8" fill="#f09b7a"/><circle cx="292.5" cy="231.8" r="1.8" fill="#f09b7a"/><circle cx="296.0" cy="233.6" r="1.8" fill="#f09b7a"/><circle cx="299.1" cy="233.6" r="1.8" fill="#f09b7a"/><circle cx="298.2" cy="236.7" r="1.8" fill="#f09b7a"/><circle cx="302.6" cy="236.7" r="1.8" fill="#fbe3d5"/><circle cx="306.5" cy="231.4" r="1.8" fill="#f09b7a"/><circle cx="317.5" cy="233.6" r="1.8" fill="#fbe3d5"/><circle cx="285.9" cy="234.5" r="1.8" fill="#fbe3d5"/><circle cx="289.9" cy="237.1" r="1.8" fill="#f09b7a"/><circle cx="307.0" cy="239.3" r="1.8" fill="#fbe3d5"/><circle cx="307.0" cy="241.9" r="1.8" fill="#fbe3d5"/><circle cx="310.9" cy="240.2" r="1.8" fill="#fbe3d5"/><circle cx="306.1" cy="244.1" r="1.8" fill="#fbe3d5"/><circle cx="314.4" cy="243.7" r="1.8" fill="#dceaf2"/><circle cx="289.0" cy="244.1" r="1.8" fill="#fbe3d5"/><circle cx="285.9" cy="248.9" r="1.8" fill="#f09b7a"/><circle cx="288.6" cy="247.6" r="1.8" fill="#f09b7a"/><circle cx="292.5" cy="248.9" r="1.8" fill="#c1373a"/><circle cx="296.0" cy="248.9" r="1.8" fill="#fbe3d5"/><circle cx="300.0" cy="247.6" r="1.8" fill="#f09b7a"/><circle cx="289.9" cy="251.6" r="1.8" fill="#fbe3d5"/><circle cx="293.0" cy="253.7" r="1.8" fill="#67001f"/><circle cx="292.5" cy="255.5" r="1.8" fill="#dceaf2"/><circle cx="294.3" cy="254.2" r="1.8" fill="#fbe3d5"/><circle cx="304.3" cy="248.9" r="1.8" fill="#fbe3d5"/><circle cx="307.8" cy="251.1" r="1.8" fill="#fbe3d5"/><circle cx="306.1" cy="254.2" r="1.8" fill="#c1373a"/><circle cx="308.3" cy="255.9" r="1.8" fill="#f09b7a"/><circle cx="311.8" cy="256.8" r="1.8" fill="#f09b7a"/><circle cx="316.6" cy="250.9" r="1.8" fill="#c1373a"/><circle cx="317.0" cy="255.5" r="1.8" fill="#fbe3d5"/><circle cx="327.1" cy="247.2" r="1.8" fill="#fbe3d5"/><circle cx="329.3" cy="250.1" r="1.8" fill="#fbe3d5"/><circle cx="340.2" cy="245.0" r="1.8" fill="#f09b7a"/><circle cx="284.6" cy="257.3" r="1.8" fill="#fbe3d5"/><circle cx="349.8" cy="212.1" r="1.8" fill="#f09b7a"/><circle cx="349.8" cy="221.8" r="1.8" fill="#fbe3d5"/><circle cx="347.0" cy="227.5" r="1.8" fill="#fbe3d5"/><circle cx="352.7" cy="227.0" r="1.8" fill="#fbe3d5"/><circle cx="355.3" cy="225.7" r="1.8" fill="#f09b7a"/><circle cx="364.1" cy="221.3" r="1.8" fill="#fbe3d5"/><circle cx="365.8" cy="224.4" r="1.8" fill="#f09b7a"/><circle cx="360.1" cy="228.8" r="1.8" fill="#fbe3d5"/><circle cx="363.8" cy="229.4" r="1.8" fill="#f09b7a"/><circle cx="379.2" cy="220.0" r="1.8" fill="#fbe3d5"/><circle cx="396.5" cy="225.7" r="1.8" fill="#f09b7a"/><circle cx="399.6" cy="232.3" r="1.8" fill="#f09b7a"/><circle cx="367.3" cy="236.1" r="1.8" fill="#87beda"/><circle cx="368.9" cy="238.4" r="1.8" fill="#fbe3d5"/><circle cx="371.1" cy="238.4" r="1.8" fill="#f09b7a"/><circle cx="361.9" cy="238.4" r="1.8" fill="#f09b7a"/><circle cx="355.3" cy="239.3" r="1.8" fill="#f09b7a"/><circle cx="351.8" cy="240.2" r="1.8" fill="#f09b7a"/><circle cx="347.0" cy="239.7" r="1.8" fill="#f09b7a"/><circle cx="343.5" cy="241.9" r="1.8" fill="#f09b7a"/><circle cx="348.1" cy="243.2" r="1.8" fill="#fbe3d5"/><circle cx="343.1" cy="246.3" r="1.8" fill="#fbe3d5"/><circle cx="353.8" cy="245.0" r="1.8" fill="#fbe3d5"/><circle cx="360.3" cy="242.4" r="1.8" fill="#f09b7a"/><circle cx="359.7" cy="248.7" r="1.8" fill="#f09b7a"/><circle cx="392.6" cy="249.4" r="1.8" fill="#fbe3d5"/><circle cx="395.9" cy="250.2" r="1.8" fill="#fbe3d5"/><circle cx="399.1" cy="245.0" r="1.8" fill="#fbe3d5"/><circle cx="347.0" cy="253.3" r="1.8" fill="#fbe3d5"/><circle cx="349.6" cy="253.7" r="1.8" fill="#fbe3d5"/><circle cx="348.8" cy="256.8" r="1.8" fill="#c1373a"/><circle cx="351.4" cy="256.4" r="1.8" fill="#f09b7a"/><circle cx="354.9" cy="257.3" r="1.8" fill="#f09b7a"/><circle cx="396.9" cy="256.4" r="1.8" fill="#f09b7a"/><circle cx="401.5" cy="226.6" r="1.8" fill="#fbe3d5"/><circle cx="400.5" cy="232.3" r="1.8" fill="#fbe3d5"/><circle cx="423.0" cy="234.9" r="1.8" fill="#fbe3d5"/><circle cx="426.0" cy="233.2" r="1.8" fill="#fbe3d5"/><circle cx="428.2" cy="236.2" r="1.8" fill="#fbe3d5"/><circle cx="430.4" cy="235.4" r="1.8" fill="#fbe3d5"/><circle cx="430.2" cy="238.4" r="1.8" fill="#fbe3d5"/><circle cx="426.9" cy="239.3" r="1.8" fill="#fbe3d5"/><circle cx="435.8" cy="233.6" r="1.8" fill="#f09b7a"/><circle cx="442.8" cy="231.7" r="1.8" fill="#c1373a"/><circle cx="452.3" cy="239.6" r="1.8" fill="#67001f"/><circle cx="418.6" cy="241.0" r="1.8" fill="#fbe3d5"/><circle cx="423.4" cy="241.0" r="1.8" fill="#f09b7a"/><circle cx="426.0" cy="241.9" r="1.8" fill="#f09b7a"/><circle cx="428.8" cy="245.9" r="1.8" fill="#fbe3d5"/><circle cx="430.6" cy="248.1" r="1.8" fill="#fbe3d5"/><circle cx="430.4" cy="251.6" r="1.8" fill="#fbe3d5"/><circle cx="433.9" cy="251.1" r="1.8" fill="#c1373a"/><circle cx="436.1" cy="253.7" r="1.8" fill="#f09b7a"/><circle cx="438.7" cy="252.9" r="1.8" fill="#67001f"/><circle cx="440.9" cy="252.4" r="1.8" fill="#67001f"/><circle cx="443.5" cy="252.0" r="1.8" fill="#67001f"/><circle cx="445.7" cy="249.4" r="1.8" fill="#c1373a"/><circle cx="448.8" cy="247.6" r="1.8" fill="#67001f"/><circle cx="451.9" cy="246.7" r="1.8" fill="#67001f"/><circle cx="450.1" cy="250.9" r="1.8" fill="#67001f"/><circle cx="447.0" cy="251.6" r="1.8" fill="#67001f"/><circle cx="442.7" cy="253.3" r="1.8" fill="#f09b7a"/><circle cx="399.0" cy="247.2" r="1.8" fill="#f09b7a"/><circle cx="392.9" cy="249.3" r="1.8" fill="#fbe3d5"/><circle cx="396.0" cy="250.2" r="1.8" fill="#f09b7a"/><circle cx="405.1" cy="243.2" r="1.8" fill="#fbe3d5"/><circle cx="407.8" cy="242.8" r="1.8" fill="#fbe3d5"/><circle cx="410.4" cy="244.5" r="1.8" fill="#fbe3d5"/><circle cx="413.0" cy="243.2" r="1.8" fill="#fbe3d5"/><circle cx="415.2" cy="243.2" r="1.8" fill="#f09b7a"/><circle cx="418.7" cy="240.6" r="1.8" fill="#fbe3d5"/><circle cx="420.9" cy="243.2" r="1.8" fill="#fbe3d5"/><circle cx="423.1" cy="241.0" r="1.8" fill="#c1373a"/><circle cx="425.7" cy="241.9" r="1.8" fill="#f09b7a"/><circle cx="427.0" cy="239.7" r="1.8" fill="#f09b7a"/><circle cx="430.1" cy="238.8" r="1.8" fill="#fbe3d5"/><circle cx="404.7" cy="246.7" r="1.8" fill="#fbe3d5"/><circle cx="410.4" cy="247.6" r="1.8" fill="#fbe3d5"/><circle cx="415.7" cy="247.2" r="1.8" fill="#fbe3d5"/><circle cx="418.7" cy="245.0" r="1.8" fill="#fbe3d5"/><circle cx="421.8" cy="245.4" r="1.8" fill="#fbe3d5"/><circle cx="423.5" cy="248.5" r="1.8" fill="#fbe3d5"/><circle cx="428.8" cy="245.8" r="1.8" fill="#fbe3d5"/><circle cx="430.5" cy="248.5" r="1.8" fill="#fbe3d5"/><circle cx="400.8" cy="252.8" r="1.8" fill="#c1373a"/><circle cx="403.4" cy="252.8" r="1.8" fill="#c1373a"/><circle cx="406.0" cy="251.1" r="1.8" fill="#fbe3d5"/><circle cx="408.6" cy="251.5" r="1.8" fill="#fbe3d5"/><circle cx="411.3" cy="252.8" r="1.8" fill="#fbe3d5"/><circle cx="413.9" cy="250.2" r="1.8" fill="#f09b7a"/><circle cx="416.1" cy="252.8" r="1.8" fill="#fbe3d5"/><circle cx="418.3" cy="249.3" r="1.8" fill="#f09b7a"/><circle cx="420.5" cy="250.7" r="1.8" fill="#fbe3d5"/><circle cx="430.5" cy="252.0" r="1.8" fill="#fbe3d5"/><circle cx="406.0" cy="255.0" r="1.8" fill="#f09b7a"/><circle cx="408.2" cy="256.3" r="1.8" fill="#c1373a"/><circle cx="411.3" cy="255.9" r="1.8" fill="#f09b7a"/><circle cx="414.8" cy="256.8" r="1.8" fill="#c1373a"/><circle cx="417.8" cy="257.2" r="1.8" fill="#c1373a"/><circle cx="420.0" cy="255.5" r="1.8" fill="#f09b7a"/><circle cx="421.8" cy="257.2" r="1.8" fill="#c1373a"/><circle cx="396.4" cy="257.2" r="1.8" fill="#fbe3d5"/><circle cx="399.0" cy="258.1" r="1.8" fill="#f09b7a"/><circle cx="396.0" cy="259.0" r="1.8" fill="#f09b7a"/><circle cx="399.9" cy="260.3" r="1.8" fill="#f09b7a"/><circle cx="406.5" cy="258.5" r="1.8" fill="#f09b7a"/><circle cx="408.2" cy="259.4" r="1.8" fill="#fbe3d5"/><circle cx="410.4" cy="260.7" r="1.8" fill="#f09b7a"/><circle cx="413.9" cy="261.6" r="1.8" fill="#f09b7a"/><circle cx="417.0" cy="261.6" r="1.8" fill="#f09b7a"/><circle cx="419.6" cy="260.3" r="1.8" fill="#f09b7a"/><circle cx="421.3" cy="262.5" r="1.8" fill="#f09b7a"/><circle cx="415.7" cy="259.4" r="1.8" fill="#f09b7a"/><circle cx="400.8" cy="262.9" r="1.8" fill="#f09b7a"/><circle cx="400.3" cy="265.1" r="1.8" fill="#f09b7a"/><circle cx="393.8" cy="266.9" r="1.8" fill="#f09b7a"/><circle cx="395.5" cy="265.5" r="1.8" fill="#c1373a"/><circle cx="404.7" cy="262.9" r="1.8" fill="#f09b7a"/><circle cx="408.6" cy="264.2" r="1.8" fill="#f09b7a"/><circle cx="405.1" cy="266.4" r="1.8" fill="#f09b7a"/><circle cx="403.8" cy="267.7" r="1.8" fill="#f09b7a"/><circle cx="411.3" cy="265.5" r="1.8" fill="#f09b7a"/><circle cx="412.6" cy="267.7" r="1.8" fill="#fbe3d5"/><circle cx="415.7" cy="266.9" r="1.8" fill="#c1373a"/><circle cx="418.7" cy="266.4" r="1.8" fill="#f09b7a"/><circle cx="422.7" cy="266.9" r="1.8" fill="#fbe3d5"/><circle cx="402.5" cy="269.9" r="1.8" fill="#f09b7a"/><circle cx="406.0" cy="269.9" r="1.8" fill="#f09b7a"/><circle cx="409.5" cy="269.9" r="1.8" fill="#c1373a"/><circle cx="411.3" cy="270.8" r="1.8" fill="#f09b7a"/><circle cx="414.8" cy="269.5" r="1.8" fill="#c1373a"/><circle cx="420.5" cy="269.9" r="1.8" fill="#f09b7a"/><circle cx="399.0" cy="273.0" r="1.8" fill="#f09b7a"/><circle cx="405.6" cy="273.9" r="1.8" fill="#f09b7a"/><circle cx="405.6" cy="272.1" r="1.8" fill="#f09b7a"/><circle cx="402.5" cy="280.4" r="1.8" fill="#fbe3d5"/><circle cx="421.8" cy="282.6" r="1.8" fill="#f09b7a"/><circle cx="391.1" cy="283.9" r="1.8" fill="#fbe3d5"/><circle cx="292.1" cy="258.0" r="1.8" fill="#dceaf2"/><circle cx="292.1" cy="260.0" r="1.8" fill="#dceaf2"/><circle cx="286.6" cy="259.5" r="1.8" fill="#f09b7a"/><circle cx="289.2" cy="259.3" r="1.8" fill="#fbe3d5"/><circle cx="312.7" cy="256.9" r="1.8" fill="#fbe3d5"/><circle cx="312.2" cy="259.0" r="1.8" fill="#fbe3d5"/><circle cx="311.7" cy="261.0" r="1.8" fill="#dceaf2"/><circle cx="318.6" cy="260.0" r="1.8" fill="#dceaf2"/><circle cx="314.7" cy="265.1" r="1.8" fill="#fbe3d5"/><circle cx="310.1" cy="267.1" r="1.8" fill="#dceaf2"/><circle cx="313.7" cy="266.6" r="1.8" fill="#f09b7a"/><circle cx="317.3" cy="266.6" r="1.8" fill="#dceaf2"/><circle cx="322.9" cy="266.4" r="1.8" fill="#fbe3d5"/><circle cx="298.4" cy="272.3" r="1.8" fill="#dceaf2"/><circle cx="288.2" cy="280.9" r="1.8" fill="#fbe3d5"/><circle cx="297.9" cy="291.0" r="1.8" fill="#dceaf2"/><circle cx="340.3" cy="267.1" r="1.8" fill="#dceaf2"/><circle cx="346.9" cy="259.0" r="1.8" fill="#c1373a"/><circle cx="349.0" cy="265.1" r="1.8" fill="#dceaf2"/><circle cx="348.5" cy="270.7" r="1.8" fill="#fbe3d5"/><circle cx="349.0" cy="275.3" r="1.8" fill="#dceaf2"/><circle cx="356.2" cy="261.1" r="1.8" fill="#f09b7a"/><circle cx="353.6" cy="264.2" r="1.8" fill="#fbe3d5"/><circle cx="357.1" cy="265.0" r="1.8" fill="#f09b7a"/><circle cx="361.0" cy="264.2" r="1.8" fill="#f09b7a"/><circle cx="362.8" cy="266.3" r="1.8" fill="#f09b7a"/><circle cx="353.6" cy="266.8" r="1.8" fill="#fbe3d5"/><circle cx="368.0" cy="262.8" r="1.8" fill="#fbe3d5"/><circle cx="353.1" cy="269.8" r="1.8" fill="#fbe3d5"/><circle cx="356.2" cy="269.7" r="1.8" fill="#dceaf2"/><circle cx="349.2" cy="272.9" r="1.8" fill="#f09b7a"/><circle cx="358.4" cy="272.9" r="1.8" fill="#fbe3d5"/><circle cx="362.6" cy="272.5" r="1.8" fill="#fbe3d5"/><circle cx="350.9" cy="276.9" r="1.8" fill="#fbe3d5"/><circle cx="357.5" cy="278.2" r="1.8" fill="#fbe3d5"/><circle cx="372.4" cy="270.3" r="1.8" fill="#fbe3d5"/><circle cx="375.5" cy="269.0" r="1.8" fill="#fbe3d5"/><circle cx="383.8" cy="279.0" r="1.8" fill="#fbe3d5"/><circle cx="354.5" cy="285.6" r="1.8" fill="#fbe3d5"/><circle cx="357.1" cy="284.7" r="1.8" fill="#fbe3d5"/><circle cx="360.1" cy="284.7" r="1.8" fill="#f09b7a"/><circle cx="355.8" cy="288.2" r="1.8" fill="#fbe3d5"/><circle cx="358.4" cy="286.9" r="1.8" fill="#dceaf2"/><circle cx="354.0" cy="289.6" r="1.8" fill="#fbe3d5"/><circle cx="359.7" cy="293.9" r="1.8" fill="#fbe3d5"/><circle cx="397.4" cy="286.9" r="1.8" fill="#fbe3d5"/><circle cx="392.6" cy="295.3" r="1.8" fill="#fbe3d5"/><circle cx="390.4" cy="295.3" r="1.8" fill="#fbe3d5"/><circle cx="400.1" cy="288.1" r="1.8" fill="#fbe3d5"/><circle cx="414.1" cy="295.5" r="1.8" fill="#fbe3d5"/><circle cx="415.7" cy="304.9" r="1.8" fill="#fbe3d5"/><circle cx="419.2" cy="312.1" r="1.8" fill="#fbe3d5"/><circle cx="388.1" cy="298.8" r="1.8" fill="#fbe3d5"/><circle cx="391.6" cy="297.8" r="1.8" fill="#fbe3d5"/><circle cx="395.2" cy="298.8" r="1.8" fill="#fbe3d5"/><circle cx="392.7" cy="300.8" r="1.8" fill="#dceaf2"/><circle cx="395.7" cy="302.4" r="1.8" fill="#fbe3d5"/><circle cx="391.9" cy="303.9" r="1.8" fill="#dceaf2"/><circle cx="395.2" cy="307.0" r="1.8" fill="#fbe3d5"/><circle cx="397.3" cy="309.0" r="1.8" fill="#dceaf2"/><circle cx="400.3" cy="314.1" r="1.8" fill="#fbe3d5"/><circle cx="405.4" cy="315.1" r="1.8" fill="#fbe3d5"/><circle cx="409.0" cy="315.7" r="1.8" fill="#fbe3d5"/><circle cx="413.1" cy="317.7" r="1.8" fill="#fbe3d5"/><circle cx="227.3" cy="285.6" r="1.8" fill="#fbe3d5"/><circle cx="237.0" cy="286.0" r="1.8" fill="#dceaf2"/><circle cx="218.9" cy="289.9" r="1.8" fill="#fbe3d5"/><circle cx="223.2" cy="295.0" r="1.8" fill="#fbe3d5"/><circle cx="232.9" cy="296.6" r="1.8" fill="#fbe3d5"/><circle cx="237.0" cy="294.0" r="1.8" fill="#fbe3d5"/><circle cx="239.0" cy="296.1" r="1.8" fill="#fbe3d5"/><circle cx="241.4" cy="295.0" r="1.8" fill="#fbe3d5"/><circle cx="244.6" cy="293.0" r="1.8" fill="#fbe3d5"/><circle cx="245.1" cy="295.0" r="1.8" fill="#fbe3d5"/><circle cx="247.7" cy="295.0" r="1.8" fill="#fbe3d5"/><circle cx="249.7" cy="297.1" r="1.8" fill="#fbe3d5"/><circle cx="250.6" cy="290.9" r="1.8" fill="#fbe3d5"/><circle cx="250.8" cy="288.7" r="1.8" fill="#fbe3d5"/><circle cx="252.3" cy="286.3" r="1.8" fill="#fbe3d5"/><circle cx="253.8" cy="298.1" r="1.8" fill="#fbe3d5"/><circle cx="256.9" cy="298.9" r="1.8" fill="#fbe3d5"/><circle cx="253.8" cy="303.7" r="1.8" fill="#dceaf2"/><circle cx="262.2" cy="310.9" r="1.8" fill="#fbe3d5"/><circle cx="288.2" cy="304.0" r="1.8" fill="#fbe3d5"/><circle cx="294.8" cy="306.2" r="1.8" fill="#dceaf2"/><circle cx="298.5" cy="314.9" r="1.8" fill="#fbe3d5"/><circle cx="259.2" cy="317.8" r="1.8" fill="#dceaf2"/><circle cx="280.6" cy="321.8" r="1.8" fill="#dceaf2"/><circle cx="282.3" cy="324.2" r="1.8" fill="#fbe3d5"/><circle cx="281.9" cy="327.7" r="1.8" fill="#fbe3d5"/><circle cx="285.9" cy="331.3" r="1.8" fill="#fbe3d5"/><circle cx="291.9" cy="328.1" r="1.8" fill="#fbe3d5"/><circle cx="310.9" cy="333.0" r="1.8" fill="#fbe3d5"/><circle cx="278.3" cy="341.6" r="1.8" fill="#fbe3d5"/><circle cx="284.0" cy="340.2" r="1.8" fill="#fbe3d5"/><circle cx="281.6" cy="343.5" r="1.8" fill="#fbe3d5"/><circle cx="288.2" cy="343.5" r="1.8" fill="#fbe3d5"/><circle cx="279.0" cy="348.2" r="1.8" fill="#fbe3d5"/><circle cx="285.9" cy="349.5" r="1.8" fill="#fbe3d5"/><circle cx="267.1" cy="355.4" r="1.8" fill="#fbe3d5"/><circle cx="277.7" cy="355.4" r="1.8" fill="#dceaf2"/><circle cx="460.4" cy="333.5" r="1.8" fill="#fbe3d5"/><circle cx="469.7" cy="346.0" r="1.8" fill="#dceaf2"/><circle cx="413.7" cy="353.1" r="1.8" fill="#fbe3d5"/><circle cx="448.0" cy="357.1" r="1.8" fill="#fbe3d5"/><circle cx="457.9" cy="361.5" r="1.8" fill="#fbe3d5"/><circle cx="464.3" cy="357.5" r="1.8" fill="#fbe3d5"/><circle cx="467.8" cy="354.1" r="1.8" fill="#fbe3d5"/><circle cx="466.0" cy="355.8" r="1.8" fill="#fbe3d5"/><circle cx="502.6" cy="360.0" r="1.8" fill="#fbe3d5"/><circle cx="499.2" cy="369.9" r="1.8" fill="#fbe3d5"/><circle cx="212.8" cy="282.2" r="1.8" fill="#dceaf2"/><circle cx="245.5" cy="237.7" r="1.8" fill="#67001f"/><circle cx="248.5" cy="237.2" r="1.8" fill="#67001f"/><circle cx="249.5" cy="239.2" r="1.8" fill="#67001f"/><circle cx="251.5" cy="238.2" r="1.8" fill="#67001f"/><circle cx="246.0" cy="234.7" r="1.8" fill="#67001f"/><circle cx="391.1" cy="284.1" r="1.8" fill="#fbe3d5"/><circle cx="391.3" cy="283.8" r="1.8" fill="#fbe3d5"/><circle cx="104.8" cy="248.8" r="1.8" fill="#f09b7a"/><circle cx="111.2" cy="257.1" r="1.8" fill="#f09b7a"/><circle cx="117.7" cy="260.0" r="1.8" fill="#f09b7a"/><circle cx="107.8" cy="252.5" r="1.8" fill="#fbe3d5"/><circle cx="117.6" cy="243.8" r="1.8" fill="#f09b7a"/><circle cx="117.1" cy="257.7" r="1.8" fill="#f09b7a"/><circle cx="111.3" cy="253.6" r="1.8" fill="#c1373a"/><circle cx="104.2" cy="241.0" r="1.8" fill="#f09b7a"/><circle cx="99.7" cy="249.3" r="1.8" fill="#fbe3d5"/><circle cx="96.2" cy="241.8" r="1.8" fill="#c1373a"/><circle cx="101.6" cy="247.9" r="1.8" fill="#c1373a"/><circle cx="119.5" cy="240.1" r="1.8" fill="#f09b7a"/><circle cx="110.3" cy="240.4" r="1.8" fill="#f09b7a"/><circle cx="126.6" cy="241.3" r="1.8" fill="#fbe3d5"/><circle cx="95.5" cy="259.8" r="1.8" fill="#fbe3d5"/><circle cx="93.7" cy="241.0" r="1.8" fill="#f09b7a"/><circle cx="105.7" cy="256.5" r="1.8" fill="#f09b7a"/><circle cx="133.3" cy="238.3" r="1.8" fill="#c1373a"/><circle cx="101.1" cy="239.7" r="1.8" fill="#f09b7a"/><circle cx="85.7" cy="256.5" r="1.8" fill="#f09b7a"/><circle cx="103.4" cy="244.8" r="1.8" fill="#f09b7a"/><circle cx="98.5" cy="245.5" r="1.8" fill="#c1373a"/><circle cx="94.0" cy="245.9" r="1.8" fill="#c1373a"/><circle cx="101.6" cy="242.7" r="1.8" fill="#f09b7a"/><circle cx="97.6" cy="258.3" r="1.8" fill="#f09b7a"/><circle cx="112.7" cy="244.6" r="1.8" fill="#f09b7a"/><circle cx="107.2" cy="241.4" r="1.8" fill="#c1373a"/><circle cx="99.3" cy="253.0" r="1.8" fill="#fbe3d5"/><circle cx="103.4" cy="259.0" r="1.8" fill="#fbe3d5"/><circle cx="96.8" cy="238.6" r="1.8" fill="#f09b7a"/><circle cx="115.0" cy="254.9" r="1.8" fill="#f09b7a"/><circle cx="101.0" cy="256.9" r="1.8" fill="#f09b7a"/><circle cx="120.2" cy="247.5" r="1.8" fill="#f09b7a"/><circle cx="108.0" cy="238.9" r="1.8" fill="#f09b7a"/><circle cx="116.4" cy="246.2" r="1.8" fill="#f09b7a"/><circle cx="116.3" cy="262.1" r="1.8" fill="#c1373a"/><circle cx="104.8" cy="251.3" r="1.8" fill="#fbe3d5"/><circle cx="105.8" cy="253.6" r="1.8" fill="#c1373a"/><circle cx="107.2" cy="248.5" r="1.8" fill="#fbe3d5"/><circle cx="90.7" cy="248.3" r="1.8" fill="#fbe3d5"/><circle cx="110.2" cy="246.4" r="1.8" fill="#c1373a"/><circle cx="123.3" cy="238.8" r="1.8" fill="#f09b7a"/><circle cx="130.6" cy="242.8" r="1.8" fill="#f09b7a"/><circle cx="126.4" cy="238.2" r="1.8" fill="#fbe3d5"/><circle cx="129.9" cy="236.9" r="1.8" fill="#f09b7a"/><circle cx="123.8" cy="248.7" r="1.8" fill="#f09b7a"/><circle cx="93.2" cy="259.2" r="1.8" fill="#f09b7a"/><circle cx="117.5" cy="252.9" r="1.8" fill="#fbe3d5"/><circle cx="122.1" cy="241.9" r="1.8" fill="#c1373a"/><circle cx="115.6" cy="250.9" r="1.8" fill="#f09b7a"/><circle cx="108.2" cy="259.2" r="1.8" fill="#f09b7a"/><circle cx="122.8" cy="244.6" r="1.8" fill="#fbe3d5"/><circle cx="95.0" cy="255.0" r="1.8" fill="#f09b7a"/><circle cx="120.6" cy="252.0" r="1.8" fill="#f09b7a"/><circle cx="93.6" cy="250.5" r="1.8" fill="#f09b7a"/><circle cx="89.7" cy="255.5" r="1.8" fill="#fbe3d5"/><circle cx="101.0" cy="251.5" r="1.8" fill="#f09b7a"/><circle cx="117.4" cy="249.1" r="1.8" fill="#fbe3d5"/><circle cx="112.3" cy="238.8" r="1.8" fill="#fbe3d5"/><circle cx="133.3" cy="240.6" r="1.8" fill="#f09b7a"/><circle cx="125.7" cy="246.9" r="1.8" fill="#f09b7a"/><circle cx="113.2" cy="241.1" r="1.8" fill="#c1373a"/><circle cx="97.2" cy="248.1" r="1.8" fill="#c1373a"/><circle cx="91.2" cy="250.5" r="1.8" fill="#f09b7a"/><circle cx="109.6" cy="250.6" r="1.8" fill="#fbe3d5"/><circle cx="118.6" cy="262.6" r="1.8" fill="#c1373a"/><circle cx="98.1" cy="250.9" r="1.8" fill="#c1373a"/><circle cx="86.8" cy="253.1" r="1.8" fill="#c1373a"/><circle cx="113.9" cy="248.6" r="1.8" fill="#f09b7a"/><circle cx="117.5" cy="255.2" r="1.8" fill="#fbe3d5"/><circle cx="105.7" cy="246.7" r="1.8" fill="#c1373a"/><circle cx="127.0" cy="244.8" r="1.8" fill="#c1373a"/><circle cx="119.6" cy="254.3" r="1.8" fill="#c1373a"/><circle cx="92.1" cy="254.1" r="1.8" fill="#fbe3d5"/><circle cx="114.8" cy="259.7" r="1.8" fill="#fbe3d5"/><circle cx="108.8" cy="255.2" r="1.8" fill="#f09b7a"/><circle cx="105.4" cy="238.6" r="1.8" fill="#f09b7a"/><circle cx="98.2" cy="240.4" r="1.8" fill="#f09b7a"/><circle cx="103.3" cy="254.0" r="1.8" fill="#f09b7a"/><circle cx="89.0" cy="257.7" r="1.8" fill="#fbe3d5"/><circle cx="116.3" cy="242.0" r="1.8" fill="#fbe3d5"/><circle cx="110.7" cy="242.6" r="1.8" fill="#c1373a"/><circle cx="105.1" cy="243.3" r="1.8" fill="#c1373a"/><circle cx="108.4" cy="244.1" r="1.8" fill="#f09b7a"/><circle cx="92.0" cy="245.0" r="1.8" fill="#f09b7a"/><circle cx="94.6" cy="248.1" r="1.8" fill="#f09b7a"/><circle cx="89.7" cy="252.9" r="1.8" fill="#c1373a"/><circle cx="110.8" cy="248.8" r="1.8" fill="#f09b7a"/><circle cx="98.7" cy="256.4" r="1.8" fill="#fbe3d5"/><circle cx="131.0" cy="239.0" r="1.8" fill="#fbe3d5"/><circle cx="99.8" cy="259.9" r="1.8" fill="#c1373a"/><circle cx="117.3" cy="265.5" r="1.8" fill="#f09b7a"/><circle cx="92.1" cy="238.2" r="1.8" fill="#c1373a"/><circle cx="103.0" cy="238.4" r="1.8" fill="#c1373a"/><circle cx="124.5" cy="241.7" r="1.8" fill="#f09b7a"/><circle cx="91.8" cy="257.0" r="1.8" fill="#fbe3d5"/><circle cx="103.4" cy="256.5" r="1.8" fill="#f09b7a"/><circle cx="112.9" cy="251.1" r="1.8" fill="#fbe3d5"/><circle cx="115.0" cy="239.5" r="1.8" fill="#c1373a"/><circle cx="95.6" cy="252.3" r="1.8" fill="#f09b7a"/><circle cx="117.6" cy="237.8" r="1.8" fill="#fbe3d5"/><circle cx="119.9" cy="242.9" r="1.8" fill="#f09b7a"/><circle cx="129.0" cy="240.6" r="1.8" fill="#f09b7a"/><circle cx="121.0" cy="238.0" r="1.8" fill="#fbe3d5"/><circle cx="99.1" cy="243.3" r="1.8" fill="#c1373a"/><circle cx="96.3" cy="246.0" r="1.8" fill="#f09b7a"/><circle cx="94.3" cy="238.8" r="1.8" fill="#c1373a"/><circle cx="84.5" cy="252.6" r="1.8" fill="#fbe3d5"/><circle cx="88.8" cy="249.9" r="1.8" fill="#c1373a"/><circle cx="112.7" cy="258.6" r="1.8" fill="#f09b7a"/><circle cx="119.5" cy="257.2" r="1.8" fill="#fbe3d5"/><circle cx="101.0" cy="254.4" r="1.8" fill="#c1373a"/><circle cx="122.1" cy="250.2" r="1.8" fill="#fbe3d5"/><circle cx="97.0" cy="254.1" r="1.8" fill="#f09b7a"/><circle cx="115.1" cy="244.3" r="1.8" fill="#67001f"/><circle cx="123.5" cy="252.1" r="1.8" fill="#fbe3d5"/><circle cx="100.9" cy="245.4" r="1.8" fill="#f09b7a"/><circle cx="99.7" cy="237.7" r="1.8" fill="#fbe3d5"/><circle cx="91.9" cy="242.7" r="1.8" fill="#f09b7a"/><circle cx="120.2" cy="245.3" r="1.8" fill="#f09b7a"/><circle cx="124.9" cy="244.0" r="1.8" fill="#c1373a"/><circle cx="122.0" cy="254.1" r="1.8" fill="#fbe3d5"/><circle cx="119.7" cy="249.7" r="1.8" fill="#fbe3d5"/><circle cx="94.0" cy="243.5" r="1.8" fill="#67001f"/><circle cx="91.0" cy="259.5" r="1.8" fill="#f09b7a"/><circle cx="114.6" cy="257.3" r="1.8" fill="#f09b7a"/><circle cx="95.2" cy="257.3" r="1.8" fill="#f09b7a"/></g></g><rect x="31.50" y="204.70" width="479.30" height="173.30" fill="none" stroke="#555" stroke-width="1"/><text x="23.7" y="367.32" text-anchor="end">40°S</text><text x="518" y="367.32">40°S</text><text x="23.7" y="337.26" text-anchor="end">20°S</text><text x="518" y="337.26">20°S</text><text x="23.7" y="307.20" text-anchor="end">0°</text><text x="518" y="307.20">0°</text><text x="23.7" y="277.14" text-anchor="end">20°N</text><text x="518" y="277.14">20°N</text><text x="23.7" y="247.08" text-anchor="end">40°N</text><text x="518" y="247.08">40°N</text><text x="23.7" y="217.02" text-anchor="end">60°N</text><text x="518" y="217.02">60°N</text><text x="60.0" y="361.30" style="font-size:14.6px;stroke-width:0.08px">(c)</text><clipPath id="clipe"><rect x="31.50" y="392.70" width="479.30" height="173.50"/></clipPath><g clip-path="url(#clipe)"><g transform="translate(239.300 492.700) scale(1.5060 1.5030)"><path d="M47.00,25.00L45.20,25.50L44.00,24.50L43.50,22.00L44.30,20.50L44.00,18.00L44.50,16.20L46.50,15.50L48.00,14.00L49.30,12.00L50.30,15.00L50.00,16.50L49.50,17.50L48.50,20.50L47.50,23.50L47.00,25.00ZM3.00,-36.80L5.00,-36.70L6.50,-37.00L8.50,-36.90L9.50,-37.30L10.30,-36.80L10.80,-35.50L10.50,-34.00L11.50,-33.20L13.20,-32.90L15.20,-32.30L15.50,-31.50L17.50,-31.00L19.00,-30.30L20.00,-31.00L20.00,-32.00L21.00,-32.80L23.00,-32.50L25.00,-31.60L28.00,-30.90L30.00,-31.30L31.00,-31.60L32.30,-31.30L34.20,-31.30L34.80,-32.50L35.10,-33.20L35.50,-34.50L35.90,-35.50L36.00,-36.50L35.50,-36.60L34.50,-36.80L33.00,-36.20L32.00,-36.50L30.50,-36.60L29.00,-36.60L27.50,-37.00L26.50,-38.30L26.50,-39.50L26.20,-40.20L27.50,-40.50L29.00,-41.00L29.50,-41.20L31.50,-41.30L33.50,-42.00L35.00,-42.00L36.50,-41.30L38.50,-41.00L40.50,-41.00L41.50,-41.50L41.60,-42.50L40.00,-43.40L38.50,-44.50L37.00,-45.00L38.00,-46.50L39.20,-47.20L37.00,-46.80L35.00,-46.20L35.50,-45.30L34.00,-44.40L33.00,-45.30L32.50,-45.50L33.50,-46.00L31.50,-46.60L30.70,-46.50L30.00,-45.50L29.50,-45.00L28.70,-44.30L28.00,-43.30L27.90,-42.50L28.00,-41.80L29.00,-41.20L27.50,-40.80L26.20,-40.60L25.00,-40.90L23.80,-40.70L22.90,-40.60L23.50,-39.80L22.80,-39.00L24.00,-38.20L23.00,-37.90L23.00,-36.50L22.50,-36.40L21.70,-36.90L21.30,-37.60L21.50,-38.30L20.80,-39.00L20.00,-39.70L19.40,-40.50L19.50,-41.80L18.80,-42.30L17.50,-43.00L16.00,-43.50L15.00,-44.50L14.50,-45.20L13.70,-45.10L13.80,-45.60L12.30,-45.40L12.50,-44.50L13.50,-43.60L14.50,-42.20L16.00,-41.50L17.50,-40.80L18.50,-40.10L17.20,-40.40L16.50,-39.50L17.10,-39.00L16.10,-38.00L15.60,-38.20L16.00,-39.50L15.50,-40.10L14.50,-40.60L13.50,-41.20L12.00,-42.00L10.50,-43.00L10.00,-44.00L8.90,-44.40L7.50,-43.80L6.50,-43.10L5.00,-43.40L4.00,-43.50L3.00,-43.00L3.20,-41.90L2.20,-41.40L0.80,-41.00L0.00,-39.80L-0.30,-39.50L0.20,-38.70L-0.70,-37.60L-2.00,-36.70L-4.40,-36.70L-5.60,-36.00L-6.30,-36.50L-7.40,-37.20L-8.90,-37.00L-8.80,-38.50L-9.50,-38.80L-9.00,-39.80L-8.70,-41.00L-8.90,-42.00L-9.30,-43.00L-8.00,-43.70L-5.80,-43.60L-3.80,-43.50L-1.80,-43.40L-1.40,-44.50L-1.20,-46.00L-2.20,-47.10L-4.40,-47.90L-4.70,-48.50L-3.00,-48.80L-1.60,-48.60L-1.40,-49.70L-0.20,-49.30L1.30,-50.00L1.60,-50.90L2.50,-51.10L3.40,-51.40L4.20,-52.00L4.80,-53.00L6.00,-53.50L7.20,-53.50L8.60,-53.90L8.90,-54.80L8.20,-55.50L8.10,-56.80L10.50,-57.70L10.30,-56.50L10.90,-56.30L10.00,-55.00L10.90,-54.40L12.00,-54.20L13.80,-54.10L14.50,-53.90L16.50,-54.50L18.50,-54.80L19.50,-54.40L21.20,-55.20L21.10,-56.00L21.00,-57.00L22.50,-57.60L24.30,-57.00L23.50,-58.50L24.00,-59.30L25.50,-59.60L28.00,-59.50L30.20,-59.90L29.00,-60.20L26.50,-60.40L23.00,-59.90L21.50,-60.80L21.50,-62.00L22.50,-63.50L24.50,-64.80L25.40,-65.10L24.60,-65.70L22.00,-65.70L21.50,-64.50L20.50,-63.80L18.50,-62.80L17.40,-61.60L17.20,-60.80L18.80,-60.00L18.50,-59.30L16.50,-58.40L16.60,-57.00L16.00,-56.20L14.50,-56.00L12.90,-55.40L12.60,-56.20L11.90,-57.70L11.20,-59.00L10.50,-59.50L9.50,-59.00L8.00,-58.10L6.60,-58.10L5.60,-58.80L5.20,-60.00L5.00,-61.50L5.50,-62.30L7.00,-62.90L8.50,-63.50L10.00,-64.00L11.50,-65.00L12.50,-66.20L13.50,-67.50L15.00,-69.00L18.33,-70.00L32.50,-70.00L35.00,-69.50L41.00,-67.80L41.20,-66.80L40.20,-66.40L38.50,-66.10L36.00,-66.50L34.50,-66.60L33.50,-66.30L34.80,-65.00L34.60,-64.50L36.00,-63.90L37.50,-64.30L37.00,-64.80L36.50,-65.00L37.80,-65.10L39.00,-64.60L40.50,-64.60L40.20,-65.30L39.80,-65.70L41.00,-66.10L42.00,-66.50L44.20,-65.90L44.50,-66.80L45.00,-68.00L55.00,-69.00L60.00,-70.00L180.50,-70.00L180.50,-65.30L179.00,-62.50L177.00,-62.50L174.00,-61.80L172.00,-61.00L170.30,-60.00L166.00,-60.30L164.00,-59.80L163.30,-58.50L162.00,-57.50L163.00,-56.00L162.00,-55.00L160.00,-54.00L158.70,-53.00L157.00,-51.50L156.50,-52.50L156.00,-54.00L156.00,-56.00L157.00,-57.80L159.00,-58.80L160.50,-60.50L162.00,-61.50L163.50,-62.50L161.00,-61.80L158.00,-61.80L156.50,-61.50L154.00,-59.20L151.00,-59.00L150.80,-59.60L148.00,-59.30L145.00,-59.40L142.00,-59.00L140.50,-58.00L138.00,-56.50L137.00,-55.00L136.00,-54.50L139.00,-54.20L140.50,-53.50L141.40,-52.50L141.00,-51.00L140.50,-49.00L140.00,-48.00L138.50,-47.00L137.50,-45.80L135.50,-44.00L133.00,-42.70L131.90,-43.10L130.70,-42.40L129.70,-41.00L129.50,-40.00L128.50,-39.50L127.50,-39.50L128.00,-39.00L128.50,-38.30L129.40,-37.00L129.50,-35.50L129.00,-35.10L127.80,-34.80L126.50,-34.40L126.50,-35.50L126.80,-36.50L126.60,-37.40L126.20,-37.80L125.00,-38.00L125.30,-39.20L124.50,-39.80L122.50,-39.50L121.20,-38.80L121.70,-39.50L122.20,-40.50L121.50,-40.90L120.50,-40.20L119.50,-39.80L118.50,-39.10L117.70,-38.70L118.50,-38.00L119.00,-37.20L120.00,-37.50L121.50,-37.50L122.50,-37.00L121.00,-36.50L120.20,-36.00L119.30,-35.00L120.00,-34.00L120.80,-32.50L121.80,-31.70L121.90,-30.90L121.00,-30.30L122.00,-29.80L121.50,-28.50L120.50,-27.50L119.50,-26.00L118.50,-24.60L117.00,-23.50L115.50,-22.80L114.20,-22.30L113.50,-22.20L112.00,-21.80L110.50,-21.20L110.20,-20.30L109.80,-21.40L108.50,-21.70L107.50,-21.00L106.70,-20.50L105.80,-19.00L106.50,-17.50L107.50,-16.30L108.30,-15.50L109.20,-13.50L109.20,-12.00L108.50,-11.00L107.00,-10.40L106.50,-9.50L105.00,-8.60L104.80,-9.60L104.50,-10.40L103.50,-10.60L102.80,-12.00L101.50,-12.70L100.90,-13.40L100.00,-13.00L99.90,-12.00L99.50,-10.50L99.20,-9.30L100.30,-8.40L100.50,-7.30L101.50,-6.80L102.20,-6.20L103.40,-4.90L103.50,-3.00L104.20,-1.40L103.50,-1.30L102.50,-2.00L101.30,-2.90L100.60,-4.00L100.30,-5.50L100.20,-6.50L99.50,-7.50L98.30,-8.20L98.50,-9.50L98.70,-10.50L98.50,-12.50L98.00,-14.50L97.60,-16.50L96.50,-16.80L95.30,-15.80L94.30,-16.00L94.50,-17.50L94.00,-19.00L93.00,-20.00L92.30,-20.80L91.80,-22.30L90.50,-22.00L89.00,-21.80L87.00,-21.50L86.50,-20.20L85.00,-19.30L84.00,-18.30L82.30,-17.00L80.30,-15.50L80.20,-13.10L79.80,-11.50L79.80,-10.30L78.20,-8.90L77.50,-8.10L76.50,-8.90L76.00,-10.50L75.30,-12.20L74.60,-14.00L73.80,-15.50L73.00,-17.50L72.80,-19.00L72.70,-21.00L72.50,-21.80L72.20,-21.30L70.80,-20.70L69.00,-22.30L70.20,-22.70L68.60,-23.50L67.50,-23.80L66.80,-25.00L65.00,-25.30L62.00,-25.10L60.50,-25.30L58.50,-25.60L57.30,-25.80L56.50,-27.10L55.00,-26.70L53.50,-26.90L51.50,-27.90L50.50,-29.00L49.50,-30.00L48.50,-30.20L48.00,-29.50L48.50,-28.30L49.50,-27.00L50.20,-26.20L51.00,-24.70L51.60,-25.90L51.50,-24.50L53.00,-24.20L54.50,-24.30L56.00,-26.00L56.30,-26.40L56.50,-24.50L57.80,-23.80L59.00,-22.60L59.80,-22.30L58.70,-20.50L57.80,-19.00L56.50,-18.20L55.00,-17.00L52.50,-16.00L50.00,-15.00L48.50,-14.00L45.00,-12.80L43.50,-12.70L43.00,-14.00L42.70,-15.50L42.00,-17.50L40.50,-19.50L39.20,-21.50L38.50,-23.50L37.50,-24.50L36.50,-26.00L35.00,-28.00L35.00,-29.50L34.90,-29.50L34.30,-27.80L33.50,-28.20L32.50,-29.90L33.50,-27.30L34.50,-25.50L35.50,-23.50L36.80,-22.00L37.20,-21.00L37.30,-19.00L38.50,-18.00L39.30,-15.80L40.00,-15.30L41.50,-13.80L42.80,-12.50L43.30,-11.50L44.50,-10.40L46.00,-10.70L48.50,-11.20L50.00,-11.50L51.30,-11.80L51.00,-10.50L50.00,-9.00L49.00,-7.00L48.00,-5.00L46.50,-3.50L45.30,-2.00L44.00,-1.00L42.50,0.50L41.50,1.70L40.50,2.50L39.70,4.00L39.30,4.70L38.80,5.80L39.30,6.80L39.50,8.50L40.40,10.50L40.60,12.50L40.50,15.00L39.50,16.30L37.50,17.50L36.00,18.80L34.70,19.80L35.20,21.50L35.50,23.00L35.00,24.50L33.50,25.30L32.60,25.90L32.90,26.50L32.30,28.50L31.00,29.80L29.50,31.30L28.00,32.70L27.00,33.50L25.60,34.00L24.00,34.10L22.00,34.10L20.50,34.50L19.70,34.80L18.50,34.30L18.40,33.90L18.00,31.50L17.20,30.00L16.50,28.60L15.50,27.00L15.00,25.50L14.50,22.90L13.50,20.80L12.50,19.00L11.70,17.50L11.80,15.80L12.50,13.50L13.70,11.70L13.00,10.50L13.40,8.80L13.00,7.50L12.30,6.10L12.00,5.00L11.50,3.80L10.00,2.50L9.30,0.50L9.30,-0.80L9.60,-2.00L9.80,-3.00L9.50,-4.00L8.50,-4.60L7.50,-4.50L6.20,-4.30L5.50,-5.20L4.50,-6.20L3.40,-6.40L2.50,-6.40L1.20,-6.10L0.00,-5.60L-2.00,-4.80L-3.00,-5.10L-5.00,-5.10L-7.50,-4.40L-8.00,-4.50L-10.00,-6.00L-11.50,-6.90L-13.00,-8.30L-13.50,-9.50L-14.50,-10.50L-15.50,-11.50L-16.70,-12.40L-16.80,-13.50L-17.50,-14.70L-16.50,-16.50L-16.20,-18.50L-16.50,-20.00L-17.00,-21.50L-16.30,-23.50L-15.50,-24.50L-14.50,-26.00L-13.00,-27.50L-11.50,-28.00L-10.50,-29.00L-9.70,-30.50L-9.30,-32.50L-7.60,-33.60L-6.80,-34.00L-6.50,-34.50L-5.90,-35.80L-5.30,-35.90L-3.50,-35.20L-2.00,-35.10L-0.60,-35.80L1.00,-36.50L3.00,-36.80ZM80.50,-5.90L79.90,-6.80L79.80,-8.50L80.20,-9.80L81.00,-8.50L81.80,-7.20L81.30,-6.20L80.50,-5.90ZM-86.30,-66.00L-87.00,-64.90L-88.00,-64.20L-90.50,-63.60L-91.00,-62.80L-93.00,-62.20L-94.00,-61.50L-94.60,-60.50L-94.30,-59.50L-93.20,-58.80L-92.50,-57.50L-90.50,-57.20L-88.00,-56.50L-86.00,-55.80L-84.00,-55.30L-82.20,-55.10L-82.30,-53.00L-81.50,-52.00L-80.50,-51.30L-79.00,-51.50L-78.90,-53.00L-79.20,-54.30L-77.80,-55.30L-76.60,-56.30L-77.00,-57.50L-77.50,-59.00L-78.00,-61.00L-77.50,-62.50L-75.50,-62.30L-73.50,-62.20L-71.50,-61.20L-69.80,-60.50L-69.30,-58.80L-67.50,-58.30L-65.50,-59.50L-64.50,-60.30L-63.00,-58.50L-62.00,-57.50L-61.50,-56.30L-60.00,-55.30L-58.50,-54.50L-57.00,-54.00L-55.80,-53.00L-55.80,-52.00L-57.20,-51.50L-58.50,-51.00L-60.00,-50.20L-62.00,-50.20L-64.50,-50.30L-66.50,-50.10L-67.50,-49.30L-69.00,-48.50L-70.00,-47.80L-71.20,-46.90L-70.50,-47.10L-69.70,-47.60L-68.50,-48.40L-67.00,-49.00L-65.50,-49.20L-64.20,-48.90L-64.50,-48.50L-65.30,-47.80L-64.80,-47.00L-64.50,-46.20L-63.50,-45.80L-62.00,-45.80L-61.50,-46.30L-60.50,-47.00L-59.80,-46.30L-60.00,-45.80L-61.00,-45.30L-62.00,-45.00L-63.50,-44.60L-64.50,-44.20L-65.60,-43.50L-66.10,-44.00L-65.50,-44.60L-64.40,-45.30L-65.00,-45.50L-66.20,-45.20L-67.00,-44.80L-68.00,-44.40L-69.00,-44.10L-70.20,-43.70L-70.60,-43.10L-70.80,-42.60L-70.60,-42.00L-70.00,-42.00L-70.00,-41.60L-70.60,-41.50L-71.00,-41.50L-71.80,-41.30L-72.00,-41.00L-73.00,-40.70L-74.00,-40.60L-74.00,-40.20L-74.30,-39.50L-74.90,-38.90L-75.00,-38.80L-75.10,-38.30L-75.60,-37.50L-76.00,-36.90L-75.80,-36.20L-75.60,-35.20L-76.70,-34.70L-77.80,-34.20L-78.80,-33.80L-79.60,-33.00L-80.50,-32.30L-81.20,-31.50L-81.40,-30.50L-81.00,-29.40L-80.60,-28.30L-80.10,-27.00L-80.10,-26.20L-80.40,-25.30L-81.10,-25.20L-81.70,-25.90L-82.20,-26.70L-82.70,-27.80L-83.00,-29.00L-83.80,-29.80L-84.50,-29.90L-85.30,-29.70L-86.00,-30.30L-87.00,-30.40L-88.00,-30.50L-88.80,-30.40L-89.60,-30.10L-89.40,-29.00L-90.90,-29.10L-92.30,-29.60L-93.80,-29.70L-94.80,-29.30L-95.50,-28.80L-96.80,-28.30L-97.40,-27.50L-97.30,-26.50L-97.40,-25.50L-97.70,-24.00L-97.80,-22.50L-97.50,-21.30L-97.10,-20.40L-96.50,-19.50L-95.90,-18.80L-94.80,-18.50L-94.00,-18.20L-92.50,-18.60L-91.50,-18.50L-90.80,-19.30L-90.50,-20.00L-90.30,-21.10L-88.50,-21.50L-87.50,-21.50L-86.80,-21.30L-87.40,-20.30L-87.50,-19.30L-87.90,-18.30L-88.20,-17.50L-88.30,-16.50L-88.60,-15.70L-88.00,-15.80L-86.50,-15.80L-85.00,-15.90L-84.00,-15.80L-83.20,-15.00L-83.40,-14.20L-83.50,-12.90L-83.80,-11.90L-83.70,-11.00L-83.40,-10.40L-82.60,-9.60L-82.20,-9.20L-81.70,-9.00L-80.90,-8.90L-79.90,-9.40L-79.00,-9.60L-78.00,-9.20L-77.40,-8.70L-76.80,-8.60L-76.00,-9.40L-75.50,-10.40L-74.20,-11.10L-73.30,-11.30L-72.20,-12.30L-71.90,-11.60L-71.60,-10.80L-70.20,-11.90L-69.80,-11.50L-68.30,-10.90L-67.50,-10.50L-66.00,-10.60L-64.20,-10.50L-62.50,-10.60L-62.00,-10.00L-61.00,-8.60L-59.80,-8.30L-58.20,-6.80L-57.10,-6.00L-54.00,-5.80L-52.50,-5.20L-51.20,-4.20L-50.00,-1.80L-50.50,-0.50L-49.50,0.10L-48.50,1.40L-46.50,1.00L-44.30,2.50L-42.50,2.60L-40.50,2.80L-38.50,3.70L-37.00,4.90L-35.20,5.50L-34.80,7.10L-34.90,8.00L-35.70,9.70L-37.50,11.50L-38.50,13.00L-39.00,13.50L-38.90,15.00L-39.20,17.70L-39.70,19.00L-40.30,20.30L-41.00,22.00L-42.00,22.90L-43.20,22.90L-44.50,23.20L-46.30,24.00L-48.00,25.40L-48.50,26.30L-48.60,28.00L-49.60,29.20L-50.70,30.80L-52.10,32.20L-53.40,33.70L-54.90,34.90L-56.00,34.90L-57.00,34.50L-58.50,34.50L-57.30,35.50L-56.70,36.50L-57.60,38.20L-60.00,38.80L-62.00,39.00L-62.30,40.50L-65.00,41.00L-63.80,42.10L-64.30,42.80L-65.00,43.50L-65.50,45.00L-67.30,45.50L-67.50,46.40L-65.90,47.80L-67.80,49.00L-68.30,50.10L-68.46,52.00L-75.00,52.00L-75.50,49.00L-75.50,46.50L-74.50,44.00L-73.80,42.00L-73.60,39.50L-73.20,37.20L-72.00,35.00L-71.60,33.00L-71.60,30.50L-71.40,28.50L-70.60,25.50L-70.40,23.60L-70.20,22.00L-70.20,20.00L-70.40,18.40L-71.40,17.70L-73.50,16.40L-75.20,15.30L-76.20,13.60L-77.10,12.10L-78.20,10.00L-79.00,8.40L-79.80,7.20L-80.90,6.00L-81.30,5.00L-81.20,4.20L-80.30,3.40L-80.10,2.60L-80.90,2.20L-80.90,1.00L-80.40,0.30L-80.00,-0.80L-79.00,-1.50L-78.60,-2.20L-77.50,-3.20L-77.30,-4.00L-77.40,-5.50L-77.50,-6.60L-77.90,-7.20L-78.20,-8.30L-78.80,-8.90L-79.60,-8.90L-80.30,-8.30L-80.00,-7.50L-80.40,-7.30L-81.50,-7.70L-82.30,-8.20L-83.00,-8.30L-83.70,-8.60L-84.70,-9.60L-85.00,-9.80L-85.60,-9.80L-85.80,-10.40L-85.70,-11.10L-86.70,-12.20L-87.30,-12.90L-87.60,-13.00L-88.00,-13.20L-89.00,-13.40L-90.00,-13.80L-91.00,-13.90L-92.20,-14.60L-93.00,-15.50L-94.00,-16.10L-95.00,-16.20L-96.00,-15.70L-97.00,-15.80L-98.50,-16.30L-99.90,-16.80L-101.00,-17.30L-102.00,-17.90L-103.50,-18.30L-104.30,-19.10L-105.00,-19.40L-105.60,-20.40L-105.30,-21.00L-105.60,-22.20L-106.40,-23.20L-107.50,-24.70L-108.60,-25.50L-109.50,-26.50L-111.00,-27.90L-112.20,-29.20L-112.80,-30.80L-113.50,-31.30L-114.80,-31.80L-114.50,-30.80L-113.50,-29.80L-112.80,-28.60L-112.00,-27.50L-111.00,-25.90L-110.60,-24.60L-109.90,-24.00L-109.60,-23.00L-110.20,-23.20L-111.60,-24.50L-112.20,-25.60L-112.80,-26.70L-114.10,-27.50L-114.20,-28.50L-115.20,-29.60L-116.00,-30.50L-116.60,-31.60L-117.10,-32.50L-117.30,-33.10L-118.40,-33.90L-119.50,-34.40L-120.60,-34.60L-121.30,-35.70L-121.90,-36.60L-122.50,-37.50L-123.00,-38.00L-123.80,-39.70L-124.20,-41.00L-124.50,-42.80L-124.00,-44.60L-124.00,-46.20L-124.40,-47.50L-124.70,-48.40L-125.50,-48.90L-126.50,-49.60L-128.30,-50.60L-127.80,-50.90L-128.20,-51.80L-129.00,-52.80L-130.20,-53.60L-130.50,-54.30L-132.00,-54.70L-133.50,-55.30L-134.50,-56.30L-135.50,-57.20L-136.20,-58.00L-137.00,-58.40L-138.50,-59.10L-140.00,-59.70L-140.00,-70.00L-84.33,-70.00L-81.50,-69.00L-82.00,-67.00L-85.50,-67.50L-86.00,-66.60L-86.30,-66.00ZM-78.30,-18.20L-78.30,-18.40L-76.30,-18.20L-76.80,-17.90L-78.30,-18.20ZM-65.70,-18.00L-67.20,-18.00L-67.20,-18.50L-65.60,-18.40L-65.70,-18.00ZM-72.50,-18.20L-74.40,-18.30L-74.40,-18.50L-72.70,-19.90L-71.00,-19.90L-69.50,-19.30L-68.40,-18.60L-69.00,-18.30L-71.00,-18.00L-72.50,-18.20ZM-74.20,-20.20L-75.50,-19.90L-77.70,-19.90L-77.50,-20.70L-78.50,-21.50L-80.50,-22.00L-82.00,-22.30L-83.50,-22.00L-84.90,-21.90L-84.00,-22.60L-82.50,-23.10L-80.50,-23.10L-79.00,-22.50L-77.50,-21.50L-75.70,-21.00L-74.20,-20.20ZM-53.50,-48.50L-52.80,-47.50L-53.10,-46.70L-54.00,-46.80L-54.50,-47.40L-55.50,-46.90L-56.00,-47.60L-59.40,-47.70L-58.50,-48.50L-57.50,-50.30L-56.50,-51.60L-55.50,-51.50L-55.80,-50.00L-54.00,-49.50L-53.50,-48.50ZM-9.90,-53.50L-10.00,-54.20L-8.60,-54.30L-8.40,-54.80L-7.50,-55.30L-6.20,-55.20L-5.50,-54.60L-6.20,-54.00L-6.10,-53.30L-6.00,-52.20L-6.50,-52.10L-8.00,-51.80L-9.50,-51.50L-10.30,-51.90L-9.80,-52.50L-9.00,-53.20L-9.90,-53.50ZM-3.00,-53.40L-3.00,-54.00L-3.50,-54.90L-5.00,-54.80L-5.00,-55.70L-5.60,-56.30L-5.70,-57.50L-5.00,-58.60L-3.00,-58.60L-3.50,-57.70L-1.80,-57.60L-2.00,-57.00L-2.60,-56.00L-1.60,-55.60L-1.00,-54.50L0.00,-53.60L0.30,-53.00L1.70,-52.50L1.40,-51.20L-1.00,-50.80L-3.00,-50.70L-4.20,-50.40L-5.70,-50.10L-4.50,-51.00L-3.20,-51.40L-5.20,-51.70L-4.10,-52.50L-4.50,-53.30L-3.00,-53.40ZM-86.50,-63.50L-86.50,-64.00L-85.50,-65.20L-83.50,-65.50L-83.00,-64.20L-81.00,-63.80L-82.50,-63.20L-84.50,-62.80L-86.50,-63.50ZM-18.00,-63.40L-20.50,-63.70L-22.00,-64.00L-24.00,-65.50L-22.50,-66.40L-18.00,-66.20L-15.00,-66.30L-13.50,-65.30L-14.50,-64.40L-18.00,-63.40ZM-66.50,-61.90L-68.00,-62.30L-70.50,-62.70L-71.50,-63.50L-73.00,-64.30L-75.00,-64.60L-77.50,-64.30L-78.00,-65.00L-74.00,-66.00L-73.00,-66.80L-74.00,-70.00L-62.00,-70.00L-61.90,-66.60L-62.50,-66.00L-63.50,-65.00L-64.80,-63.50L-65.00,-62.60L-66.50,-61.90ZM-39.00,-65.30L-40.50,-64.00L-41.50,-63.00L-42.50,-61.50L-43.00,-60.20L-43.90,-59.80L-45.00,-60.00L-46.50,-60.50L-48.50,-61.20L-50.00,-62.50L-51.50,-64.00L-52.00,-65.00L-53.00,-66.00L-53.50,-66.80L-55.00,-70.00L-27.14,-70.00L-30.00,-68.00L-35.00,-66.50L-37.50,-65.70L-39.00,-65.30ZM116.50,9.00L116.10,8.30L119.00,8.20L119.00,8.80L116.50,9.00ZM115.50,8.80L114.60,8.50L115.00,8.20L115.70,8.40L115.50,8.80ZM119.90,8.80L119.80,8.40L123.00,8.20L122.80,8.80L119.90,8.80ZM112.00,8.30L110.00,8.00L108.00,7.80L106.50,7.40L105.30,6.80L106.50,6.00L108.50,6.50L110.50,6.90L112.50,6.90L114.50,7.80L114.50,8.60L112.00,8.30ZM123.00,-0.90L124.50,-1.00L125.20,-1.50L124.00,-0.40L121.50,-0.50L120.50,0.50L121.50,1.00L123.30,0.90L121.50,1.90L122.50,3.50L122.30,4.80L121.00,4.00L120.50,5.50L119.50,5.50L119.40,3.50L118.80,2.80L119.40,0.50L120.00,-0.50L121.00,-1.10L123.00,-0.90ZM106.00,3.00L105.80,5.80L104.50,5.90L102.50,4.00L101.00,2.50L100.00,1.00L99.00,-1.00L97.50,-2.50L96.00,-4.00L95.30,-5.60L97.50,-5.20L98.50,-4.00L100.00,-2.50L101.50,-1.70L103.50,-0.00L104.50,1.50L106.00,3.00ZM117.50,-6.00L118.50,-5.00L118.00,-4.20L117.70,-3.00L118.00,-1.00L117.00,-0.00L116.50,1.50L116.00,3.50L114.60,3.50L113.00,3.20L111.50,3.00L110.20,2.90L110.00,1.50L109.00,-0.00L109.00,-1.50L109.70,-1.90L111.00,-1.80L113.00,-3.20L114.50,-4.60L115.50,-5.30L116.50,-6.80L117.50,-6.00ZM125.40,-5.80L124.10,-6.50L123.20,-7.40L122.00,-7.00L123.50,-7.80L124.20,-8.40L125.40,-9.60L126.30,-8.00L126.10,-6.50L125.40,-5.80ZM119.30,-11.00L119.70,-11.30L117.20,-8.40L117.00,-8.80L119.30,-11.00ZM122.40,-10.60L122.00,-10.80L121.90,-11.80L122.90,-11.60L123.10,-11.00L122.83,-10.85L123.20,-10.90L123.40,-9.30L123.00,-9.10L122.50,-9.80L122.50,-10.66L122.40,-10.60ZM123.40,-9.80L123.80,-11.20L124.05,-11.00L123.60,-9.70L123.40,-9.80ZM124.50,-11.40L124.30,-12.50L125.50,-12.20L125.60,-11.20L125.00,-11.00L124.90,-10.10L124.40,-10.30L124.50,-11.40ZM124.10,-12.60L123.30,-13.00L122.00,-13.60L120.90,-13.70L120.60,-14.50L120.00,-15.00L119.80,-16.30L120.40,-17.50L120.60,-18.50L122.20,-18.50L122.50,-17.00L121.80,-16.00L121.60,-14.50L122.50,-14.00L124.00,-13.80L124.10,-12.60ZM110.00,-20.10L111.00,-19.60L110.50,-18.60L109.50,-18.20L108.60,-18.60L108.60,-19.20L110.00,-20.10ZM120.10,-23.00L120.70,-24.60L121.50,-25.30L122.00,-25.00L121.40,-22.70L120.70,-22.00L120.10,-23.00ZM169.30,46.60L166.50,46.00L166.80,45.30L168.30,44.00L170.50,43.00L171.50,41.80L172.10,40.90L172.70,40.50L174.30,41.40L174.00,42.00L173.00,43.00L172.70,43.80L171.20,44.50L170.60,45.90L169.30,46.60ZM145.20,42.20L144.60,40.70L146.50,41.10L148.30,40.90L148.30,42.20L147.90,43.20L146.90,43.60L146.00,43.50L145.20,42.20ZM178.50,37.70L178.00,39.00L177.00,39.30L176.80,40.30L175.30,41.60L174.60,41.30L175.00,40.00L173.80,39.30L174.60,38.80L174.70,37.50L174.30,36.50L172.70,34.40L174.00,35.20L174.80,36.80L175.50,37.00L176.00,37.60L177.50,37.90L178.50,37.70ZM122.50,16.80L123.50,16.50L124.50,15.80L125.50,14.50L126.80,13.80L128.00,14.80L129.50,14.90L130.20,13.30L130.80,12.40L132.00,11.50L132.60,12.00L134.00,11.90L135.50,12.20L136.80,12.20L136.50,13.30L135.50,14.50L135.50,15.00L137.00,16.00L138.50,16.80L140.00,17.50L140.80,17.40L141.50,15.50L141.60,13.00L142.00,11.00L142.50,10.70L143.50,12.50L143.50,14.00L144.50,14.30L145.30,15.00L145.50,16.50L146.20,18.50L147.50,19.50L149.00,21.00L150.50,22.50L151.00,23.50L152.50,25.00L153.10,26.50L153.60,28.50L153.00,30.50L152.50,32.00L151.30,33.80L150.80,34.80L150.00,36.50L149.90,37.50L148.00,37.80L146.50,38.80L145.00,38.30L144.50,38.20L143.50,38.80L142.00,38.30L140.50,38.00L139.50,37.00L139.80,36.00L138.50,35.50L138.50,34.90L137.80,35.70L138.00,34.00L137.80,33.00L136.50,34.80L135.60,34.80L135.20,34.30L134.20,32.90L132.50,32.00L131.00,31.50L129.00,31.70L127.00,32.30L125.00,32.90L123.60,33.90L121.00,33.80L119.50,34.30L118.00,35.00L116.50,35.00L115.00,34.30L115.00,33.50L115.70,33.20L115.70,31.90L115.00,30.00L114.90,29.00L114.20,27.00L113.50,26.30L113.80,25.00L113.40,24.30L113.80,23.00L113.50,22.00L114.10,21.80L115.50,21.00L116.80,20.60L118.80,20.30L121.00,19.50L122.30,18.00L122.50,16.80ZM127.30,8.30L126.50,9.00L124.50,10.20L123.50,10.30L125.00,9.00L127.30,8.30ZM142.50,3.30L144.50,3.80L146.00,5.00L147.50,6.00L147.80,6.80L147.00,7.50L148.00,8.50L149.00,9.50L150.50,10.50L149.50,10.30L147.00,10.00L146.00,8.50L144.00,7.70L143.50,9.00L142.50,9.30L141.00,9.10L139.00,8.10L138.00,8.40L137.50,7.50L138.50,6.50L138.00,5.30L136.00,4.50L134.00,3.90L133.00,4.00L132.00,2.80L133.00,2.30L132.00,2.00L131.00,1.30L132.50,0.40L134.00,0.90L135.00,3.30L137.50,1.50L140.00,2.40L142.50,3.30ZM150.50,5.50L152.00,4.20L151.50,5.00L150.00,6.20L148.50,6.00L148.50,5.50L150.50,5.50ZM128.20,3.50L128.00,3.00L130.80,3.30L130.50,3.70L128.20,3.50ZM127.50,-1.80L128.00,-2.20L128.60,-1.00L128.00,-0.50L128.70,0.60L127.60,0.30L127.50,-1.80ZM129.70,-32.80L129.80,-33.50L130.80,-33.90L131.70,-33.30L131.50,-32.00L131.00,-31.00L130.20,-31.20L130.10,-32.20L129.70,-32.80ZM132.50,-33.00L132.90,-33.90L134.00,-34.30L134.70,-34.00L134.20,-33.40L133.30,-33.30L132.80,-32.80L132.50,-33.00ZM136.80,-37.00L137.30,-37.50L137.00,-36.80L138.50,-37.50L139.50,-38.30L140.00,-39.50L140.00,-40.50L140.50,-41.20L141.40,-41.40L141.50,-40.50L142.00,-39.50L141.50,-38.30L141.00,-37.50L140.90,-36.50L140.80,-35.70L140.00,-35.00L139.70,-35.30L139.20,-35.20L138.80,-34.70L138.20,-34.60L137.00,-34.60L136.80,-34.30L136.00,-33.50L135.20,-33.80L135.30,-34.60L134.00,-34.60L132.50,-34.30L131.50,-34.00L130.90,-34.00L131.50,-34.60L132.50,-35.30L133.50,-35.50L135.00,-35.70L136.00,-35.90L136.80,-37.00ZM145.50,-43.30L143.30,-42.00L142.00,-42.50L141.20,-41.80L140.00,-41.50L140.00,-42.30L140.40,-43.20L141.50,-43.50L141.60,-45.30L142.00,-45.50L144.50,-44.00L145.50,-43.30ZM143.30,-51.50L144.20,-49.20L143.00,-49.00L143.50,-46.80L142.00,-46.00L141.90,-48.00L142.10,-50.00L141.70,-51.90L142.20,-53.60L142.70,-54.30L143.20,-53.00L143.30,-51.50Z" fill="#e4e5e4"/><path d="M-54.10,-3.80L-54.00,-5.75L-52.47,-5.18L-51.85,-4.70L-51.60,-4.20L-52.00,-3.00L-53.50,-2.30L-54.20,-2.30L-54.10,-3.80ZM34.80,-32.50L35.10,-33.20L35.60,-33.00L35.50,-31.50L34.90,-29.50L34.20,-31.30L34.80,-32.50ZM51.30,-44.50L51.53,-44.60L51.67,-42.73L51.00,-43.20L51.30,-44.50ZM-55.50,-46.90L-56.00,-47.60L-59.40,-47.70L-58.50,-48.50L-57.50,-50.30L-56.50,-51.60L-55.50,-51.50L-55.80,-50.00L-54.00,-49.50L-53.50,-48.50L-52.80,-47.50L-53.10,-46.70L-54.00,-46.80L-54.50,-47.40L-55.50,-46.90ZM-94.00,-61.50L-94.60,-60.50L-94.30,-59.50L-93.20,-58.80L-92.50,-57.50L-90.50,-57.20L-88.00,-56.50L-86.00,-55.80L-84.00,-55.30L-82.20,-55.10L-82.30,-53.00L-81.50,-52.00L-80.50,-51.30L-79.00,-51.50L-78.90,-53.00L-79.20,-54.30L-77.80,-55.30L-76.60,-56.30L-77.00,-57.50L-77.50,-59.00L-78.00,-61.00L-77.50,-62.50L-75.50,-62.30L-73.50,-62.20L-71.50,-61.20L-69.80,-60.50L-69.30,-58.80L-67.50,-58.30L-65.50,-59.50L-64.50,-60.30L-63.00,-58.50L-62.00,-57.50L-61.50,-56.30L-60.00,-55.30L-58.50,-54.50L-57.00,-54.00L-55.80,-53.00L-55.80,-52.00L-57.20,-51.50L-58.50,-51.00L-60.00,-50.20L-62.00,-50.20L-64.50,-50.30L-66.50,-50.10L-67.50,-49.30L-69.00,-48.50L-70.00,-47.80L-71.20,-46.90L-70.50,-47.10L-69.70,-47.60L-68.50,-48.40L-67.00,-49.00L-65.50,-49.20L-64.20,-48.90L-64.50,-48.50L-65.30,-47.80L-64.80,-47.00L-64.50,-46.20L-63.50,-45.80L-62.00,-45.80L-61.50,-46.30L-60.50,-47.00L-59.80,-46.30L-60.00,-45.80L-61.00,-45.30L-62.00,-45.00L-63.50,-44.60L-64.50,-44.20L-65.60,-43.50L-66.10,-44.00L-65.50,-44.60L-64.40,-45.30L-65.00,-45.50L-66.20,-45.20L-67.00,-44.80L-68.00,-44.40L-69.00,-44.10L-70.20,-43.70L-70.60,-43.10L-70.80,-42.60L-70.60,-42.00L-70.00,-42.00L-70.00,-41.60L-70.60,-41.50L-71.00,-41.50L-71.80,-41.30L-72.00,-41.00L-73.00,-40.70L-74.00,-40.60L-74.00,-40.20L-74.30,-39.50L-74.90,-38.90L-75.00,-38.80L-75.10,-38.30L-75.60,-37.50L-76.00,-36.90L-75.80,-36.20L-75.60,-35.20L-76.70,-34.70L-77.80,-34.20L-78.80,-33.80L-79.60,-33.00L-80.50,-32.30L-81.20,-31.50L-81.40,-30.50L-81.00,-29.40L-80.60,-28.30L-80.10,-27.00L-80.10,-26.20L-80.40,-25.30L-81.10,-25.20L-81.70,-25.90L-82.20,-26.70L-82.70,-27.80L-83.00,-29.00L-83.80,-29.80L-84.50,-29.90L-85.30,-29.70L-86.00,-30.30L-87.00,-30.40L-88.00,-30.50L-88.80,-30.40L-89.60,-30.10L-89.40,-29.00L-90.90,-29.10L-92.30,-29.60L-93.80,-29.70L-94.80,-29.30L-95.50,-28.80L-96.80,-28.30L-97.40,-27.50L-97.30,-26.50L-97.35,-26.00L-99.50,-27.50L-101.40,-29.80L-103.00,-29.00L-104.50,-29.60L-106.50,-31.80L-108.20,-31.80L-108.20,-31.30L-111.00,-31.30L-114.70,-32.70L-117.10,-32.50L-117.30,-33.10L-118.40,-33.90L-119.22,-34.27L-121.77,-36.40L-121.90,-36.60L-122.50,-37.50L-123.00,-38.00L-123.80,-39.70L-124.20,-41.00L-124.50,-42.80L-124.00,-44.60L-124.00,-46.20L-124.40,-47.50L-124.70,-48.40L-125.50,-48.90L-126.50,-49.60L-128.30,-50.60L-127.80,-50.90L-128.20,-51.80L-129.00,-52.80L-130.20,-53.60L-130.50,-54.30L-132.00,-54.70L-133.50,-55.30L-134.50,-56.30L-135.50,-57.20L-136.20,-58.00L-137.00,-58.40L-138.50,-59.10L-140.00,-59.70L-140.00,-70.00L-84.33,-70.00L-81.50,-69.00L-82.00,-67.00L-85.50,-67.50L-86.00,-66.60L-86.30,-66.00L-87.00,-64.90L-88.00,-64.20L-90.50,-63.60L-91.00,-62.80L-93.00,-62.20L-94.00,-61.50ZM-5.50,-54.60L-6.20,-54.00L-6.10,-53.30L-6.00,-52.20L-6.50,-52.10L-8.00,-51.80L-9.50,-51.50L-10.30,-51.90L-9.80,-52.50L-9.00,-53.20L-9.90,-53.50L-10.00,-54.20L-8.60,-54.30L-8.40,-54.80L-7.50,-55.30L-6.20,-55.20L-5.50,-54.60ZM-5.60,-56.30L-5.70,-57.50L-5.00,-58.60L-3.00,-58.60L-3.50,-57.70L-1.80,-57.60L-2.00,-57.00L-2.60,-56.00L-1.60,-55.60L-1.00,-54.50L0.00,-53.60L0.30,-53.00L1.70,-52.50L1.40,-51.20L-1.00,-50.80L-3.00,-50.70L-4.20,-50.40L-5.70,-50.10L-4.50,-51.00L-3.20,-51.40L-5.20,-51.70L-4.10,-52.50L-4.50,-53.30L-3.00,-53.40L-3.00,-54.00L-3.50,-54.90L-5.00,-54.80L-5.00,-55.70L-5.60,-56.30ZM35.00,-46.20L35.50,-45.30L34.00,-44.40L33.00,-45.30L32.50,-45.50L33.50,-46.00L31.50,-46.60L30.70,-46.50L30.00,-45.50L29.50,-45.00L28.70,-44.30L28.00,-43.30L27.90,-42.50L27.97,-41.99L26.60,-41.70L26.40,-41.00L26.24,-40.61L26.20,-40.60L25.00,-40.90L23.80,-40.70L22.90,-40.60L23.50,-39.80L22.80,-39.00L24.00,-38.20L23.00,-37.90L23.00,-36.50L22.50,-36.40L21.70,-36.90L21.30,-37.60L21.50,-38.30L20.80,-39.00L20.00,-39.70L19.40,-40.50L19.50,-41.80L18.80,-42.30L17.50,-43.00L16.00,-43.50L15.00,-44.50L14.50,-45.20L13.70,-45.10L13.80,-45.60L12.30,-45.40L12.50,-44.50L13.50,-43.60L14.50,-42.20L16.00,-41.50L17.50,-40.80L18.50,-40.10L17.20,-40.40L16.50,-39.50L17.10,-39.00L16.10,-38.00L15.60,-38.20L16.00,-39.50L15.50,-40.10L14.50,-40.60L13.50,-41.20L12.00,-42.00L10.50,-43.00L10.00,-44.00L8.90,-44.40L7.50,-43.80L6.50,-43.10L5.00,-43.40L4.00,-43.50L3.00,-43.00L3.20,-41.90L2.20,-41.40L0.80,-41.00L0.00,-39.80L-0.30,-39.50L0.20,-38.70L-0.70,-37.60L-1.73,-36.88L-2.50,-36.70L-4.40,-36.70L-5.58,-36.01L-5.61,-36.01L-6.30,-36.50L-7.40,-37.20L-8.90,-37.00L-8.80,-38.50L-9.50,-38.80L-9.00,-39.80L-8.70,-41.00L-8.90,-42.00L-9.30,-43.00L-8.00,-43.70L-5.80,-43.60L-3.80,-43.50L-1.80,-43.40L-1.40,-44.50L-1.20,-46.00L-2.20,-47.10L-4.40,-47.90L-4.70,-48.50L-3.00,-48.80L-1.60,-48.60L-1.40,-49.70L-0.20,-49.30L1.30,-50.00L1.60,-50.90L2.50,-51.10L3.40,-51.40L4.20,-52.00L4.80,-53.00L6.00,-53.50L7.20,-53.50L8.60,-53.90L8.90,-54.80L8.20,-55.50L8.10,-56.80L10.50,-57.70L10.30,-56.50L10.90,-56.30L10.00,-55.00L10.90,-54.40L12.00,-54.20L13.80,-54.10L14.50,-53.90L16.50,-54.50L18.50,-54.80L19.50,-54.40L21.20,-55.20L21.10,-56.00L21.00,-57.00L22.50,-57.60L24.30,-57.00L23.50,-58.50L24.00,-59.30L25.50,-59.60L28.00,-59.50L30.20,-59.90L29.00,-60.20L26.50,-60.40L23.00,-59.90L21.50,-60.80L21.50,-62.00L22.50,-63.50L24.50,-64.80L25.40,-65.10L24.60,-65.70L22.00,-65.70L21.50,-64.50L20.50,-63.80L18.50,-62.80L17.40,-61.60L17.20,-60.80L18.80,-60.00L18.50,-59.30L16.50,-58.40L16.60,-57.00L16.00,-56.20L14.50,-56.00L12.90,-55.40L12.60,-56.20L11.90,-57.70L11.20,-59.00L10.50,-59.50L9.50,-59.00L8.00,-58.10L6.60,-58.10L5.60,-58.80L5.20,-60.00L5.00,-61.50L5.50,-62.30L7.00,-62.90L8.50,-63.50L10.00,-64.00L11.50,-65.00L12.50,-66.20L13.50,-67.50L15.00,-69.00L18.33,-70.00L32.50,-70.00L35.00,-69.50L41.00,-67.80L41.20,-66.80L40.20,-66.40L38.50,-66.10L36.00,-66.50L34.50,-66.60L33.50,-66.30L34.80,-65.00L34.60,-64.50L36.00,-63.90L37.50,-64.30L37.00,-64.80L36.50,-65.00L37.80,-65.10L39.00,-64.60L40.50,-64.60L40.20,-65.30L39.80,-65.70L41.00,-66.10L42.00,-66.50L44.20,-65.90L44.50,-66.80L45.00,-68.00L55.00,-69.00L60.00,-70.00L180.50,-70.00L180.50,-65.30L179.00,-62.50L177.00,-62.50L174.00,-61.80L172.00,-61.00L170.30,-60.00L166.00,-60.30L164.00,-59.80L163.30,-58.50L162.00,-57.50L163.00,-56.00L162.00,-55.00L160.00,-54.00L158.70,-53.00L157.00,-51.50L156.50,-52.50L156.00,-54.00L156.00,-56.00L157.00,-57.80L159.00,-58.80L160.50,-60.50L162.00,-61.50L163.50,-62.50L161.00,-61.80L158.00,-61.80L156.50,-61.50L154.00,-59.20L151.00,-59.00L150.80,-59.60L148.00,-59.30L145.00,-59.40L142.00,-59.00L140.50,-58.00L138.00,-56.50L137.00,-55.00L136.00,-54.50L139.00,-54.20L140.50,-53.50L141.40,-52.50L141.00,-51.00L140.50,-49.00L140.00,-48.00L138.50,-47.00L137.50,-45.80L135.50,-44.00L133.00,-42.70L131.90,-43.10L130.70,-42.40L130.60,-42.30L131.00,-42.90L131.50,-44.80L133.00,-45.00L134.00,-45.50L135.00,-47.50L134.50,-48.20L133.00,-48.20L131.00,-47.70L130.00,-48.80L127.50,-50.00L126.00,-52.80L123.50,-53.50L120.50,-53.30L119.50,-52.50L117.80,-49.50L116.50,-49.80L114.00,-50.20L111.00,-49.50L108.50,-49.30L107.00,-50.00L103.50,-50.30L102.00,-51.50L98.00,-52.30L98.00,-51.00L95.00,-50.00L92.00,-50.50L90.00,-50.30L87.50,-49.20L85.00,-49.50L83.00,-51.00L80.00,-51.00L77.00,-53.50L76.00,-54.20L73.50,-54.00L69.00,-55.30L65.00,-54.50L60.00,-54.00L61.00,-52.50L61.00,-50.80L56.00,-51.00L53.00,-51.50L48.80,-51.00L47.50,-50.50L50.50,-48.50L50.00,-47.50L50.39,-46.85L49.00,-46.50L47.50,-45.50L46.80,-44.50L47.50,-43.00L48.60,-41.80L48.00,-41.80L46.50,-41.80L44.80,-42.80L42.50,-43.50L41.60,-42.50L40.00,-43.40L38.50,-44.50L37.00,-45.00L38.00,-46.50L39.20,-47.20L37.00,-46.80L35.00,-46.20ZM-82.50,-63.20L-84.50,-62.80L-86.50,-63.50L-86.50,-64.00L-85.50,-65.20L-83.50,-65.50L-83.00,-64.20L-81.00,-63.80L-82.50,-63.20ZM-18.00,-66.20L-15.00,-66.30L-13.50,-65.30L-14.50,-64.40L-18.00,-63.40L-20.50,-63.70L-22.00,-64.00L-24.00,-65.50L-22.50,-66.40L-18.00,-66.20ZM-77.50,-64.30L-78.00,-65.00L-74.00,-66.00L-73.00,-66.80L-74.00,-70.00L-62.00,-70.00L-61.90,-66.60L-62.50,-66.00L-63.50,-65.00L-64.80,-63.50L-65.00,-62.60L-66.50,-61.90L-68.00,-62.30L-70.50,-62.70L-71.50,-63.50L-73.00,-64.30L-75.00,-64.60L-77.50,-64.30ZM-46.50,-60.50L-48.50,-61.20L-50.00,-62.50L-51.50,-64.00L-52.00,-65.00L-53.00,-66.00L-53.50,-66.80L-55.00,-70.00L-40.00,-70.00L-40.00,-64.43L-40.50,-64.00L-41.50,-63.00L-42.50,-61.50L-43.00,-60.20L-43.90,-59.80L-45.00,-60.00L-46.50,-60.50ZM-30.00,-70.00L-27.14,-70.00L-30.00,-68.00L-30.00,-70.00ZM170.60,45.90L169.30,46.60L166.50,46.00L166.80,45.30L168.30,44.00L170.50,43.00L171.50,41.80L172.10,40.90L172.70,40.50L174.30,41.40L174.00,42.00L173.00,43.00L172.70,43.80L171.20,44.50L170.60,45.90ZM146.00,43.50L145.20,42.20L144.60,40.70L146.50,41.10L148.30,40.90L148.30,42.20L147.90,43.20L146.90,43.60L146.00,43.50ZM177.50,37.90L178.50,37.70L178.00,39.00L177.00,39.30L176.80,40.30L175.30,41.60L174.60,41.30L175.00,40.00L173.80,39.30L174.60,38.80L174.70,37.50L174.30,36.50L172.70,34.40L174.00,35.20L174.80,36.80L175.50,37.00L176.00,37.60L177.50,37.90ZM122.30,18.00L122.50,16.80L123.50,16.50L124.50,15.80L125.50,14.50L126.80,13.80L128.00,14.80L129.50,14.90L130.20,13.30L130.80,12.40L132.00,11.50L132.60,12.00L134.00,11.90L135.50,12.20L136.80,12.20L136.50,13.30L135.50,14.50L135.50,15.00L137.00,16.00L138.50,16.80L140.00,17.50L140.80,17.40L141.50,15.50L141.60,13.00L142.00,11.00L142.50,10.70L143.50,12.50L143.50,14.00L144.50,14.30L145.30,15.00L145.50,16.50L146.20,18.50L147.50,19.50L149.00,21.00L150.50,22.50L151.00,23.50L152.50,25.00L153.10,26.50L153.60,28.50L153.00,30.50L152.50,32.00L151.30,33.80L150.80,34.80L150.00,36.50L149.90,37.50L148.00,37.80L146.50,38.80L145.00,38.30L144.50,38.20L143.50,38.80L142.00,38.30L140.50,38.00L139.50,37.00L139.80,36.00L138.50,35.50L138.50,34.90L137.80,35.70L138.00,34.00L137.80,33.00L136.50,34.80L135.60,34.80L135.20,34.30L134.20,32.90L132.50,32.00L131.00,31.50L129.00,31.70L127.00,32.30L125.00,32.90L123.60,33.90L121.00,33.80L119.50,34.30L118.00,35.00L116.50,35.00L115.00,34.30L115.00,33.50L115.70,33.20L115.70,31.90L115.00,30.00L114.90,29.00L114.20,27.00L113.50,26.30L113.80,25.00L113.40,24.30L113.80,23.00L113.50,22.00L114.10,21.80L115.50,21.00L116.80,20.60L118.80,20.30L121.00,19.50L122.30,18.00ZM130.10,-32.20L129.70,-32.80L129.80,-33.50L130.80,-33.90L131.70,-33.30L131.50,-32.00L131.00,-31.00L130.20,-31.20L130.10,-32.20ZM133.30,-33.30L132.80,-32.80L132.50,-33.00L132.90,-33.90L134.00,-34.30L134.70,-34.00L134.20,-33.40L133.30,-33.30ZM126.50,-35.50L126.80,-36.50L126.60,-37.40L126.20,-37.80L127.00,-38.30L128.29,-38.60L128.50,-38.30L129.40,-37.00L129.50,-35.50L129.00,-35.10L127.80,-34.80L126.50,-34.40L126.50,-35.50ZM136.80,-37.00L137.30,-37.50L137.00,-36.80L138.50,-37.50L139.50,-38.30L140.00,-39.50L140.00,-40.00L140.00,-40.50L140.50,-41.20L141.40,-41.40L141.47,-40.74L141.47,-40.74L141.50,-40.50L142.00,-39.50L141.50,-38.30L141.00,-37.50L140.90,-36.50L140.80,-35.70L140.00,-35.00L139.70,-35.30L139.20,-35.20L138.80,-34.70L138.20,-34.60L137.00,-34.60L136.80,-34.30L136.00,-33.50L135.20,-33.80L135.30,-34.60L134.00,-34.60L132.50,-34.30L131.50,-34.00L130.90,-34.00L131.50,-34.60L132.50,-35.30L133.50,-35.50L135.00,-35.70L136.00,-35.90L136.80,-37.00ZM144.50,-44.00L145.50,-43.30L143.30,-42.00L142.00,-42.50L141.20,-41.80L140.00,-41.50L140.00,-42.30L140.40,-43.20L141.50,-43.50L141.60,-45.30L142.00,-45.50L144.50,-44.00ZM142.10,-50.00L141.70,-51.90L142.20,-53.60L142.70,-54.30L143.20,-53.00L143.30,-51.50L144.20,-49.20L143.00,-49.00L143.50,-46.80L142.00,-46.00L141.90,-48.00L142.10,-50.00Z" fill="#dfd0d4"/><path d="M46.80,-44.50L47.50,-45.50L49.00,-46.50L51.00,-47.00L53.00,-46.80L53.20,-45.30L51.30,-44.50L51.00,-43.20L52.70,-42.00L53.00,-41.00L54.00,-40.00L53.80,-38.00L53.90,-37.00L51.50,-36.80L50.00,-37.40L49.00,-38.20L49.30,-39.50L49.50,-40.50L48.50,-41.80L47.50,-43.00L46.80,-44.50Z" fill="#eadcdf"/></g><path d="M58.58 392.70V566.20M148.94 392.70V566.20M239.30 392.70V566.20M329.66 392.70V566.20M420.02 392.70V566.20M31.50 552.82H510.80M31.50 522.76H510.80M31.50 492.70H510.80M31.50 462.64H510.80M31.50 432.58H510.80M31.50 402.52H510.80" stroke="#b0b0b0" stroke-opacity="0.38" stroke-width="0.6" stroke-dasharray="1.8 1.1" fill="none"/><g stroke="#333" stroke-width="0.55"><circle cx="68.3" cy="411.9" r="1.8" fill="#fbe3d5"/><circle cx="67.3" cy="416.0" r="1.8" fill="#fbe3d5"/><circle cx="78.5" cy="414.1" r="1.8" fill="#f09b7a"/><circle cx="81.8" cy="416.7" r="1.8" fill="#fbe3d5"/><circle cx="92.8" cy="417.3" r="1.8" fill="#fbe3d5"/><circle cx="92.8" cy="420.6" r="1.8" fill="#dceaf2"/><circle cx="54.3" cy="418.5" r="1.8" fill="#fbe3d5"/><circle cx="59.4" cy="417.3" r="1.8" fill="#f09b7a"/><circle cx="62.7" cy="420.6" r="1.8" fill="#f09b7a"/><circle cx="57.8" cy="422.4" r="1.8" fill="#f09b7a"/><circle cx="60.1" cy="423.1" r="1.8" fill="#f09b7a"/><circle cx="54.3" cy="421.6" r="1.8" fill="#f09b7a"/><circle cx="54.0" cy="425.7" r="1.8" fill="#f09b7a"/><circle cx="64.2" cy="426.9" r="1.8" fill="#f09b7a"/><circle cx="76.0" cy="423.6" r="1.8" fill="#f09b7a"/><circle cx="70.9" cy="431.3" r="1.8" fill="#fbe3d5"/><circle cx="81.1" cy="431.6" r="1.8" fill="#fbe3d5"/><circle cx="81.3" cy="434.3" r="1.8" fill="#dceaf2"/><circle cx="55.0" cy="431.6" r="1.8" fill="#f09b7a"/><circle cx="59.1" cy="433.3" r="1.8" fill="#dceaf2"/><circle cx="54.5" cy="434.9" r="1.8" fill="#67001f"/><circle cx="56.5" cy="436.7" r="1.8" fill="#67001f"/><circle cx="58.6" cy="438.4" r="1.8" fill="#67001f"/><circle cx="65.7" cy="437.9" r="1.8" fill="#dceaf2"/><circle cx="61.1" cy="440.5" r="1.8" fill="#fbe3d5"/><circle cx="60.1" cy="439.5" r="1.8" fill="#67001f"/><circle cx="63.7" cy="443.5" r="1.8" fill="#f09b7a"/><circle cx="65.7" cy="443.0" r="1.8" fill="#67001f"/><circle cx="70.9" cy="442.0" r="1.8" fill="#fbe3d5"/><circle cx="72.4" cy="444.1" r="1.8" fill="#fbe3d5"/><circle cx="79.0" cy="440.0" r="1.8" fill="#f09b7a"/><circle cx="79.0" cy="444.9" r="1.8" fill="#f09b7a"/><circle cx="71.9" cy="449.0" r="1.8" fill="#fbe3d5"/><circle cx="79.5" cy="449.2" r="1.8" fill="#fbe3d5"/><circle cx="86.2" cy="439.5" r="1.8" fill="#fbe3d5"/><circle cx="85.7" cy="444.6" r="1.8" fill="#fbe3d5"/><circle cx="83.6" cy="454.3" r="1.8" fill="#fbe3d5"/><circle cx="87.2" cy="454.3" r="1.8" fill="#dceaf2"/><circle cx="88.7" cy="453.8" r="1.8" fill="#c1373a"/><circle cx="91.3" cy="453.2" r="1.8" fill="#fbe3d5"/><circle cx="83.6" cy="459.9" r="1.8" fill="#dceaf2"/><circle cx="87.2" cy="459.9" r="1.8" fill="#dceaf2"/><circle cx="89.8" cy="461.4" r="1.8" fill="#dceaf2"/><circle cx="79.6" cy="449.9" r="1.8" fill="#dceaf2"/><circle cx="92.1" cy="452.5" r="1.8" fill="#dceaf2"/><circle cx="95.4" cy="449.9" r="1.8" fill="#fbe3d5"/><circle cx="83.5" cy="461.3" r="1.8" fill="#dceaf2"/><circle cx="87.1" cy="459.1" r="1.8" fill="#dceaf2"/><circle cx="88.1" cy="461.7" r="1.8" fill="#dceaf2"/><circle cx="90.5" cy="462.3" r="1.8" fill="#dceaf2"/><circle cx="90.5" cy="464.3" r="1.8" fill="#dceaf2"/><circle cx="94.7" cy="463.7" r="1.8" fill="#fbe3d5"/><circle cx="104.2" cy="460.8" r="1.8" fill="#dceaf2"/><circle cx="115.1" cy="457.7" r="1.8" fill="#dceaf2"/><circle cx="123.6" cy="465.2" r="1.8" fill="#dceaf2"/><circle cx="130.2" cy="464.3" r="1.8" fill="#dceaf2"/><circle cx="134.1" cy="465.0" r="1.8" fill="#fbe3d5"/><circle cx="139.8" cy="465.0" r="1.8" fill="#fbe3d5"/><circle cx="102.6" cy="470.2" r="1.8" fill="#dceaf2"/><circle cx="105.2" cy="472.2" r="1.8" fill="#dceaf2"/><circle cx="112.4" cy="477.4" r="1.8" fill="#dceaf2"/><circle cx="119.7" cy="478.8" r="1.8" fill="#dceaf2"/><circle cx="126.9" cy="476.1" r="1.8" fill="#dceaf2"/><circle cx="131.5" cy="476.5" r="1.8" fill="#dceaf2"/><circle cx="134.8" cy="477.4" r="1.8" fill="#f09b7a"/><circle cx="138.1" cy="477.1" r="1.8" fill="#dceaf2"/><circle cx="125.6" cy="483.1" r="1.8" fill="#fbe3d5"/><circle cx="128.2" cy="485.3" r="1.8" fill="#fbe3d5"/><circle cx="124.3" cy="487.6" r="1.8" fill="#f09b7a"/><circle cx="126.9" cy="487.6" r="1.8" fill="#fbe3d5"/><circle cx="121.0" cy="492.6" r="1.8" fill="#fbe3d5"/><circle cx="118.8" cy="496.1" r="1.8" fill="#dceaf2"/><circle cx="148.8" cy="497.1" r="1.8" fill="#dceaf2"/><circle cx="166.3" cy="494.6" r="1.8" fill="#fbe3d5"/><circle cx="174.8" cy="500.2" r="1.8" fill="#fbe3d5"/><circle cx="181.1" cy="498.1" r="1.8" fill="#fbe3d5"/><circle cx="143.0" cy="505.8" r="1.8" fill="#fbe3d5"/><circle cx="178.0" cy="507.0" r="1.8" fill="#fbe3d5"/><circle cx="181.5" cy="512.1" r="1.8" fill="#fbe3d5"/><circle cx="123.5" cy="510.7" r="1.8" fill="#dceaf2"/><circle cx="131.6" cy="517.1" r="1.8" fill="#dceaf2"/><circle cx="136.5" cy="517.1" r="1.8" fill="#dceaf2"/><circle cx="139.7" cy="518.9" r="1.8" fill="#dceaf2"/><circle cx="144.4" cy="519.3" r="1.8" fill="#fbe3d5"/><circle cx="155.0" cy="516.0" r="1.8" fill="#fbe3d5"/><circle cx="164.8" cy="517.5" r="1.8" fill="#fbe3d5"/><circle cx="167.1" cy="516.3" r="1.8" fill="#fbe3d5"/><circle cx="166.9" cy="521.0" r="1.8" fill="#fbe3d5"/><circle cx="157.2" cy="523.3" r="1.8" fill="#dceaf2"/><circle cx="167.5" cy="524.2" r="1.8" fill="#fbe3d5"/><circle cx="173.0" cy="522.4" r="1.8" fill="#fbe3d5"/><circle cx="178.8" cy="523.0" r="1.8" fill="#fbe3d5"/><circle cx="161.6" cy="527.7" r="1.8" fill="#fbe3d5"/><circle cx="168.1" cy="527.7" r="1.8" fill="#f09b7a"/><circle cx="169.8" cy="527.7" r="1.8" fill="#f09b7a"/><circle cx="174.5" cy="526.8" r="1.8" fill="#f09b7a"/><circle cx="152.3" cy="530.6" r="1.8" fill="#fbe3d5"/><circle cx="165.7" cy="531.7" r="1.8" fill="#fbe3d5"/><circle cx="164.6" cy="535.3" r="1.8" fill="#fbe3d5"/><circle cx="162.2" cy="537.0" r="1.8" fill="#fbe3d5"/><circle cx="141.0" cy="532.9" r="1.8" fill="#f09b7a"/><circle cx="142.6" cy="539.9" r="1.8" fill="#fbe3d5"/><circle cx="136.0" cy="539.9" r="1.8" fill="#dceaf2"/><circle cx="135.6" cy="542.3" r="1.8" fill="#fbe3d5"/><circle cx="131.6" cy="542.3" r="1.8" fill="#fbe3d5"/><circle cx="133.0" cy="543.4" r="1.8" fill="#c1373a"/><circle cx="148.0" cy="542.0" r="1.8" fill="#f09b7a"/><circle cx="151.5" cy="544.8" r="1.8" fill="#c1373a"/><circle cx="155.0" cy="544.9" r="1.8" fill="#fbe3d5"/><circle cx="117.6" cy="422.5" r="1.8" fill="#dceaf2"/><circle cx="125.2" cy="423.9" r="1.8" fill="#fbe3d5"/><circle cx="128.3" cy="423.7" r="1.8" fill="#fbe3d5"/><circle cx="132.0" cy="421.9" r="1.8" fill="#dceaf2"/><circle cx="247.3" cy="401.6" r="1.8" fill="#fbe3d5"/><circle cx="255.5" cy="402.3" r="1.8" fill="#fbe3d5"/><circle cx="266.3" cy="403.0" r="1.8" fill="#fbe3d5"/><circle cx="276.9" cy="401.9" r="1.8" fill="#f09b7a"/><circle cx="284.1" cy="402.5" r="1.8" fill="#fbe3d5"/><circle cx="257.6" cy="405.8" r="1.8" fill="#f09b7a"/><circle cx="258.1" cy="408.9" r="1.8" fill="#f09b7a"/><circle cx="275.6" cy="406.9" r="1.8" fill="#fbe3d5"/><circle cx="230.3" cy="409.8" r="1.8" fill="#fbe3d5"/><circle cx="229.8" cy="412.4" r="1.8" fill="#fbe3d5"/><circle cx="233.8" cy="408.0" r="1.8" fill="#fbe3d5"/><circle cx="235.1" cy="409.8" r="1.8" fill="#fbe3d5"/><circle cx="237.3" cy="409.3" r="1.8" fill="#fbe3d5"/><circle cx="237.3" cy="412.0" r="1.8" fill="#fbe3d5"/><circle cx="234.6" cy="412.4" r="1.8" fill="#fbe3d5"/><circle cx="235.5" cy="415.0" r="1.8" fill="#fbe3d5"/><circle cx="240.1" cy="414.8" r="1.8" fill="#fbe3d5"/><circle cx="243.0" cy="416.8" r="1.8" fill="#f09b7a"/><circle cx="241.2" cy="418.1" r="1.8" fill="#f09b7a"/><circle cx="242.1" cy="420.3" r="1.8" fill="#f09b7a"/><circle cx="246.0" cy="413.7" r="1.8" fill="#f09b7a"/><circle cx="246.0" cy="416.2" r="1.8" fill="#f09b7a"/><circle cx="249.1" cy="415.0" r="1.8" fill="#f09b7a"/><circle cx="249.1" cy="417.7" r="1.8" fill="#fbe3d5"/><circle cx="251.7" cy="412.8" r="1.8" fill="#f09b7a"/><circle cx="254.3" cy="412.0" r="1.8" fill="#f09b7a"/><circle cx="253.9" cy="414.2" r="1.8" fill="#f09b7a"/><circle cx="252.6" cy="417.2" r="1.8" fill="#f09b7a"/><circle cx="252.2" cy="419.8" r="1.8" fill="#f09b7a"/><circle cx="256.1" cy="418.1" r="1.8" fill="#f09b7a"/><circle cx="256.5" cy="420.3" r="1.8" fill="#f09b7a"/><circle cx="259.2" cy="413.3" r="1.8" fill="#fbe3d5"/><circle cx="260.9" cy="416.8" r="1.8" fill="#f09b7a"/><circle cx="257.8" cy="415.0" r="1.8" fill="#fbe3d5"/><circle cx="264.4" cy="413.7" r="1.8" fill="#fbe3d5"/><circle cx="267.0" cy="410.7" r="1.8" fill="#fbe3d5"/><circle cx="270.1" cy="410.2" r="1.8" fill="#fbe3d5"/><circle cx="267.9" cy="414.6" r="1.8" fill="#f09b7a"/><circle cx="271.0" cy="414.2" r="1.8" fill="#f09b7a"/><circle cx="269.2" cy="416.8" r="1.8" fill="#c1373a"/><circle cx="274.5" cy="412.4" r="1.8" fill="#fbe3d5"/><circle cx="275.1" cy="414.2" r="1.8" fill="#fbe3d5"/><circle cx="275.6" cy="417.2" r="1.8" fill="#fbe3d5"/><circle cx="264.9" cy="419.8" r="1.8" fill="#f09b7a"/><circle cx="267.9" cy="421.2" r="1.8" fill="#fbe3d5"/><circle cx="280.6" cy="411.5" r="1.8" fill="#fbe3d5"/><circle cx="284.6" cy="416.8" r="1.8" fill="#f09b7a"/><circle cx="236.8" cy="421.4" r="1.8" fill="#fbe3d5"/><circle cx="238.6" cy="424.7" r="1.8" fill="#f09b7a"/><circle cx="241.6" cy="426.9" r="1.8" fill="#f09b7a"/><circle cx="243.8" cy="423.8" r="1.8" fill="#f09b7a"/><circle cx="246.9" cy="424.2" r="1.8" fill="#f09b7a"/><circle cx="247.8" cy="426.4" r="1.8" fill="#fbe3d5"/><circle cx="250.4" cy="425.1" r="1.8" fill="#f09b7a"/><circle cx="244.7" cy="426.9" r="1.8" fill="#fbe3d5"/><circle cx="247.3" cy="427.3" r="1.8" fill="#fbe3d5"/><circle cx="253.9" cy="424.1" r="1.8" fill="#fbe3d5"/><circle cx="257.4" cy="424.2" r="1.8" fill="#fbe3d5"/><circle cx="256.1" cy="426.9" r="1.8" fill="#f09b7a"/><circle cx="263.1" cy="423.8" r="1.8" fill="#f09b7a"/><circle cx="270.1" cy="425.1" r="1.8" fill="#f09b7a"/><circle cx="278.4" cy="425.8" r="1.8" fill="#fbe3d5"/><circle cx="282.8" cy="422.0" r="1.8" fill="#fbe3d5"/><circle cx="234.6" cy="427.3" r="1.8" fill="#fbe3d5"/><circle cx="238.1" cy="427.7" r="1.8" fill="#fbe3d5"/><circle cx="232.0" cy="429.9" r="1.8" fill="#f09b7a"/><circle cx="226.8" cy="429.9" r="1.8" fill="#fbe3d5"/><circle cx="225.9" cy="434.3" r="1.8" fill="#67001f"/><circle cx="230.3" cy="436.3" r="1.8" fill="#c1373a"/><circle cx="232.9" cy="437.2" r="1.8" fill="#fbe3d5"/><circle cx="234.2" cy="432.1" r="1.8" fill="#fbe3d5"/><circle cx="237.7" cy="429.9" r="1.8" fill="#fbe3d5"/><circle cx="238.6" cy="433.9" r="1.8" fill="#dceaf2"/><circle cx="238.6" cy="437.4" r="1.8" fill="#dceaf2"/><circle cx="242.1" cy="430.4" r="1.8" fill="#fbe3d5"/><circle cx="244.3" cy="437.4" r="1.8" fill="#dceaf2"/><circle cx="251.3" cy="436.9" r="1.8" fill="#dceaf2"/><circle cx="253.0" cy="433.4" r="1.8" fill="#fbe3d5"/><circle cx="254.8" cy="436.9" r="1.8" fill="#fbe3d5"/><circle cx="255.2" cy="440.0" r="1.8" fill="#dceaf2"/><circle cx="258.3" cy="429.9" r="1.8" fill="#fbe3d5"/><circle cx="258.7" cy="435.2" r="1.8" fill="#fbe3d5"/><circle cx="260.9" cy="428.6" r="1.8" fill="#fbe3d5"/><circle cx="260.9" cy="431.2" r="1.8" fill="#fbe3d5"/><circle cx="261.8" cy="436.1" r="1.8" fill="#dceaf2"/><circle cx="260.9" cy="438.2" r="1.8" fill="#f09b7a"/><circle cx="264.9" cy="430.8" r="1.8" fill="#fbe3d5"/><circle cx="259.2" cy="443.1" r="1.8" fill="#fbe3d5"/><circle cx="261.8" cy="443.9" r="1.8" fill="#dceaf2"/><circle cx="269.7" cy="443.9" r="1.8" fill="#dceaf2"/><circle cx="271.4" cy="429.0" r="1.8" fill="#fbe3d5"/><circle cx="274.5" cy="428.2" r="1.8" fill="#fbe3d5"/><circle cx="273.9" cy="431.2" r="1.8" fill="#fbe3d5"/><circle cx="274.9" cy="435.2" r="1.8" fill="#dceaf2"/><circle cx="280.2" cy="434.7" r="1.8" fill="#fbe3d5"/><circle cx="282.8" cy="430.8" r="1.8" fill="#c1373a"/><circle cx="283.2" cy="436.5" r="1.8" fill="#fbe3d5"/><circle cx="228.5" cy="441.7" r="1.8" fill="#dceaf2"/><circle cx="227.6" cy="444.4" r="1.8" fill="#fbe3d5"/><circle cx="296.0" cy="408.5" r="1.8" fill="#fbe3d5"/><circle cx="296.0" cy="411.1" r="1.8" fill="#dceaf2"/><circle cx="299.1" cy="410.2" r="1.8" fill="#f09b7a"/><circle cx="301.7" cy="412.8" r="1.8" fill="#fbe3d5"/><circle cx="298.6" cy="414.6" r="1.8" fill="#f09b7a"/><circle cx="305.2" cy="408.0" r="1.8" fill="#fbe3d5"/><circle cx="313.1" cy="408.5" r="1.8" fill="#fbe3d5"/><circle cx="317.9" cy="408.9" r="1.8" fill="#fbe3d5"/><circle cx="314.8" cy="412.4" r="1.8" fill="#fbe3d5"/><circle cx="308.7" cy="415.0" r="1.8" fill="#fbe3d5"/><circle cx="324.0" cy="405.0" r="1.8" fill="#fbe3d5"/><circle cx="323.9" cy="410.0" r="1.8" fill="#fbe3d5"/><circle cx="330.6" cy="406.7" r="1.8" fill="#fbe3d5"/><circle cx="331.9" cy="409.3" r="1.8" fill="#fbe3d5"/><circle cx="328.2" cy="412.1" r="1.8" fill="#f09b7a"/><circle cx="327.5" cy="415.0" r="1.8" fill="#fbe3d5"/><circle cx="325.4" cy="416.8" r="1.8" fill="#fbe3d5"/><circle cx="293.8" cy="417.2" r="1.8" fill="#fbe3d5"/><circle cx="289.9" cy="420.3" r="1.8" fill="#fbe3d5"/><circle cx="292.5" cy="419.8" r="1.8" fill="#fbe3d5"/><circle cx="296.0" cy="421.6" r="1.8" fill="#fbe3d5"/><circle cx="299.1" cy="421.6" r="1.8" fill="#fbe3d5"/><circle cx="298.2" cy="424.7" r="1.8" fill="#fbe3d5"/><circle cx="302.6" cy="424.7" r="1.8" fill="#dceaf2"/><circle cx="306.5" cy="419.4" r="1.8" fill="#fbe3d5"/><circle cx="317.5" cy="421.6" r="1.8" fill="#fbe3d5"/><circle cx="285.9" cy="422.5" r="1.8" fill="#fbe3d5"/><circle cx="289.9" cy="425.1" r="1.8" fill="#dceaf2"/><circle cx="307.0" cy="427.3" r="1.8" fill="#fbe3d5"/><circle cx="307.0" cy="429.9" r="1.8" fill="#fbe3d5"/><circle cx="310.9" cy="428.2" r="1.8" fill="#fbe3d5"/><circle cx="306.1" cy="432.1" r="1.8" fill="#dceaf2"/><circle cx="314.4" cy="431.7" r="1.8" fill="#dceaf2"/><circle cx="289.0" cy="432.1" r="1.8" fill="#dceaf2"/><circle cx="285.9" cy="436.9" r="1.8" fill="#fbe3d5"/><circle cx="288.6" cy="435.6" r="1.8" fill="#fbe3d5"/><circle cx="292.5" cy="436.9" r="1.8" fill="#f09b7a"/><circle cx="296.0" cy="436.9" r="1.8" fill="#dceaf2"/><circle cx="300.0" cy="435.6" r="1.8" fill="#fbe3d5"/><circle cx="289.9" cy="439.6" r="1.8" fill="#fbe3d5"/><circle cx="293.0" cy="441.7" r="1.8" fill="#c1373a"/><circle cx="292.5" cy="443.5" r="1.8" fill="#dceaf2"/><circle cx="294.3" cy="442.2" r="1.8" fill="#dceaf2"/><circle cx="304.3" cy="436.9" r="1.8" fill="#fbe3d5"/><circle cx="307.8" cy="439.1" r="1.8" fill="#fbe3d5"/><circle cx="306.1" cy="442.2" r="1.8" fill="#f09b7a"/><circle cx="308.3" cy="443.9" r="1.8" fill="#dceaf2"/><circle cx="311.8" cy="444.8" r="1.8" fill="#fbe3d5"/><circle cx="316.6" cy="438.9" r="1.8" fill="#c1373a"/><circle cx="317.0" cy="443.5" r="1.8" fill="#fbe3d5"/><circle cx="327.1" cy="435.2" r="1.8" fill="#fbe3d5"/><circle cx="329.3" cy="438.1" r="1.8" fill="#fbe3d5"/><circle cx="340.2" cy="433.0" r="1.8" fill="#dceaf2"/><circle cx="284.6" cy="445.3" r="1.8" fill="#dceaf2"/><circle cx="349.8" cy="400.1" r="1.8" fill="#dceaf2"/><circle cx="349.8" cy="409.8" r="1.8" fill="#fbe3d5"/><circle cx="347.0" cy="415.5" r="1.8" fill="#fbe3d5"/><circle cx="352.7" cy="415.0" r="1.8" fill="#fbe3d5"/><circle cx="355.3" cy="413.7" r="1.8" fill="#fbe3d5"/><circle cx="364.1" cy="409.3" r="1.8" fill="#fbe3d5"/><circle cx="365.8" cy="412.4" r="1.8" fill="#fbe3d5"/><circle cx="360.1" cy="416.8" r="1.8" fill="#dceaf2"/><circle cx="363.8" cy="417.4" r="1.8" fill="#f09b7a"/><circle cx="379.2" cy="408.0" r="1.8" fill="#fbe3d5"/><circle cx="396.5" cy="413.7" r="1.8" fill="#fbe3d5"/><circle cx="399.6" cy="420.3" r="1.8" fill="#dceaf2"/><circle cx="367.3" cy="424.1" r="1.8" fill="#87beda"/><circle cx="368.9" cy="426.4" r="1.8" fill="#fbe3d5"/><circle cx="371.1" cy="426.4" r="1.8" fill="#fbe3d5"/><circle cx="361.9" cy="426.4" r="1.8" fill="#fbe3d5"/><circle cx="355.3" cy="427.3" r="1.8" fill="#f09b7a"/><circle cx="351.8" cy="428.2" r="1.8" fill="#fbe3d5"/><circle cx="347.0" cy="427.7" r="1.8" fill="#dceaf2"/><circle cx="343.5" cy="429.9" r="1.8" fill="#fbe3d5"/><circle cx="348.1" cy="431.2" r="1.8" fill="#fbe3d5"/><circle cx="343.1" cy="434.3" r="1.8" fill="#dceaf2"/><circle cx="353.8" cy="433.0" r="1.8" fill="#fbe3d5"/><circle cx="360.3" cy="430.4" r="1.8" fill="#fbe3d5"/><circle cx="359.7" cy="436.7" r="1.8" fill="#fbe3d5"/><circle cx="392.6" cy="437.4" r="1.8" fill="#fbe3d5"/><circle cx="395.9" cy="438.2" r="1.8" fill="#fbe3d5"/><circle cx="399.1" cy="433.0" r="1.8" fill="#dceaf2"/><circle cx="347.0" cy="441.3" r="1.8" fill="#fbe3d5"/><circle cx="349.6" cy="441.7" r="1.8" fill="#fbe3d5"/><circle cx="348.8" cy="444.8" r="1.8" fill="#fbe3d5"/><circle cx="351.4" cy="444.4" r="1.8" fill="#fbe3d5"/><circle cx="354.9" cy="445.3" r="1.8" fill="#fbe3d5"/><circle cx="396.9" cy="444.4" r="1.8" fill="#fbe3d5"/><circle cx="401.5" cy="414.6" r="1.8" fill="#fbe3d5"/><circle cx="400.5" cy="420.3" r="1.8" fill="#fbe3d5"/><circle cx="423.0" cy="422.9" r="1.8" fill="#fbe3d5"/><circle cx="426.0" cy="421.2" r="1.8" fill="#fbe3d5"/><circle cx="428.2" cy="424.2" r="1.8" fill="#fbe3d5"/><circle cx="430.4" cy="423.4" r="1.8" fill="#fbe3d5"/><circle cx="430.2" cy="426.4" r="1.8" fill="#fbe3d5"/><circle cx="426.9" cy="427.3" r="1.8" fill="#fbe3d5"/><circle cx="435.8" cy="421.6" r="1.8" fill="#fbe3d5"/><circle cx="442.8" cy="419.7" r="1.8" fill="#fbe3d5"/><circle cx="452.3" cy="427.6" r="1.8" fill="#c1373a"/><circle cx="418.6" cy="429.0" r="1.8" fill="#fbe3d5"/><circle cx="423.4" cy="429.0" r="1.8" fill="#fbe3d5"/><circle cx="426.0" cy="429.9" r="1.8" fill="#f09b7a"/><circle cx="428.8" cy="433.9" r="1.8" fill="#fbe3d5"/><circle cx="430.6" cy="436.1" r="1.8" fill="#fbe3d5"/><circle cx="430.4" cy="439.6" r="1.8" fill="#fbe3d5"/><circle cx="433.9" cy="439.1" r="1.8" fill="#fbe3d5"/><circle cx="436.1" cy="441.7" r="1.8" fill="#fbe3d5"/><circle cx="438.7" cy="440.9" r="1.8" fill="#c1373a"/><circle cx="440.9" cy="440.4" r="1.8" fill="#f09b7a"/><circle cx="443.5" cy="440.0" r="1.8" fill="#fbe3d5"/><circle cx="445.7" cy="437.4" r="1.8" fill="#f09b7a"/><circle cx="448.8" cy="435.6" r="1.8" fill="#f09b7a"/><circle cx="451.9" cy="434.7" r="1.8" fill="#f09b7a"/><circle cx="450.1" cy="438.9" r="1.8" fill="#c1373a"/><circle cx="447.0" cy="439.6" r="1.8" fill="#f09b7a"/><circle cx="442.7" cy="441.3" r="1.8" fill="#f09b7a"/><circle cx="399.0" cy="435.2" r="1.8" fill="#fbe3d5"/><circle cx="392.9" cy="437.3" r="1.8" fill="#fbe3d5"/><circle cx="396.0" cy="438.2" r="1.8" fill="#fbe3d5"/><circle cx="405.1" cy="431.2" r="1.8" fill="#fbe3d5"/><circle cx="407.8" cy="430.8" r="1.8" fill="#fbe3d5"/><circle cx="410.4" cy="432.5" r="1.8" fill="#fbe3d5"/><circle cx="413.0" cy="431.2" r="1.8" fill="#fbe3d5"/><circle cx="415.2" cy="431.2" r="1.8" fill="#fbe3d5"/><circle cx="418.7" cy="428.6" r="1.8" fill="#fbe3d5"/><circle cx="420.9" cy="431.2" r="1.8" fill="#fbe3d5"/><circle cx="423.1" cy="429.0" r="1.8" fill="#fbe3d5"/><circle cx="425.7" cy="429.9" r="1.8" fill="#fbe3d5"/><circle cx="427.0" cy="427.7" r="1.8" fill="#fbe3d5"/><circle cx="430.1" cy="426.8" r="1.8" fill="#dceaf2"/><circle cx="404.7" cy="434.7" r="1.8" fill="#fbe3d5"/><circle cx="410.4" cy="435.6" r="1.8" fill="#fbe3d5"/><circle cx="415.7" cy="435.2" r="1.8" fill="#fbe3d5"/><circle cx="418.7" cy="433.0" r="1.8" fill="#fbe3d5"/><circle cx="421.8" cy="433.4" r="1.8" fill="#fbe3d5"/><circle cx="423.5" cy="436.5" r="1.8" fill="#fbe3d5"/><circle cx="428.8" cy="433.8" r="1.8" fill="#fbe3d5"/><circle cx="430.5" cy="436.5" r="1.8" fill="#fbe3d5"/><circle cx="400.8" cy="440.8" r="1.8" fill="#fbe3d5"/><circle cx="403.4" cy="440.8" r="1.8" fill="#fbe3d5"/><circle cx="406.0" cy="439.1" r="1.8" fill="#fbe3d5"/><circle cx="408.6" cy="439.5" r="1.8" fill="#fbe3d5"/><circle cx="411.3" cy="440.8" r="1.8" fill="#fbe3d5"/><circle cx="413.9" cy="438.2" r="1.8" fill="#fbe3d5"/><circle cx="416.1" cy="440.8" r="1.8" fill="#fbe3d5"/><circle cx="418.3" cy="437.3" r="1.8" fill="#fbe3d5"/><circle cx="420.5" cy="438.7" r="1.8" fill="#fbe3d5"/><circle cx="430.5" cy="440.0" r="1.8" fill="#fbe3d5"/><circle cx="406.0" cy="443.0" r="1.8" fill="#fbe3d5"/><circle cx="408.2" cy="444.3" r="1.8" fill="#fbe3d5"/><circle cx="411.3" cy="443.9" r="1.8" fill="#fbe3d5"/><circle cx="414.8" cy="444.8" r="1.8" fill="#fbe3d5"/><circle cx="417.8" cy="445.2" r="1.8" fill="#fbe3d5"/><circle cx="420.0" cy="443.5" r="1.8" fill="#fbe3d5"/><circle cx="421.8" cy="445.2" r="1.8" fill="#fbe3d5"/><circle cx="396.4" cy="445.2" r="1.8" fill="#fbe3d5"/><circle cx="399.0" cy="446.1" r="1.8" fill="#fbe3d5"/><circle cx="396.0" cy="447.0" r="1.8" fill="#fbe3d5"/><circle cx="399.9" cy="448.3" r="1.8" fill="#fbe3d5"/><circle cx="406.5" cy="446.5" r="1.8" fill="#f09b7a"/><circle cx="408.2" cy="447.4" r="1.8" fill="#fbe3d5"/><circle cx="410.4" cy="448.7" r="1.8" fill="#fbe3d5"/><circle cx="413.9" cy="449.6" r="1.8" fill="#fbe3d5"/><circle cx="417.0" cy="449.6" r="1.8" fill="#fbe3d5"/><circle cx="419.6" cy="448.3" r="1.8" fill="#fbe3d5"/><circle cx="421.3" cy="450.5" r="1.8" fill="#f09b7a"/><circle cx="415.7" cy="447.4" r="1.8" fill="#f09b7a"/><circle cx="400.8" cy="450.9" r="1.8" fill="#fbe3d5"/><circle cx="400.3" cy="453.1" r="1.8" fill="#fbe3d5"/><circle cx="393.8" cy="454.9" r="1.8" fill="#fbe3d5"/><circle cx="395.5" cy="453.5" r="1.8" fill="#fbe3d5"/><circle cx="404.7" cy="450.9" r="1.8" fill="#fbe3d5"/><circle cx="408.6" cy="452.2" r="1.8" fill="#fbe3d5"/><circle cx="405.1" cy="454.4" r="1.8" fill="#fbe3d5"/><circle cx="403.8" cy="455.7" r="1.8" fill="#fbe3d5"/><circle cx="411.3" cy="453.5" r="1.8" fill="#fbe3d5"/><circle cx="412.6" cy="455.7" r="1.8" fill="#fbe3d5"/><circle cx="415.7" cy="454.9" r="1.8" fill="#f09b7a"/><circle cx="418.7" cy="454.4" r="1.8" fill="#fbe3d5"/><circle cx="422.7" cy="454.9" r="1.8" fill="#fbe3d5"/><circle cx="402.5" cy="457.9" r="1.8" fill="#fbe3d5"/><circle cx="406.0" cy="457.9" r="1.8" fill="#fbe3d5"/><circle cx="409.5" cy="457.9" r="1.8" fill="#f09b7a"/><circle cx="411.3" cy="458.8" r="1.8" fill="#fbe3d5"/><circle cx="414.8" cy="457.5" r="1.8" fill="#fbe3d5"/><circle cx="420.5" cy="457.9" r="1.8" fill="#fbe3d5"/><circle cx="399.0" cy="461.0" r="1.8" fill="#fbe3d5"/><circle cx="405.6" cy="461.9" r="1.8" fill="#fbe3d5"/><circle cx="405.6" cy="460.1" r="1.8" fill="#fbe3d5"/><circle cx="402.5" cy="468.4" r="1.8" fill="#fbe3d5"/><circle cx="421.8" cy="470.6" r="1.8" fill="#fbe3d5"/><circle cx="391.1" cy="471.9" r="1.8" fill="#fbe3d5"/><circle cx="292.1" cy="446.0" r="1.8" fill="#dceaf2"/><circle cx="292.1" cy="448.0" r="1.8" fill="#dceaf2"/><circle cx="286.6" cy="447.5" r="1.8" fill="#fbe3d5"/><circle cx="289.2" cy="447.3" r="1.8" fill="#fbe3d5"/><circle cx="312.7" cy="444.9" r="1.8" fill="#dceaf2"/><circle cx="312.2" cy="447.0" r="1.8" fill="#dceaf2"/><circle cx="311.7" cy="449.0" r="1.8" fill="#dceaf2"/><circle cx="318.6" cy="448.0" r="1.8" fill="#dceaf2"/><circle cx="314.7" cy="453.1" r="1.8" fill="#fbe3d5"/><circle cx="310.1" cy="455.1" r="1.8" fill="#dceaf2"/><circle cx="313.7" cy="454.6" r="1.8" fill="#fbe3d5"/><circle cx="317.3" cy="454.6" r="1.8" fill="#dceaf2"/><circle cx="322.9" cy="454.4" r="1.8" fill="#dceaf2"/><circle cx="298.4" cy="460.3" r="1.8" fill="#dceaf2"/><circle cx="288.2" cy="468.9" r="1.8" fill="#dceaf2"/><circle cx="297.9" cy="479.0" r="1.8" fill="#dceaf2"/><circle cx="340.3" cy="455.1" r="1.8" fill="#dceaf2"/><circle cx="346.9" cy="447.0" r="1.8" fill="#fbe3d5"/><circle cx="349.0" cy="453.1" r="1.8" fill="#dceaf2"/><circle cx="348.5" cy="458.7" r="1.8" fill="#dceaf2"/><circle cx="349.0" cy="463.3" r="1.8" fill="#dceaf2"/><circle cx="356.2" cy="449.1" r="1.8" fill="#fbe3d5"/><circle cx="353.6" cy="452.2" r="1.8" fill="#fbe3d5"/><circle cx="357.1" cy="453.0" r="1.8" fill="#dceaf2"/><circle cx="361.0" cy="452.2" r="1.8" fill="#fbe3d5"/><circle cx="362.8" cy="454.3" r="1.8" fill="#fbe3d5"/><circle cx="353.6" cy="454.8" r="1.8" fill="#fbe3d5"/><circle cx="368.0" cy="450.8" r="1.8" fill="#fbe3d5"/><circle cx="353.1" cy="457.8" r="1.8" fill="#fbe3d5"/><circle cx="356.2" cy="457.7" r="1.8" fill="#dceaf2"/><circle cx="349.2" cy="460.9" r="1.8" fill="#fbe3d5"/><circle cx="358.4" cy="460.9" r="1.8" fill="#fbe3d5"/><circle cx="362.6" cy="460.5" r="1.8" fill="#fbe3d5"/><circle cx="350.9" cy="464.9" r="1.8" fill="#fbe3d5"/><circle cx="357.5" cy="466.2" r="1.8" fill="#fbe3d5"/><circle cx="372.4" cy="458.3" r="1.8" fill="#fbe3d5"/><circle cx="375.5" cy="457.0" r="1.8" fill="#fbe3d5"/><circle cx="383.8" cy="467.0" r="1.8" fill="#fbe3d5"/><circle cx="354.5" cy="473.6" r="1.8" fill="#fbe3d5"/><circle cx="357.1" cy="472.7" r="1.8" fill="#fbe3d5"/><circle cx="360.1" cy="472.7" r="1.8" fill="#fbe3d5"/><circle cx="355.8" cy="476.2" r="1.8" fill="#fbe3d5"/><circle cx="358.4" cy="474.9" r="1.8" fill="#dceaf2"/><circle cx="354.0" cy="477.6" r="1.8" fill="#fbe3d5"/><circle cx="359.7" cy="481.9" r="1.8" fill="#fbe3d5"/><circle cx="397.4" cy="474.9" r="1.8" fill="#fbe3d5"/><circle cx="392.6" cy="483.3" r="1.8" fill="#fbe3d5"/><circle cx="390.4" cy="483.3" r="1.8" fill="#fbe3d5"/><circle cx="400.1" cy="476.1" r="1.8" fill="#fbe3d5"/><circle cx="414.1" cy="483.5" r="1.8" fill="#fbe3d5"/><circle cx="415.7" cy="492.9" r="1.8" fill="#fbe3d5"/><circle cx="419.2" cy="500.1" r="1.8" fill="#fbe3d5"/><circle cx="388.1" cy="486.8" r="1.8" fill="#fbe3d5"/><circle cx="391.6" cy="485.8" r="1.8" fill="#dceaf2"/><circle cx="395.2" cy="486.8" r="1.8" fill="#dceaf2"/><circle cx="392.7" cy="488.8" r="1.8" fill="#fbe3d5"/><circle cx="395.7" cy="490.4" r="1.8" fill="#fbe3d5"/><circle cx="391.9" cy="491.9" r="1.8" fill="#fbe3d5"/><circle cx="395.2" cy="495.0" r="1.8" fill="#fbe3d5"/><circle cx="397.3" cy="497.0" r="1.8" fill="#fbe3d5"/><circle cx="400.3" cy="502.1" r="1.8" fill="#fbe3d5"/><circle cx="405.4" cy="503.1" r="1.8" fill="#dceaf2"/><circle cx="409.0" cy="503.7" r="1.8" fill="#fbe3d5"/><circle cx="413.1" cy="505.7" r="1.8" fill="#dceaf2"/><circle cx="227.3" cy="473.6" r="1.8" fill="#fbe3d5"/><circle cx="237.0" cy="474.0" r="1.8" fill="#dceaf2"/><circle cx="218.9" cy="477.9" r="1.8" fill="#fbe3d5"/><circle cx="223.2" cy="483.0" r="1.8" fill="#fbe3d5"/><circle cx="232.9" cy="484.6" r="1.8" fill="#fbe3d5"/><circle cx="237.0" cy="482.0" r="1.8" fill="#fbe3d5"/><circle cx="239.0" cy="484.1" r="1.8" fill="#fbe3d5"/><circle cx="241.4" cy="483.0" r="1.8" fill="#fbe3d5"/><circle cx="244.6" cy="481.0" r="1.8" fill="#fbe3d5"/><circle cx="245.1" cy="483.0" r="1.8" fill="#dceaf2"/><circle cx="247.7" cy="483.0" r="1.8" fill="#dceaf2"/><circle cx="249.7" cy="485.1" r="1.8" fill="#fbe3d5"/><circle cx="250.6" cy="478.9" r="1.8" fill="#dceaf2"/><circle cx="250.8" cy="476.7" r="1.8" fill="#fbe3d5"/><circle cx="252.3" cy="474.3" r="1.8" fill="#fbe3d5"/><circle cx="253.8" cy="486.1" r="1.8" fill="#fbe3d5"/><circle cx="256.9" cy="486.9" r="1.8" fill="#fbe3d5"/><circle cx="253.8" cy="491.7" r="1.8" fill="#fbe3d5"/><circle cx="262.2" cy="498.9" r="1.8" fill="#fbe3d5"/><circle cx="288.2" cy="492.0" r="1.8" fill="#fbe3d5"/><circle cx="294.8" cy="494.2" r="1.8" fill="#dceaf2"/><circle cx="298.5" cy="502.9" r="1.8" fill="#fbe3d5"/><circle cx="259.2" cy="505.8" r="1.8" fill="#dceaf2"/><circle cx="280.6" cy="509.8" r="1.8" fill="#dceaf2"/><circle cx="282.3" cy="512.2" r="1.8" fill="#fbe3d5"/><circle cx="281.9" cy="515.7" r="1.8" fill="#fbe3d5"/><circle cx="285.9" cy="519.3" r="1.8" fill="#fbe3d5"/><circle cx="291.9" cy="516.1" r="1.8" fill="#fbe3d5"/><circle cx="310.9" cy="521.0" r="1.8" fill="#dceaf2"/><circle cx="278.3" cy="529.6" r="1.8" fill="#fbe3d5"/><circle cx="284.0" cy="528.2" r="1.8" fill="#fbe3d5"/><circle cx="281.6" cy="531.5" r="1.8" fill="#dceaf2"/><circle cx="288.2" cy="531.5" r="1.8" fill="#fbe3d5"/><circle cx="279.0" cy="536.2" r="1.8" fill="#fbe3d5"/><circle cx="285.9" cy="537.5" r="1.8" fill="#fbe3d5"/><circle cx="267.1" cy="543.4" r="1.8" fill="#fbe3d5"/><circle cx="277.7" cy="543.4" r="1.8" fill="#fbe3d5"/><circle cx="460.4" cy="521.5" r="1.8" fill="#dceaf2"/><circle cx="469.7" cy="534.0" r="1.8" fill="#fbe3d5"/><circle cx="413.7" cy="541.1" r="1.8" fill="#fbe3d5"/><circle cx="448.0" cy="545.1" r="1.8" fill="#fbe3d5"/><circle cx="457.9" cy="549.5" r="1.8" fill="#fbe3d5"/><circle cx="464.3" cy="545.5" r="1.8" fill="#fbe3d5"/><circle cx="467.8" cy="542.1" r="1.8" fill="#fbe3d5"/><circle cx="466.0" cy="543.8" r="1.8" fill="#fbe3d5"/><circle cx="502.6" cy="548.0" r="1.8" fill="#fbe3d5"/><circle cx="499.2" cy="557.9" r="1.8" fill="#fbe3d5"/><circle cx="212.8" cy="470.2" r="1.8" fill="#dceaf2"/><circle cx="245.5" cy="425.7" r="1.8" fill="#f09b7a"/><circle cx="248.5" cy="425.2" r="1.8" fill="#c1373a"/><circle cx="249.5" cy="427.2" r="1.8" fill="#f09b7a"/><circle cx="251.5" cy="426.2" r="1.8" fill="#f09b7a"/><circle cx="246.0" cy="422.7" r="1.8" fill="#f09b7a"/><circle cx="391.1" cy="472.1" r="1.8" fill="#fbe3d5"/><circle cx="391.3" cy="471.8" r="1.8" fill="#fbe3d5"/><circle cx="104.8" cy="436.8" r="1.8" fill="#fbe3d5"/><circle cx="111.2" cy="445.1" r="1.8" fill="#fbe3d5"/><circle cx="117.7" cy="448.0" r="1.8" fill="#fbe3d5"/><circle cx="107.8" cy="440.5" r="1.8" fill="#fbe3d5"/><circle cx="117.6" cy="431.8" r="1.8" fill="#fbe3d5"/><circle cx="117.1" cy="445.7" r="1.8" fill="#f09b7a"/><circle cx="111.3" cy="441.6" r="1.8" fill="#fbe3d5"/><circle cx="104.2" cy="429.0" r="1.8" fill="#fbe3d5"/><circle cx="99.7" cy="437.3" r="1.8" fill="#fbe3d5"/><circle cx="96.2" cy="429.8" r="1.8" fill="#fbe3d5"/><circle cx="101.6" cy="435.9" r="1.8" fill="#fbe3d5"/><circle cx="119.5" cy="428.1" r="1.8" fill="#f09b7a"/><circle cx="110.3" cy="428.4" r="1.8" fill="#fbe3d5"/><circle cx="126.6" cy="429.3" r="1.8" fill="#fbe3d5"/><circle cx="95.5" cy="447.8" r="1.8" fill="#fbe3d5"/><circle cx="93.7" cy="429.0" r="1.8" fill="#fbe3d5"/><circle cx="105.7" cy="444.5" r="1.8" fill="#fbe3d5"/><circle cx="133.3" cy="426.3" r="1.8" fill="#fbe3d5"/><circle cx="101.1" cy="427.7" r="1.8" fill="#fbe3d5"/><circle cx="85.7" cy="444.5" r="1.8" fill="#fbe3d5"/><circle cx="103.4" cy="432.8" r="1.8" fill="#fbe3d5"/><circle cx="98.5" cy="433.5" r="1.8" fill="#fbe3d5"/><circle cx="94.0" cy="433.9" r="1.8" fill="#fbe3d5"/><circle cx="101.6" cy="430.7" r="1.8" fill="#fbe3d5"/><circle cx="97.6" cy="446.3" r="1.8" fill="#fbe3d5"/><circle cx="112.7" cy="432.6" r="1.8" fill="#fbe3d5"/><circle cx="107.2" cy="429.4" r="1.8" fill="#fbe3d5"/><circle cx="99.3" cy="441.0" r="1.8" fill="#fbe3d5"/><circle cx="103.4" cy="447.0" r="1.8" fill="#fbe3d5"/><circle cx="96.8" cy="426.6" r="1.8" fill="#fbe3d5"/><circle cx="115.0" cy="442.9" r="1.8" fill="#fbe3d5"/><circle cx="101.0" cy="444.9" r="1.8" fill="#dceaf2"/><circle cx="120.2" cy="435.5" r="1.8" fill="#fbe3d5"/><circle cx="108.0" cy="426.9" r="1.8" fill="#fbe3d5"/><circle cx="116.4" cy="434.2" r="1.8" fill="#fbe3d5"/><circle cx="116.3" cy="450.1" r="1.8" fill="#fbe3d5"/><circle cx="104.8" cy="439.3" r="1.8" fill="#f09b7a"/><circle cx="105.8" cy="441.6" r="1.8" fill="#fbe3d5"/><circle cx="107.2" cy="436.5" r="1.8" fill="#fbe3d5"/><circle cx="90.7" cy="436.3" r="1.8" fill="#fbe3d5"/><circle cx="110.2" cy="434.4" r="1.8" fill="#fbe3d5"/><circle cx="123.3" cy="426.8" r="1.8" fill="#fbe3d5"/><circle cx="130.6" cy="430.8" r="1.8" fill="#fbe3d5"/><circle cx="126.4" cy="426.2" r="1.8" fill="#fbe3d5"/><circle cx="129.9" cy="424.9" r="1.8" fill="#fbe3d5"/><circle cx="123.8" cy="436.7" r="1.8" fill="#fbe3d5"/><circle cx="93.2" cy="447.2" r="1.8" fill="#fbe3d5"/><circle cx="117.5" cy="440.9" r="1.8" fill="#fbe3d5"/><circle cx="122.1" cy="429.9" r="1.8" fill="#fbe3d5"/><circle cx="115.6" cy="438.9" r="1.8" fill="#fbe3d5"/><circle cx="108.2" cy="447.2" r="1.8" fill="#fbe3d5"/><circle cx="122.8" cy="432.6" r="1.8" fill="#fbe3d5"/><circle cx="95.0" cy="443.0" r="1.8" fill="#fbe3d5"/><circle cx="120.6" cy="440.0" r="1.8" fill="#fbe3d5"/><circle cx="93.6" cy="438.5" r="1.8" fill="#fbe3d5"/><circle cx="89.7" cy="443.5" r="1.8" fill="#fbe3d5"/><circle cx="101.0" cy="439.5" r="1.8" fill="#fbe3d5"/><circle cx="117.4" cy="437.1" r="1.8" fill="#fbe3d5"/><circle cx="112.3" cy="426.8" r="1.8" fill="#fbe3d5"/><circle cx="133.3" cy="428.6" r="1.8" fill="#fbe3d5"/><circle cx="125.7" cy="434.9" r="1.8" fill="#fbe3d5"/><circle cx="113.2" cy="429.1" r="1.8" fill="#fbe3d5"/><circle cx="97.2" cy="436.1" r="1.8" fill="#f09b7a"/><circle cx="91.2" cy="438.5" r="1.8" fill="#fbe3d5"/><circle cx="109.6" cy="438.6" r="1.8" fill="#fbe3d5"/><circle cx="118.6" cy="450.6" r="1.8" fill="#dceaf2"/><circle cx="98.1" cy="438.9" r="1.8" fill="#fbe3d5"/><circle cx="86.8" cy="441.1" r="1.8" fill="#fbe3d5"/><circle cx="113.9" cy="436.6" r="1.8" fill="#fbe3d5"/><circle cx="117.5" cy="443.2" r="1.8" fill="#fbe3d5"/><circle cx="105.7" cy="434.7" r="1.8" fill="#fbe3d5"/><circle cx="127.0" cy="432.8" r="1.8" fill="#fbe3d5"/><circle cx="119.6" cy="442.3" r="1.8" fill="#fbe3d5"/><circle cx="92.1" cy="442.1" r="1.8" fill="#fbe3d5"/><circle cx="114.8" cy="447.7" r="1.8" fill="#fbe3d5"/><circle cx="108.8" cy="443.2" r="1.8" fill="#f09b7a"/><circle cx="105.4" cy="426.6" r="1.8" fill="#fbe3d5"/><circle cx="98.2" cy="428.4" r="1.8" fill="#fbe3d5"/><circle cx="103.3" cy="442.0" r="1.8" fill="#fbe3d5"/><circle cx="89.0" cy="445.7" r="1.8" fill="#f09b7a"/><circle cx="116.3" cy="430.0" r="1.8" fill="#fbe3d5"/><circle cx="110.7" cy="430.6" r="1.8" fill="#fbe3d5"/><circle cx="105.1" cy="431.3" r="1.8" fill="#fbe3d5"/><circle cx="108.4" cy="432.1" r="1.8" fill="#fbe3d5"/><circle cx="92.0" cy="433.0" r="1.8" fill="#fbe3d5"/><circle cx="94.6" cy="436.1" r="1.8" fill="#fbe3d5"/><circle cx="89.7" cy="440.9" r="1.8" fill="#fbe3d5"/><circle cx="110.8" cy="436.8" r="1.8" fill="#fbe3d5"/><circle cx="98.7" cy="444.4" r="1.8" fill="#fbe3d5"/><circle cx="131.0" cy="427.0" r="1.8" fill="#fbe3d5"/><circle cx="99.8" cy="447.9" r="1.8" fill="#fbe3d5"/><circle cx="117.3" cy="453.5" r="1.8" fill="#fbe3d5"/><circle cx="92.1" cy="426.2" r="1.8" fill="#fbe3d5"/><circle cx="103.0" cy="426.4" r="1.8" fill="#fbe3d5"/><circle cx="124.5" cy="429.7" r="1.8" fill="#fbe3d5"/><circle cx="91.8" cy="445.0" r="1.8" fill="#fbe3d5"/><circle cx="103.4" cy="444.5" r="1.8" fill="#fbe3d5"/><circle cx="112.9" cy="439.1" r="1.8" fill="#f09b7a"/><circle cx="115.0" cy="427.5" r="1.8" fill="#fbe3d5"/><circle cx="95.6" cy="440.3" r="1.8" fill="#fbe3d5"/><circle cx="117.6" cy="425.8" r="1.8" fill="#fbe3d5"/><circle cx="119.9" cy="430.9" r="1.8" fill="#fbe3d5"/><circle cx="129.0" cy="428.6" r="1.8" fill="#fbe3d5"/><circle cx="121.0" cy="426.0" r="1.8" fill="#fbe3d5"/><circle cx="99.1" cy="431.3" r="1.8" fill="#fbe3d5"/><circle cx="96.3" cy="434.0" r="1.8" fill="#fbe3d5"/><circle cx="94.3" cy="426.8" r="1.8" fill="#fbe3d5"/><circle cx="84.5" cy="440.6" r="1.8" fill="#fbe3d5"/><circle cx="88.8" cy="437.9" r="1.8" fill="#fbe3d5"/><circle cx="112.7" cy="446.6" r="1.8" fill="#fbe3d5"/><circle cx="119.5" cy="445.2" r="1.8" fill="#fbe3d5"/><circle cx="101.0" cy="442.4" r="1.8" fill="#f09b7a"/><circle cx="122.1" cy="438.2" r="1.8" fill="#fbe3d5"/><circle cx="97.0" cy="442.1" r="1.8" fill="#fbe3d5"/><circle cx="115.1" cy="432.3" r="1.8" fill="#fbe3d5"/><circle cx="123.5" cy="440.1" r="1.8" fill="#fbe3d5"/><circle cx="100.9" cy="433.4" r="1.8" fill="#fbe3d5"/><circle cx="99.7" cy="425.7" r="1.8" fill="#fbe3d5"/><circle cx="91.9" cy="430.7" r="1.8" fill="#fbe3d5"/><circle cx="120.2" cy="433.3" r="1.8" fill="#fbe3d5"/><circle cx="124.9" cy="432.0" r="1.8" fill="#fbe3d5"/><circle cx="122.0" cy="442.1" r="1.8" fill="#fbe3d5"/><circle cx="119.7" cy="437.7" r="1.8" fill="#fbe3d5"/><circle cx="94.0" cy="431.5" r="1.8" fill="#f09b7a"/><circle cx="91.0" cy="447.5" r="1.8" fill="#fbe3d5"/><circle cx="114.6" cy="445.3" r="1.8" fill="#fbe3d5"/><circle cx="95.2" cy="445.3" r="1.8" fill="#fbe3d5"/></g></g><rect x="31.50" y="392.70" width="479.30" height="173.50" fill="none" stroke="#555" stroke-width="1"/><text x="23.7" y="555.32" text-anchor="end">40°S</text><text x="518" y="555.32">40°S</text><text x="23.7" y="525.26" text-anchor="end">20°S</text><text x="518" y="525.26">20°S</text><text x="23.7" y="495.20" text-anchor="end">0°</text><text x="518" y="495.20">0°</text><text x="23.7" y="465.14" text-anchor="end">20°N</text><text x="518" y="465.14">20°N</text><text x="23.7" y="435.08" text-anchor="end">40°N</text><text x="518" y="435.08">40°N</text><text x="23.7" y="405.02" text-anchor="end">60°N</text><text x="518" y="405.02">60°N</text><text x="60.0" y="547.90" style="font-size:14.6px;stroke-width:0.08px">(e)</text><text x="59.08" y="9.2" text-anchor="middle">120°W</text><text x="59.08" y="581.0" text-anchor="middle">120°W</text><text x="149.44" y="9.2" text-anchor="middle">60°W</text><text x="149.44" y="581.0" text-anchor="middle">60°W</text><text x="239.80" y="9.2" text-anchor="middle">0°</text><text x="239.80" y="581.0" text-anchor="middle">0°</text><text x="330.16" y="9.2" text-anchor="middle">60°E</text><text x="330.16" y="581.0" text-anchor="middle">60°E</text><text x="420.52" y="9.2" text-anchor="middle">120°E</text><text x="420.52" y="581.0" text-anchor="middle">120°E</text><path d="M567.50 144.30H642.40" stroke="#777" stroke-width="0.9" stroke-dasharray="2.6 1.5"/><path d="M592.60 43.20V89.50M592.60 121.30V152.40" stroke="#444" stroke-width="0.9"/><path d="M589.30 43.20H595.90M589.30 152.40H595.90" stroke="#444" stroke-width="0.9"/><rect x="586.20" y="89.50" width="12.60" height="31.80" fill="#da7b90" stroke="#555" stroke-width="0.7"/><path d="M586.20 107.60H598.80" stroke="#333" stroke-width="1.1"/><path d="M590.00 99.50H595.20M592.60 96.90V102.10" stroke="#000" stroke-width="1.3"/><path d="M617.50 86.50V117.50M617.50 138.70V168.40" stroke="#444" stroke-width="0.9"/><path d="M614.20 86.50H620.80M614.20 168.40H620.80" stroke="#444" stroke-width="0.9"/><rect x="611.30" y="117.50" width="12.60" height="21.20" fill="#8ec0dd" stroke="#555" stroke-width="0.7"/><path d="M611.30 130.30H623.90" stroke="#333" stroke-width="1.1"/><path d="M614.90 126.30H620.10M617.50 123.70V128.90" stroke="#000" stroke-width="1.3"/><path d="M592.60 35.70V29.30H617.50V74.20" fill="none" stroke="#333" stroke-width="0.9"/><text x="607.35" y="32.20" text-anchor="middle" style="font-size:10px">***</text><rect x="567.50" y="22.50" width="74.90" height="152.50" fill="none" stroke="#777" stroke-width="0.9"/><path d="M642.40 48.00H647.60" stroke="#333" stroke-width="0.9"/><text x="653.30" y="52.20">1.5</text><path d="M642.40 80.20H647.60" stroke="#333" stroke-width="0.9"/><text x="653.30" y="84.40">1.0</text><path d="M642.40 112.20H647.60" stroke="#333" stroke-width="0.9"/><text x="653.30" y="116.40">0.5</text><path d="M642.40 144.30H647.60" stroke="#333" stroke-width="0.9"/><text x="653.30" y="148.50">0.0</text><path d="M592.60 175.00V180.20" stroke="#333" stroke-width="0.9"/><path d="M617.50 175.00V180.20" stroke="#333" stroke-width="0.9"/><text x="614.80" y="17.90" style="font-size:13px">×</text><text x="623.00" y="17.60">10</text><text x="634.40" y="11.10" style="font-size:7.4px">−2</text><text transform="translate(681.50 98.75) rotate(-90)" text-anchor="middle">ΔHW</text><text x="547.30" y="17.90" style="font-size:14.6px;stroke-width:0.08px">(b)</text><path d="M570.70 335.50H639.50" stroke="#777" stroke-width="0.9" stroke-dasharray="2.6 1.5"/><path d="M593.60 234.50V279.50M593.60 311.40V342.40" stroke="#444" stroke-width="0.9"/><path d="M590.30 234.50H596.90M590.30 342.40H596.90" stroke="#444" stroke-width="0.9"/><rect x="588.30" y="279.50" width="11.20" height="31.90" fill="#da7b90" stroke="#555" stroke-width="0.7"/><path d="M588.30 297.40H599.50" stroke="#333" stroke-width="1.1"/><path d="M591.00 290.00H596.20M593.60 287.40V292.60" stroke="#000" stroke-width="1.3"/><path d="M616.80 278.40V309.00M616.80 329.50V356.50" stroke="#444" stroke-width="0.9"/><path d="M613.50 278.40H620.10M613.50 356.50H620.10" stroke="#444" stroke-width="0.9"/><rect x="611.20" y="309.00" width="11.60" height="20.50" fill="#8ec0dd" stroke="#555" stroke-width="0.7"/><path d="M611.20 320.50H622.80" stroke="#333" stroke-width="1.1"/><path d="M614.20 316.60H619.40M616.80 314.00V319.20" stroke="#000" stroke-width="1.3"/><path d="M593.60 228.60V217.40H616.80V271.90" fill="none" stroke="#333" stroke-width="0.9"/><text x="607.50" y="220.30" text-anchor="middle" style="font-size:10px">***</text><rect x="570.70" y="210.50" width="68.80" height="152.70" fill="none" stroke="#777" stroke-width="0.9"/><path d="M639.50 228.20H644.70" stroke="#333" stroke-width="0.9"/><text x="650.40" y="232.40">2.0</text><path d="M639.50 255.10H644.70" stroke="#333" stroke-width="0.9"/><text x="650.40" y="259.30">1.5</text><path d="M639.50 282.00H644.70" stroke="#333" stroke-width="0.9"/><text x="650.40" y="286.20">1.0</text><path d="M639.50 308.90H644.70" stroke="#333" stroke-width="0.9"/><text x="650.40" y="313.10">0.5</text><path d="M639.50 335.50H644.70" stroke="#333" stroke-width="0.9"/><text x="650.40" y="339.70">0.0</text><path d="M639.50 362.50H644.70" stroke="#333" stroke-width="0.9"/><text x="650.40" y="366.70">−0.5</text><path d="M593.60 363.20V368.40" stroke="#333" stroke-width="0.9"/><path d="M616.80 363.20V368.40" stroke="#333" stroke-width="0.9"/><text x="611.90" y="205.90" style="font-size:13px">×</text><text x="620.10" y="205.60">10</text><text x="631.50" y="199.10" style="font-size:7.4px">−2</text><text transform="translate(684.40 286.85) rotate(-90)" text-anchor="middle">ΔHW</text><text x="550.20" y="206.10" style="font-size:14.6px;stroke-width:0.08px">(d)</text><path d="M572.10 513.30H635.50" stroke="#777" stroke-width="0.9" stroke-dasharray="2.6 1.5"/><path d="M593.10 421.40V466.50M593.10 497.30V542.60" stroke="#444" stroke-width="0.9"/><path d="M589.80 421.40H596.40M589.80 542.60H596.40" stroke="#444" stroke-width="0.9"/><rect x="587.50" y="466.50" width="10.90" height="30.80" fill="#da7b90" stroke="#555" stroke-width="0.7"/><path d="M587.50 481.30H598.40" stroke="#333" stroke-width="1.1"/><path d="M590.50 475.80H595.70M593.10 473.20V478.40" stroke="#000" stroke-width="1.3"/><path d="M614.30 464.60V492.40M614.30 511.60V537.30" stroke="#444" stroke-width="0.9"/><path d="M611.00 464.60H617.60M611.00 537.30H617.60" stroke="#444" stroke-width="0.9"/><rect x="608.80" y="492.40" width="10.90" height="19.20" fill="#8ec0dd" stroke="#555" stroke-width="0.7"/><path d="M608.80 504.40H619.70" stroke="#333" stroke-width="1.1"/><path d="M611.70 500.30H616.90M614.30 497.70V502.90" stroke="#000" stroke-width="1.3"/><path d="M593.10 413.50V403.40H614.30V453.30" fill="none" stroke="#333" stroke-width="0.9"/><text x="606.00" y="406.30" text-anchor="middle" style="font-size:10px">***</text><rect x="572.10" y="396.70" width="63.40" height="152.40" fill="none" stroke="#777" stroke-width="0.9"/><path d="M635.50 413.50H640.70" stroke="#333" stroke-width="0.9"/><text x="645.60" y="417.70">1.00</text><path d="M635.50 438.30H640.70" stroke="#333" stroke-width="0.9"/><text x="645.60" y="442.50">0.75</text><path d="M635.50 463.10H640.70" stroke="#333" stroke-width="0.9"/><text x="645.60" y="467.30">0.50</text><path d="M635.50 488.30H640.70" stroke="#333" stroke-width="0.9"/><text x="645.60" y="492.50">0.25</text><path d="M635.50 513.30H640.70" stroke="#333" stroke-width="0.9"/><text x="645.60" y="517.50">0.00</text><path d="M635.50 538.30H640.70" stroke="#333" stroke-width="0.9"/><text x="645.60" y="542.50">−0.25</text><path d="M593.10 549.10V554.30" stroke="#333" stroke-width="0.9"/><path d="M614.30 549.10V554.30" stroke="#333" stroke-width="0.9"/><text x="607.90" y="392.10" style="font-size:13px">×</text><text x="616.10" y="391.80">10</text><text x="627.50" y="385.30" style="font-size:7.4px">−2</text><text transform="translate(684.90 472.90) rotate(-90)" text-anchor="middle">ΔHW</text><text x="552.20" y="395.50" style="font-size:14.6px;stroke-width:0.08px">(f)</text><text x="593.10" y="568.6" text-anchor="middle">GNc</text><text x="614.30" y="568.6" text-anchor="middle">GSc</text><path d="M109.20 607.45L124.60 603.60L124.60 611.30Z" fill="#1b3868"/><path d="M435.80 607.45L420.50 603.60L420.50 611.30Z" fill="#67001f"/><rect x="124.30" y="603.60" width="37.36" height="7.70" fill="#1b3868"/><rect x="161.36" y="603.60" width="37.36" height="7.70" fill="#4580ba"/><rect x="198.43" y="603.60" width="37.36" height="7.70" fill="#87beda"/><rect x="235.49" y="603.60" width="37.36" height="7.70" fill="#dceaf2"/><rect x="272.55" y="603.60" width="37.36" height="7.70" fill="#fbe3d5"/><rect x="309.61" y="603.60" width="37.36" height="7.70" fill="#f09b7a"/><rect x="346.68" y="603.60" width="37.36" height="7.70" fill="#c1373a"/><rect x="383.74" y="603.60" width="37.36" height="7.70" fill="#67001f"/><path d="M109.20 607.45L124.30 603.60H420.80L435.80 607.45L420.80 611.30H124.30Z" fill="none" stroke="#444" stroke-width="0.6"/><path d="M124.30 611.30V615.80" stroke="#222" stroke-width="0.8"/><text x="124.30" y="628.6" text-anchor="middle">−0.02</text><path d="M198.43 611.30V615.80" stroke="#222" stroke-width="0.8"/><text x="198.43" y="628.6" text-anchor="middle">−0.01</text><path d="M272.55 611.30V615.80" stroke="#222" stroke-width="0.8"/><text x="272.55" y="628.6" text-anchor="middle">0.00</text><path d="M346.68 611.30V615.80" stroke="#222" stroke-width="0.8"/><text x="346.68" y="628.6" text-anchor="middle">0.01</text><path d="M420.80 611.30V615.80" stroke="#222" stroke-width="0.8"/><text x="420.80" y="628.6" text-anchor="middle">0.02</text><text x="272.6" y="643.8" text-anchor="middle">ΔHW</text>
</svg>
</body></html>
